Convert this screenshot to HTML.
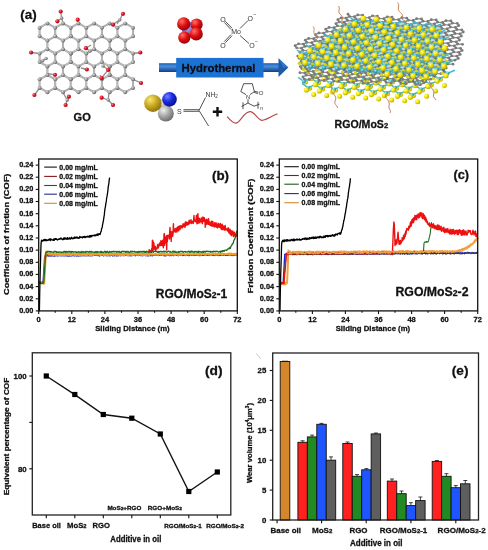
<!DOCTYPE html>
<html><head><meta charset="utf-8"><title>RGO/MoS2 figure</title>
<style>
html,body{margin:0;padding:0;background:#fff;}
body{width:488px;height:550px;overflow:hidden;}
svg{display:block;filter:blur(0.3px);}
text{font-family:'Liberation Sans',Arial,sans-serif;font-weight:bold;stroke:#111;stroke-width:0.28px;}
</style></head>
<body>
<svg width="488" height="550" viewBox="0 0 488 550">
<defs>
<radialGradient id="gC" cx="0.35" cy="0.35" r="0.7"><stop offset="0" stop-color="#d8d8d8"/><stop offset="0.6" stop-color="#8e8e8e"/><stop offset="1" stop-color="#5a5a5a"/></radialGradient>
<radialGradient id="gO" cx="0.35" cy="0.35" r="0.7"><stop offset="0" stop-color="#ff8080"/><stop offset="0.5" stop-color="#e01020"/><stop offset="1" stop-color="#a00010"/></radialGradient>
<radialGradient id="gS" cx="0.35" cy="0.35" r="0.7"><stop offset="0" stop-color="#ffff9a"/><stop offset="0.5" stop-color="#f2e200"/><stop offset="1" stop-color="#b8a800"/></radialGradient>
<radialGradient id="gMo" cx="0.35" cy="0.35" r="0.7"><stop offset="0" stop-color="#a0f0f8"/><stop offset="0.6" stop-color="#38b0c0"/><stop offset="1" stop-color="#207888"/></radialGradient>
<radialGradient id="gS2" cx="0.35" cy="0.3" r="0.75"><stop offset="0" stop-color="#f8e878"/><stop offset="0.5" stop-color="#c8a820"/><stop offset="1" stop-color="#8a7010"/></radialGradient>
<radialGradient id="gN" cx="0.35" cy="0.3" r="0.75"><stop offset="0" stop-color="#7080ff"/><stop offset="0.5" stop-color="#1828e0"/><stop offset="1" stop-color="#0a1080"/></radialGradient>
<radialGradient id="gC2" cx="0.35" cy="0.3" r="0.75"><stop offset="0" stop-color="#f0f0f0"/><stop offset="0.5" stop-color="#a8a8a8"/><stop offset="1" stop-color="#686868"/></radialGradient>
<radialGradient id="gO2" cx="0.35" cy="0.3" r="0.75"><stop offset="0" stop-color="#ff7070"/><stop offset="0.5" stop-color="#e01010"/><stop offset="1" stop-color="#900008"/></radialGradient>
<radialGradient id="gP" cx="0.4" cy="0.4" r="0.7"><stop offset="0" stop-color="#a898e8"/><stop offset="1" stop-color="#5848a0"/></radialGradient>
<linearGradient id="gShaft" x1="0" y1="0" x2="0" y2="1"><stop offset="0" stop-color="#1a5fb0"/><stop offset="0.35" stop-color="#4a90e0"/><stop offset="1" stop-color="#123f80"/></linearGradient>
</defs>
<rect width="488" height="550" fill="#fff"/>
<text x="20.3" y="18.6" font-size="12.6" text-anchor="start" fill="#111"  textLength="16.4" lengthAdjust="spacingAndGlyphs">(a)</text>
<path d="M109.6 75.0L117.4 79.3M101.9 27.7L101.9 36.3M78.5 66.4L78.5 75.0M86.3 53.5L86.3 62.1M70.7 62.1L78.5 66.4M78.5 92.2L86.3 87.9M101.9 79.3L101.9 87.9M117.4 53.5L117.4 62.1M101.9 53.5L109.7 49.2M117.4 53.5L125.2 49.2M117.4 62.1L125.2 66.4M55.2 27.7L63.0 23.4M94.1 66.4L101.9 62.1M47.4 40.6L47.4 49.2M101.9 53.5L109.6 49.2M55.2 27.7L55.2 36.3M133.0 79.3L133.0 87.9M101.9 79.3L109.6 75.0M47.4 92.2L55.2 87.9M101.9 62.1L109.7 66.4M94.1 23.4L101.9 27.7M125.2 49.2L133.0 53.5M63.0 92.2L70.7 87.9M125.2 66.4L125.2 75.0M78.5 40.6L78.5 49.2M63.0 40.6L70.7 36.3M47.4 66.4L55.2 62.1M63.0 49.2L70.7 53.5M109.7 40.6L117.4 36.3M55.2 79.3L63.0 75.0M63.0 75.0L70.8 79.3M94.1 92.2L101.9 87.9M109.6 92.2L117.4 87.9M70.7 87.9L78.5 92.2M63.0 40.6L70.8 36.3M78.5 40.6L86.3 36.3M109.7 66.4L109.7 75.0M39.6 79.3L39.6 87.9M78.5 49.2L86.3 53.5M47.4 23.4L55.2 27.7M39.6 27.7L47.4 23.4M47.4 49.2L55.2 53.5M86.3 62.1L94.1 66.4M55.2 53.5L63.0 49.2M63.0 66.4L63.0 75.0M109.7 75.0L117.4 79.3M78.5 23.4L86.3 27.7M63.0 49.2L70.8 53.5M101.9 87.9L109.6 92.2M39.6 27.7L39.6 36.3M125.2 40.6L125.2 49.2M55.2 36.3L63.0 40.6M109.7 66.4L117.4 62.1M125.2 66.4L133.0 62.1M70.7 79.3L70.7 87.9M133.0 53.5L133.0 62.1M109.6 40.6L117.4 36.3M109.7 49.2L117.4 53.5M125.2 40.6L133.0 36.3M86.3 79.3L86.3 87.9M101.9 36.3L109.6 40.6M78.5 66.4L86.3 62.1M39.6 87.9L47.4 92.2M39.6 79.3L47.4 75.0M109.7 40.6L109.7 49.2M39.6 53.5L39.6 62.1M101.9 53.5L101.9 62.1M133.0 27.7L133.0 36.3M47.4 40.6L55.2 36.3M47.4 75.0L55.2 79.3M78.5 75.0L86.3 79.3M63.0 40.6L63.0 49.2M94.1 66.4L94.1 75.0M117.4 79.3L117.4 87.9M94.1 40.6L101.9 36.3M117.4 36.3L125.2 40.6M109.6 66.4L117.4 62.1M125.2 75.0L133.0 79.3M70.8 53.5L78.5 49.2M55.2 62.1L63.0 66.4M94.1 40.6L94.1 49.2M63.0 66.4L70.7 62.1M70.7 27.7L78.5 23.4M101.9 62.1L109.6 66.4M125.2 92.2L133.0 87.9M125.2 23.4L133.0 27.7M86.3 27.7L94.1 23.4M94.1 75.0L101.9 79.3M117.4 27.7L117.4 36.3M117.4 27.7L125.2 23.4M39.6 53.5L47.4 49.2M109.6 23.4L117.4 27.7M70.7 27.7L70.7 36.3M86.3 53.5L94.1 49.2M70.8 79.3L78.5 75.0M109.6 49.2L117.4 53.5M55.2 79.3L55.2 87.9M117.4 87.9L125.2 92.2M101.9 79.3L109.7 75.0M63.0 23.4L70.7 27.7M101.9 27.7L109.6 23.4M55.2 87.9L63.0 92.2M70.7 36.3L78.5 40.6M94.1 49.2L101.9 53.5M70.7 53.5L78.5 49.2M47.4 66.4L47.4 75.0M70.7 79.3L78.5 75.0M117.4 79.3L125.2 75.0M55.2 53.5L55.2 62.1M86.3 87.9L94.1 92.2M39.6 36.3L47.4 40.6M70.8 36.3L78.5 40.6M101.9 36.3L109.7 40.6M86.3 79.3L94.1 75.0M70.7 53.5L70.7 62.1M86.3 36.3L94.1 40.6M39.6 62.1L47.4 66.4M86.3 27.7L86.3 36.3M63.0 75.0L70.7 79.3M70.8 62.1L78.5 66.4M63.0 66.4L70.8 62.1" stroke="#a4a4a4" stroke-width="2.0" fill="none" stroke-linecap="round"/>
<path d="M109.6 75.0L117.4 79.3M101.9 27.7L101.9 36.3M78.5 66.4L78.5 75.0M86.3 53.5L86.3 62.1M70.7 62.1L78.5 66.4M78.5 92.2L86.3 87.9M101.9 79.3L101.9 87.9M117.4 53.5L117.4 62.1M101.9 53.5L109.7 49.2M117.4 53.5L125.2 49.2M117.4 62.1L125.2 66.4M55.2 27.7L63.0 23.4M94.1 66.4L101.9 62.1M47.4 40.6L47.4 49.2M101.9 53.5L109.6 49.2M55.2 27.7L55.2 36.3M133.0 79.3L133.0 87.9M101.9 79.3L109.6 75.0M47.4 92.2L55.2 87.9M101.9 62.1L109.7 66.4M94.1 23.4L101.9 27.7M125.2 49.2L133.0 53.5M63.0 92.2L70.7 87.9M125.2 66.4L125.2 75.0M78.5 40.6L78.5 49.2M63.0 40.6L70.7 36.3M47.4 66.4L55.2 62.1M63.0 49.2L70.7 53.5M109.7 40.6L117.4 36.3M55.2 79.3L63.0 75.0M63.0 75.0L70.8 79.3M94.1 92.2L101.9 87.9M109.6 92.2L117.4 87.9M70.7 87.9L78.5 92.2M63.0 40.6L70.8 36.3M78.5 40.6L86.3 36.3M109.7 66.4L109.7 75.0M39.6 79.3L39.6 87.9M78.5 49.2L86.3 53.5M47.4 23.4L55.2 27.7M39.6 27.7L47.4 23.4M47.4 49.2L55.2 53.5M86.3 62.1L94.1 66.4M55.2 53.5L63.0 49.2M63.0 66.4L63.0 75.0M109.7 75.0L117.4 79.3M78.5 23.4L86.3 27.7M63.0 49.2L70.8 53.5M101.9 87.9L109.6 92.2M39.6 27.7L39.6 36.3M125.2 40.6L125.2 49.2M55.2 36.3L63.0 40.6M109.7 66.4L117.4 62.1M125.2 66.4L133.0 62.1M70.7 79.3L70.7 87.9M133.0 53.5L133.0 62.1M109.6 40.6L117.4 36.3M109.7 49.2L117.4 53.5M125.2 40.6L133.0 36.3M86.3 79.3L86.3 87.9M101.9 36.3L109.6 40.6M78.5 66.4L86.3 62.1M39.6 87.9L47.4 92.2M39.6 79.3L47.4 75.0M109.7 40.6L109.7 49.2M39.6 53.5L39.6 62.1M101.9 53.5L101.9 62.1M133.0 27.7L133.0 36.3M47.4 40.6L55.2 36.3M47.4 75.0L55.2 79.3M78.5 75.0L86.3 79.3M63.0 40.6L63.0 49.2M94.1 66.4L94.1 75.0M117.4 79.3L117.4 87.9M94.1 40.6L101.9 36.3M117.4 36.3L125.2 40.6M109.6 66.4L117.4 62.1M125.2 75.0L133.0 79.3M70.8 53.5L78.5 49.2M55.2 62.1L63.0 66.4M94.1 40.6L94.1 49.2M63.0 66.4L70.7 62.1M70.7 27.7L78.5 23.4M101.9 62.1L109.6 66.4M125.2 92.2L133.0 87.9M125.2 23.4L133.0 27.7M86.3 27.7L94.1 23.4M94.1 75.0L101.9 79.3M117.4 27.7L117.4 36.3M117.4 27.7L125.2 23.4M39.6 53.5L47.4 49.2M109.6 23.4L117.4 27.7M70.7 27.7L70.7 36.3M86.3 53.5L94.1 49.2M70.8 79.3L78.5 75.0M109.6 49.2L117.4 53.5M55.2 79.3L55.2 87.9M117.4 87.9L125.2 92.2M101.9 79.3L109.7 75.0M63.0 23.4L70.7 27.7M101.9 27.7L109.6 23.4M55.2 87.9L63.0 92.2M70.7 36.3L78.5 40.6M94.1 49.2L101.9 53.5M70.7 53.5L78.5 49.2M47.4 66.4L47.4 75.0M70.7 79.3L78.5 75.0M117.4 79.3L125.2 75.0M55.2 53.5L55.2 62.1M86.3 87.9L94.1 92.2M39.6 36.3L47.4 40.6M70.8 36.3L78.5 40.6M101.9 36.3L109.7 40.6M86.3 79.3L94.1 75.0M70.7 53.5L70.7 62.1M86.3 36.3L94.1 40.6M39.6 62.1L47.4 66.4M86.3 27.7L86.3 36.3M63.0 75.0L70.7 79.3M70.8 62.1L78.5 66.4M63.0 66.4L70.8 62.1" stroke="#c4c4c4" stroke-width="0.8" fill="none" stroke-linecap="round"/>
<path d="M61.6 18L60.7 11.5M61.6 18L57.4 21.3M61.6 18L63 23.4M77.7 19.7L78.5 23.4M119.7 19.7L123 13.8M119.7 19.7L113 24.6M119.7 19.7L117 24M85.9 48.2L90 51M85.9 48.2L91 45M31.1 52.5L39.6 53.5M42.6 60.7L39.6 62.1M42.6 60.7L46 58.5M86.9 69.5L81 68M108.2 69.8L101.6 78M108.2 69.8L103 66M101.6 78L100 75M55 74.8L47.4 73.5M140.3 52.5L133 53.5M141 83L133 79.3M34.4 95L39.6 88M67.2 100L68.9 96.7M67.2 100L65.6 105M67.2 100L63 92.5M108.2 100L101.6 97.7M108.2 100L113 105M108.2 100L109 92.5" stroke="#909090" stroke-width="1.3" fill="none"/>
<circle cx="47.4" cy="23.4" r="2.0" fill="url(#gC)"/>
<circle cx="55.2" cy="27.7" r="2.0" fill="url(#gC)"/>
<circle cx="55.2" cy="36.3" r="2.0" fill="url(#gC)"/>
<circle cx="47.4" cy="40.6" r="2.0" fill="url(#gC)"/>
<circle cx="39.6" cy="36.3" r="2.0" fill="url(#gC)"/>
<circle cx="39.6" cy="27.7" r="2.0" fill="url(#gC)"/>
<circle cx="63.0" cy="23.4" r="2.0" fill="url(#gC)"/>
<circle cx="70.7" cy="27.7" r="2.0" fill="url(#gC)"/>
<circle cx="70.7" cy="36.3" r="2.0" fill="url(#gC)"/>
<circle cx="63.0" cy="40.6" r="2.0" fill="url(#gC)"/>
<circle cx="78.5" cy="23.4" r="2.0" fill="url(#gC)"/>
<circle cx="86.3" cy="27.7" r="2.0" fill="url(#gC)"/>
<circle cx="86.3" cy="36.3" r="2.0" fill="url(#gC)"/>
<circle cx="78.5" cy="40.6" r="2.0" fill="url(#gC)"/>
<circle cx="94.1" cy="23.4" r="2.0" fill="url(#gC)"/>
<circle cx="101.9" cy="27.7" r="2.0" fill="url(#gC)"/>
<circle cx="101.9" cy="36.3" r="2.0" fill="url(#gC)"/>
<circle cx="94.1" cy="40.6" r="2.0" fill="url(#gC)"/>
<circle cx="109.6" cy="23.4" r="2.0" fill="url(#gC)"/>
<circle cx="117.4" cy="27.7" r="2.0" fill="url(#gC)"/>
<circle cx="117.4" cy="36.3" r="2.0" fill="url(#gC)"/>
<circle cx="109.6" cy="40.6" r="2.0" fill="url(#gC)"/>
<circle cx="125.2" cy="23.4" r="2.0" fill="url(#gC)"/>
<circle cx="133.0" cy="27.7" r="2.0" fill="url(#gC)"/>
<circle cx="133.0" cy="36.3" r="2.0" fill="url(#gC)"/>
<circle cx="125.2" cy="40.6" r="2.0" fill="url(#gC)"/>
<circle cx="63.0" cy="49.2" r="2.0" fill="url(#gC)"/>
<circle cx="55.2" cy="53.5" r="2.0" fill="url(#gC)"/>
<circle cx="47.4" cy="49.2" r="2.0" fill="url(#gC)"/>
<circle cx="70.8" cy="36.3" r="2.0" fill="url(#gC)"/>
<circle cx="78.5" cy="49.2" r="2.0" fill="url(#gC)"/>
<circle cx="70.8" cy="53.5" r="2.0" fill="url(#gC)"/>
<circle cx="94.1" cy="49.2" r="2.0" fill="url(#gC)"/>
<circle cx="86.3" cy="53.5" r="2.0" fill="url(#gC)"/>
<circle cx="109.7" cy="40.6" r="2.0" fill="url(#gC)"/>
<circle cx="109.7" cy="49.2" r="2.0" fill="url(#gC)"/>
<circle cx="101.9" cy="53.5" r="2.0" fill="url(#gC)"/>
<circle cx="125.2" cy="49.2" r="2.0" fill="url(#gC)"/>
<circle cx="117.4" cy="53.5" r="2.0" fill="url(#gC)"/>
<circle cx="55.2" cy="62.1" r="2.0" fill="url(#gC)"/>
<circle cx="47.4" cy="66.4" r="2.0" fill="url(#gC)"/>
<circle cx="39.6" cy="62.1" r="2.0" fill="url(#gC)"/>
<circle cx="39.6" cy="53.5" r="2.0" fill="url(#gC)"/>
<circle cx="70.7" cy="53.5" r="2.0" fill="url(#gC)"/>
<circle cx="70.7" cy="62.1" r="2.0" fill="url(#gC)"/>
<circle cx="63.0" cy="66.4" r="2.0" fill="url(#gC)"/>
<circle cx="86.3" cy="62.1" r="2.0" fill="url(#gC)"/>
<circle cx="78.5" cy="66.4" r="2.0" fill="url(#gC)"/>
<circle cx="101.9" cy="62.1" r="2.0" fill="url(#gC)"/>
<circle cx="94.1" cy="66.4" r="2.0" fill="url(#gC)"/>
<circle cx="109.6" cy="49.2" r="2.0" fill="url(#gC)"/>
<circle cx="117.4" cy="62.1" r="2.0" fill="url(#gC)"/>
<circle cx="109.6" cy="66.4" r="2.0" fill="url(#gC)"/>
<circle cx="133.0" cy="53.5" r="2.0" fill="url(#gC)"/>
<circle cx="133.0" cy="62.1" r="2.0" fill="url(#gC)"/>
<circle cx="125.2" cy="66.4" r="2.0" fill="url(#gC)"/>
<circle cx="63.0" cy="75.0" r="2.0" fill="url(#gC)"/>
<circle cx="55.2" cy="79.3" r="2.0" fill="url(#gC)"/>
<circle cx="47.4" cy="75.0" r="2.0" fill="url(#gC)"/>
<circle cx="70.8" cy="62.1" r="2.0" fill="url(#gC)"/>
<circle cx="78.5" cy="75.0" r="2.0" fill="url(#gC)"/>
<circle cx="70.8" cy="79.3" r="2.0" fill="url(#gC)"/>
<circle cx="94.1" cy="75.0" r="2.0" fill="url(#gC)"/>
<circle cx="86.3" cy="79.3" r="2.0" fill="url(#gC)"/>
<circle cx="109.7" cy="66.4" r="2.0" fill="url(#gC)"/>
<circle cx="109.7" cy="75.0" r="2.0" fill="url(#gC)"/>
<circle cx="101.9" cy="79.3" r="2.0" fill="url(#gC)"/>
<circle cx="125.2" cy="75.0" r="2.0" fill="url(#gC)"/>
<circle cx="117.4" cy="79.3" r="2.0" fill="url(#gC)"/>
<circle cx="55.2" cy="87.9" r="2.0" fill="url(#gC)"/>
<circle cx="47.4" cy="92.2" r="2.0" fill="url(#gC)"/>
<circle cx="39.6" cy="87.9" r="2.0" fill="url(#gC)"/>
<circle cx="39.6" cy="79.3" r="2.0" fill="url(#gC)"/>
<circle cx="70.7" cy="79.3" r="2.0" fill="url(#gC)"/>
<circle cx="70.7" cy="87.9" r="2.0" fill="url(#gC)"/>
<circle cx="63.0" cy="92.2" r="2.0" fill="url(#gC)"/>
<circle cx="86.3" cy="87.9" r="2.0" fill="url(#gC)"/>
<circle cx="78.5" cy="92.2" r="2.0" fill="url(#gC)"/>
<circle cx="101.9" cy="87.9" r="2.0" fill="url(#gC)"/>
<circle cx="94.1" cy="92.2" r="2.0" fill="url(#gC)"/>
<circle cx="109.6" cy="75.0" r="2.0" fill="url(#gC)"/>
<circle cx="117.4" cy="87.9" r="2.0" fill="url(#gC)"/>
<circle cx="109.6" cy="92.2" r="2.0" fill="url(#gC)"/>
<circle cx="133.0" cy="79.3" r="2.0" fill="url(#gC)"/>
<circle cx="133.0" cy="87.9" r="2.0" fill="url(#gC)"/>
<circle cx="125.2" cy="92.2" r="2.0" fill="url(#gC)"/>
<circle cx="61.6" cy="18" r="1.8" fill="url(#gC)"/>
<circle cx="119.7" cy="19.7" r="1.8" fill="url(#gC)"/>
<circle cx="42.6" cy="60.7" r="1.8" fill="url(#gC)"/>
<circle cx="67.2" cy="100" r="1.8" fill="url(#gC)"/>
<circle cx="108.2" cy="100" r="1.8" fill="url(#gC)"/>
<circle cx="46" cy="58.5" r="1.8" fill="url(#gC)"/>
<circle cx="90" cy="51" r="1.8" fill="url(#gC)"/>
<circle cx="103" cy="66" r="1.8" fill="url(#gC)"/>
<circle cx="60.7" cy="11.5" r="2.1" fill="url(#gO)"/>
<circle cx="57.4" cy="21.3" r="2.1" fill="url(#gO)"/>
<circle cx="77.7" cy="19.7" r="2.1" fill="url(#gO)"/>
<circle cx="123" cy="13.8" r="2.1" fill="url(#gO)"/>
<circle cx="113" cy="24.6" r="2.1" fill="url(#gO)"/>
<circle cx="85.9" cy="48.2" r="2.1" fill="url(#gO)"/>
<circle cx="31.1" cy="52.5" r="2.1" fill="url(#gO)"/>
<circle cx="86.9" cy="69.5" r="2.1" fill="url(#gO)"/>
<circle cx="108.2" cy="69.8" r="2.1" fill="url(#gO)"/>
<circle cx="101.6" cy="78" r="2.1" fill="url(#gO)"/>
<circle cx="55" cy="74.8" r="2.1" fill="url(#gO)"/>
<circle cx="140.3" cy="52.5" r="2.1" fill="url(#gO)"/>
<circle cx="141" cy="83" r="2.1" fill="url(#gO)"/>
<circle cx="34.4" cy="95" r="2.1" fill="url(#gO)"/>
<circle cx="68.9" cy="96.7" r="2.1" fill="url(#gO)"/>
<circle cx="65.6" cy="105" r="2.1" fill="url(#gO)"/>
<circle cx="101.6" cy="97.7" r="2.1" fill="url(#gO)"/>
<circle cx="113" cy="105" r="2.1" fill="url(#gO)"/>
<text x="73.6" y="121.4" font-size="11.0" text-anchor="start" fill="#111"  textLength="17.2" lengthAdjust="spacingAndGlyphs">GO</text>
<circle cx="189.8" cy="29.8" r="8" fill="url(#gP)"/>
<circle cx="184.3" cy="37.6" r="6.1" fill="url(#gO2)"/>
<circle cx="183.7" cy="23.9" r="6.6" fill="url(#gO2)"/>
<circle cx="196.6" cy="24.5" r="6.1" fill="url(#gO2)"/>
<circle cx="196.2" cy="33.9" r="6.6" fill="url(#gO2)"/>
<g stroke="#333" stroke-width="0.85" fill="none"><path d="M225.3 21.2L232 28.3M224.3 22.4L231 29.5"/><path d="M225.3 42.8L232 35.7M224.3 41.6L231 34.5"/><path d="M240 28.5L248 20.5M240 35.5L249 43.5"/></g>
<text x="222.9" y="21.7" font-size="7.0" text-anchor="middle" fill="#333" font-weight="normal" style="font-weight:normal;stroke:none">O</text>
<text x="222.9" y="47.7" font-size="7.0" text-anchor="middle" fill="#333" font-weight="normal" style="font-weight:normal;stroke:none">O</text>
<text x="250.3" y="21.1" font-size="7.0" text-anchor="middle" fill="#333" font-weight="normal" style="font-weight:normal;stroke:none">O</text>
<text x="252.0" y="47.7" font-size="7.0" text-anchor="middle" fill="#333" font-weight="normal" style="font-weight:normal;stroke:none">O</text>
<text x="254.6" y="16.0" font-size="5.5" text-anchor="middle" fill="#333" font-weight="normal" style="font-weight:normal;stroke:none">−</text>
<text x="256.4" y="42.6" font-size="5.5" text-anchor="middle" fill="#333" font-weight="normal" style="font-weight:normal;stroke:none">−</text>
<text x="236.0" y="34.2" font-size="7.0" text-anchor="middle" fill="#333" font-weight="normal" style="font-weight:normal;stroke:none">Mo</text>
<rect x="159" y="63.2" width="120" height="8.8" fill="url(#gShaft)"/>
<polygon points="278.5,58.2 288.3,67.6 278.5,77.0" fill="#1d5aa8"/>
<polygon points="278.5,58.2 288.3,67.6 283,67.6" fill="#2e74c8"/>
<rect x="176.2" y="57.9" width="87.3" height="19.6" fill="#1b72d2"/>
<text x="181.6" y="71.6" font-size="11.4" text-anchor="start" fill="#0a0a14"  textLength="73.8" lengthAdjust="spacingAndGlyphs">Hydrothermal</text>
<circle cx="163.5" cy="105" r="6.0" fill="url(#gC2)"/>
<circle cx="165.8" cy="113.5" r="8.0" fill="url(#gC2)"/>
<circle cx="169.5" cy="99.4" r="7.3" fill="url(#gN)"/>
<circle cx="152.9" cy="103.2" r="8.7" fill="url(#gS2)"/>
<g stroke="#333" stroke-width="0.85" fill="none"><path d="M183.5 109.7H199M183.5 111.3H199"/><path d="M199 110.5L205.5 97.5M199 110.5L208.6 126"/></g>
<text x="179.4" y="113.9" font-size="7.0" text-anchor="middle" fill="#333" font-weight="normal" style="font-weight:normal;stroke:none">S</text>
<text x="205.5" y="96.6" font-size="6.8" fill="#333" font-weight="normal" style="font-weight:normal;stroke:none">NH<tspan font-size="4.5" dy="1.5">2</tspan></text>
<path d="M217.5 107V116.4M212.8 111.7H222.2" stroke="#111" stroke-width="2.4"/>
<g stroke="#333" stroke-width="0.85" fill="none"><path d="M243.7 83.7L252.3 83.7L254.4 91.6L250 94.6M246 94.6L240.8 91.6L243.7 83.7"/><path d="M254.4 91.2L258.3 92.3M254.1 92.4L258 93.5"/><path d="M248 99.2V103M248 103L241.5 106.5M248 103L254 106.2L259.5 104.2"/><path d="M243 102.3V109.2M258 101.8V108.8"/></g>
<text x="248.0" y="99.0" font-size="5.8" text-anchor="middle" fill="#333" font-weight="normal" style="font-weight:normal;stroke:none">N</text>
<text x="261.0" y="95.3" font-size="6.0" text-anchor="middle" fill="#333" font-weight="normal" style="font-weight:normal;stroke:none">O</text>
<text x="261.6" y="109.8" font-size="5.0" text-anchor="middle" fill="#333" font-weight="normal" style="font-weight:normal;stroke:none">n</text>
<path d="M227.2 116.7C230 120 233 123.5 236 123.2C240 123 244 111.5 250.1 111.7C255 111.9 258 120.5 262 120.3C267 120 272 115.5 277.4 113.9" stroke="#b84848" stroke-width="1.2" fill="none"/>
<circle cx="305.5" cy="81.9" r="2.5" fill="url(#gS)"/>
<circle cx="309.6" cy="88.2" r="2.5" fill="url(#gS)"/>
<circle cx="313.7" cy="94.5" r="2.5" fill="url(#gS)"/>
<circle cx="314.4" cy="76.6" r="2.5" fill="url(#gS)"/>
<circle cx="318.5" cy="82.8" r="2.5" fill="url(#gS)"/>
<circle cx="322.6" cy="89.1" r="2.5" fill="url(#gS)"/>
<circle cx="326.7" cy="95.4" r="2.5" fill="url(#gS)"/>
<circle cx="327.4" cy="77.5" r="2.5" fill="url(#gS)"/>
<circle cx="331.5" cy="83.7" r="2.5" fill="url(#gS)"/>
<circle cx="335.6" cy="90.0" r="2.5" fill="url(#gS)"/>
<circle cx="339.7" cy="96.3" r="2.5" fill="url(#gS)"/>
<circle cx="340.4" cy="78.4" r="2.5" fill="url(#gS)"/>
<circle cx="344.5" cy="84.6" r="2.5" fill="url(#gS)"/>
<circle cx="348.6" cy="90.9" r="2.5" fill="url(#gS)"/>
<circle cx="352.7" cy="97.2" r="2.5" fill="url(#gS)"/>
<circle cx="353.4" cy="79.3" r="2.5" fill="url(#gS)"/>
<circle cx="357.5" cy="85.5" r="2.5" fill="url(#gS)"/>
<circle cx="361.6" cy="91.8" r="2.5" fill="url(#gS)"/>
<circle cx="365.7" cy="98.1" r="2.5" fill="url(#gS)"/>
<circle cx="366.4" cy="80.2" r="2.5" fill="url(#gS)"/>
<circle cx="370.5" cy="86.4" r="2.5" fill="url(#gS)"/>
<circle cx="374.6" cy="92.7" r="2.5" fill="url(#gS)"/>
<circle cx="378.7" cy="99.0" r="2.5" fill="url(#gS)"/>
<circle cx="379.4" cy="81.1" r="2.5" fill="url(#gS)"/>
<circle cx="383.5" cy="87.3" r="2.5" fill="url(#gS)"/>
<circle cx="387.6" cy="93.6" r="2.5" fill="url(#gS)"/>
<circle cx="391.7" cy="99.9" r="2.5" fill="url(#gS)"/>
<circle cx="392.4" cy="82.0" r="2.5" fill="url(#gS)"/>
<circle cx="396.5" cy="88.2" r="2.5" fill="url(#gS)"/>
<circle cx="400.6" cy="94.5" r="2.5" fill="url(#gS)"/>
<circle cx="404.7" cy="100.8" r="2.5" fill="url(#gS)"/>
<circle cx="405.4" cy="82.9" r="2.5" fill="url(#gS)"/>
<circle cx="409.5" cy="89.1" r="2.5" fill="url(#gS)"/>
<circle cx="413.6" cy="95.4" r="2.5" fill="url(#gS)"/>
<circle cx="417.7" cy="101.7" r="2.5" fill="url(#gS)"/>
<circle cx="418.4" cy="83.8" r="2.5" fill="url(#gS)"/>
<circle cx="422.5" cy="90.0" r="2.5" fill="url(#gS)"/>
<circle cx="426.6" cy="96.3" r="2.5" fill="url(#gS)"/>
<circle cx="431.4" cy="84.7" r="2.5" fill="url(#gS)"/>
<circle cx="435.5" cy="90.9" r="2.5" fill="url(#gS)"/>
<circle cx="440.3" cy="79.3" r="2.5" fill="url(#gS)"/>
<circle cx="444.4" cy="85.6" r="2.5" fill="url(#gS)"/>
<path d="M303.9 81.3L298.2 77.4M303.9 81.3l7.3 -3.0M303.9 81.3l-1.6 2.4M308.0 87.6L302.3 83.7M308.0 87.6l7.3 -3.0M308.0 87.6l-1.6 2.4M308.7 69.7L303.0 65.8M308.7 69.7l7.3 -3.0M308.7 69.7l-1.6 2.4M312.8 76.0L307.1 72.1M312.8 76.0l7.3 -3.0M312.8 76.0l-1.6 2.4M316.9 82.2L311.2 78.3M316.9 82.2l7.3 -3.0M316.9 82.2l-1.6 2.4M321.0 88.5L315.3 84.6M321.0 88.5l7.3 -3.0M321.0 88.5l-1.6 2.4M321.7 70.6L316.0 66.7M321.7 70.6l7.3 -3.0M321.7 70.6l-1.6 2.4M325.8 76.9L320.1 73.0M325.8 76.9l7.3 -3.0M325.8 76.9l-1.6 2.4M329.9 83.1L324.2 79.2M329.9 83.1l7.3 -3.0M329.9 83.1l-1.6 2.4M334.0 89.4L328.3 85.5M334.0 89.4l7.3 -3.0M334.0 89.4l-1.6 2.4M334.7 71.5L329.0 67.6M334.7 71.5l7.3 -3.0M334.7 71.5l-1.6 2.4M338.8 77.8L333.1 73.9M338.8 77.8l7.3 -3.0M338.8 77.8l-1.6 2.4M342.9 84.0L337.2 80.1M342.9 84.0l7.3 -3.0M342.9 84.0l-1.6 2.4M347.0 90.3L341.3 86.4M347.0 90.3l7.3 -3.0M347.0 90.3l-1.6 2.4M347.7 72.4L342.0 68.5M347.7 72.4l7.3 -3.0M347.7 72.4l-1.6 2.4M351.8 78.7L346.1 74.8M351.8 78.7l7.3 -3.0M351.8 78.7l-1.6 2.4M355.9 84.9L350.2 81.0M355.9 84.9l7.3 -3.0M355.9 84.9l-1.6 2.4M360.0 91.2L354.3 87.3M360.0 91.2l7.3 -3.0M360.0 91.2l-1.6 2.4M360.7 73.3L355.0 69.4M360.7 73.3l7.3 -3.0M360.7 73.3l-1.6 2.4M364.8 79.6L359.1 75.7M364.8 79.6l7.3 -3.0M364.8 79.6l-1.6 2.4M368.9 85.8L363.2 81.9M368.9 85.8l7.3 -3.0M368.9 85.8l-1.6 2.4M373.0 92.1L367.3 88.2M373.0 92.1l7.3 -3.0M373.0 92.1l-1.6 2.4M373.7 74.2L368.0 70.3M373.7 74.2l7.3 -3.0M373.7 74.2l-1.6 2.4M377.8 80.5L372.1 76.6M377.8 80.5l7.3 -3.0M377.8 80.5l-1.6 2.4M381.9 86.7L376.2 82.8M381.9 86.7l7.3 -3.0M381.9 86.7l-1.6 2.4M386.0 93.0L380.3 89.1M386.0 93.0l7.3 -3.0M386.0 93.0l-1.6 2.4M386.7 75.1L381.0 71.2M386.7 75.1l7.3 -3.0M386.7 75.1l-1.6 2.4M390.8 81.4L385.1 77.5M390.8 81.4l7.3 -3.0M390.8 81.4l-1.6 2.4M394.9 87.6L389.2 83.7M394.9 87.6l7.3 -3.0M394.9 87.6l-1.6 2.4M399.0 93.9L393.3 90.0M399.0 93.9l7.3 -3.0M399.0 93.9l-1.6 2.4M399.7 76.0L394.0 72.1M399.7 76.0l7.3 -3.0M399.7 76.0l-1.6 2.4M403.8 82.3L398.1 78.4M403.8 82.3l7.3 -3.0M403.8 82.3l-1.6 2.4M407.9 88.5L402.2 84.6M407.9 88.5l7.3 -3.0M407.9 88.5l-1.6 2.4M412.0 94.8L406.3 90.9M412.0 94.8l7.3 -3.0M412.0 94.8l-1.6 2.4M412.7 76.9L407.0 73.0M412.7 76.9l7.3 -3.0M412.7 76.9l-1.6 2.4M416.8 83.2L411.1 79.3M416.8 83.2l7.3 -3.0M416.8 83.2l-1.6 2.4M420.9 89.4L415.2 85.5M420.9 89.4l7.3 -3.0M420.9 89.4l-1.6 2.4M425.7 77.8L420.0 73.9M425.7 77.8l7.3 -3.0M425.7 77.8l-1.6 2.4M429.8 84.1L424.1 80.2M429.8 84.1l7.3 -3.0M429.8 84.1l-1.6 2.4M438.7 78.7L433.0 74.8M438.7 78.7l7.3 -3.0M438.7 78.7l-1.6 2.4M447.6 73.3L441.9 69.4M447.6 73.3l7.3 -3.0M447.6 73.3l-1.6 2.4" stroke="#48b8c6" stroke-width="1.5" fill="none"/>
<circle cx="303.9" cy="81.3" r="1.9" fill="url(#gMo)"/>
<circle cx="308.0" cy="87.6" r="1.9" fill="url(#gMo)"/>
<circle cx="308.7" cy="69.7" r="1.9" fill="url(#gMo)"/>
<circle cx="312.8" cy="76.0" r="1.9" fill="url(#gMo)"/>
<circle cx="316.9" cy="82.2" r="1.9" fill="url(#gMo)"/>
<circle cx="321.0" cy="88.5" r="1.9" fill="url(#gMo)"/>
<circle cx="321.7" cy="70.6" r="1.9" fill="url(#gMo)"/>
<circle cx="325.8" cy="76.9" r="1.9" fill="url(#gMo)"/>
<circle cx="329.9" cy="83.1" r="1.9" fill="url(#gMo)"/>
<circle cx="334.0" cy="89.4" r="1.9" fill="url(#gMo)"/>
<circle cx="334.7" cy="71.5" r="1.9" fill="url(#gMo)"/>
<circle cx="338.8" cy="77.8" r="1.9" fill="url(#gMo)"/>
<circle cx="342.9" cy="84.0" r="1.9" fill="url(#gMo)"/>
<circle cx="347.0" cy="90.3" r="1.9" fill="url(#gMo)"/>
<circle cx="347.7" cy="72.4" r="1.9" fill="url(#gMo)"/>
<circle cx="351.8" cy="78.7" r="1.9" fill="url(#gMo)"/>
<circle cx="355.9" cy="84.9" r="1.9" fill="url(#gMo)"/>
<circle cx="360.0" cy="91.2" r="1.9" fill="url(#gMo)"/>
<circle cx="360.7" cy="73.3" r="1.9" fill="url(#gMo)"/>
<circle cx="364.8" cy="79.6" r="1.9" fill="url(#gMo)"/>
<circle cx="368.9" cy="85.8" r="1.9" fill="url(#gMo)"/>
<circle cx="373.0" cy="92.1" r="1.9" fill="url(#gMo)"/>
<circle cx="373.7" cy="74.2" r="1.9" fill="url(#gMo)"/>
<circle cx="377.8" cy="80.5" r="1.9" fill="url(#gMo)"/>
<circle cx="381.9" cy="86.7" r="1.9" fill="url(#gMo)"/>
<circle cx="386.0" cy="93.0" r="1.9" fill="url(#gMo)"/>
<circle cx="386.7" cy="75.1" r="1.9" fill="url(#gMo)"/>
<circle cx="390.8" cy="81.4" r="1.9" fill="url(#gMo)"/>
<circle cx="394.9" cy="87.6" r="1.9" fill="url(#gMo)"/>
<circle cx="399.0" cy="93.9" r="1.9" fill="url(#gMo)"/>
<circle cx="399.7" cy="76.0" r="1.9" fill="url(#gMo)"/>
<circle cx="403.8" cy="82.3" r="1.9" fill="url(#gMo)"/>
<circle cx="407.9" cy="88.5" r="1.9" fill="url(#gMo)"/>
<circle cx="412.0" cy="94.8" r="1.9" fill="url(#gMo)"/>
<circle cx="412.7" cy="76.9" r="1.9" fill="url(#gMo)"/>
<circle cx="416.8" cy="83.2" r="1.9" fill="url(#gMo)"/>
<circle cx="420.9" cy="89.4" r="1.9" fill="url(#gMo)"/>
<circle cx="425.7" cy="77.8" r="1.9" fill="url(#gMo)"/>
<circle cx="429.8" cy="84.1" r="1.9" fill="url(#gMo)"/>
<circle cx="438.7" cy="78.7" r="1.9" fill="url(#gMo)"/>
<circle cx="447.6" cy="73.3" r="1.9" fill="url(#gMo)"/>
<circle cx="306.4" cy="90.0" r="2.6" fill="url(#gS)"/>
<circle cx="307.1" cy="72.1" r="2.6" fill="url(#gS)"/>
<circle cx="311.2" cy="78.3" r="2.6" fill="url(#gS)"/>
<circle cx="315.3" cy="84.6" r="2.6" fill="url(#gS)"/>
<circle cx="319.4" cy="90.9" r="2.6" fill="url(#gS)"/>
<circle cx="320.1" cy="73.0" r="2.6" fill="url(#gS)"/>
<circle cx="324.2" cy="79.2" r="2.6" fill="url(#gS)"/>
<circle cx="328.3" cy="85.5" r="2.6" fill="url(#gS)"/>
<circle cx="332.4" cy="91.8" r="2.6" fill="url(#gS)"/>
<circle cx="333.1" cy="73.9" r="2.6" fill="url(#gS)"/>
<circle cx="337.2" cy="80.1" r="2.6" fill="url(#gS)"/>
<circle cx="341.3" cy="86.4" r="2.6" fill="url(#gS)"/>
<circle cx="345.4" cy="92.7" r="2.6" fill="url(#gS)"/>
<circle cx="346.1" cy="74.8" r="2.6" fill="url(#gS)"/>
<circle cx="350.2" cy="81.0" r="2.6" fill="url(#gS)"/>
<circle cx="354.3" cy="87.3" r="2.6" fill="url(#gS)"/>
<circle cx="358.4" cy="93.6" r="2.6" fill="url(#gS)"/>
<circle cx="359.1" cy="75.7" r="2.6" fill="url(#gS)"/>
<circle cx="363.2" cy="81.9" r="2.6" fill="url(#gS)"/>
<circle cx="367.3" cy="88.2" r="2.6" fill="url(#gS)"/>
<circle cx="371.4" cy="94.5" r="2.6" fill="url(#gS)"/>
<circle cx="372.1" cy="76.6" r="2.6" fill="url(#gS)"/>
<circle cx="376.2" cy="82.8" r="2.6" fill="url(#gS)"/>
<circle cx="380.3" cy="89.1" r="2.6" fill="url(#gS)"/>
<circle cx="384.4" cy="95.4" r="2.6" fill="url(#gS)"/>
<circle cx="385.1" cy="77.5" r="2.6" fill="url(#gS)"/>
<circle cx="389.2" cy="83.7" r="2.6" fill="url(#gS)"/>
<circle cx="393.3" cy="90.0" r="2.6" fill="url(#gS)"/>
<circle cx="397.4" cy="96.3" r="2.6" fill="url(#gS)"/>
<circle cx="398.1" cy="78.4" r="2.6" fill="url(#gS)"/>
<circle cx="402.2" cy="84.6" r="2.6" fill="url(#gS)"/>
<circle cx="406.3" cy="90.9" r="2.6" fill="url(#gS)"/>
<circle cx="410.4" cy="97.2" r="2.6" fill="url(#gS)"/>
<circle cx="411.1" cy="79.3" r="2.6" fill="url(#gS)"/>
<circle cx="415.2" cy="85.5" r="2.6" fill="url(#gS)"/>
<circle cx="419.3" cy="91.8" r="2.6" fill="url(#gS)"/>
<circle cx="424.1" cy="80.2" r="2.6" fill="url(#gS)"/>
<circle cx="428.2" cy="86.4" r="2.6" fill="url(#gS)"/>
<circle cx="437.1" cy="81.1" r="2.6" fill="url(#gS)"/>
<circle cx="446.0" cy="75.7" r="2.6" fill="url(#gS)"/>
<path d="M295.1 45.7L296.6 47.8M295.1 45.7L298.5 43.8M296.6 47.8L295.1 45.7M296.6 47.8L301.5 48.2M297.7 56.1L299.2 58.3M297.7 56.1L301.1 54.3M298.5 43.8L295.1 45.7M298.5 43.8L303.4 44.2M299.2 58.3L297.7 56.1M299.2 58.3L304.1 58.6M299.6 52.1L301.1 54.3M299.6 52.1L303.0 50.3M299.9 72.7L304.8 73.0M300.3 66.6L301.8 68.7M300.3 66.6L303.7 64.7M301.1 54.3L297.7 56.1M301.1 54.3L299.6 52.1M301.1 54.3L306.0 54.6M301.5 48.2L296.6 47.8M301.5 48.2L303.0 50.3M301.5 48.2L304.9 46.3M301.8 68.7L300.3 66.6M301.8 68.7L306.7 69.0M302.2 62.6L303.7 64.7M302.2 62.6L305.6 60.7M302.9 77.0L304.4 79.1M302.9 77.0L306.3 75.2M303.0 50.3L299.6 52.1M303.0 50.3L301.5 48.2M303.0 50.3L307.9 50.6M303.4 44.2L298.5 43.8M303.4 44.2L304.9 46.3M303.4 44.2L306.8 42.3M303.7 64.7L300.3 66.6M303.7 64.7L302.2 62.6M303.7 64.7L308.6 65.0M304.1 58.6L299.2 58.3M304.1 58.6L305.6 60.7M304.1 58.6L307.5 56.8M304.4 79.1L302.9 77.0M304.4 79.1L309.3 79.5M304.8 73.0L299.9 72.7M304.8 73.0L306.3 75.2M304.8 73.0L308.2 71.2M304.9 46.3L301.5 48.2M304.9 46.3L303.4 44.2M304.9 46.3L309.8 46.6M305.3 40.2L306.8 42.3M305.3 40.2L308.7 38.4M305.6 60.7L302.2 62.6M305.6 60.7L304.1 58.6M305.6 60.7L310.5 61.1M306.0 54.6L301.1 54.3M306.0 54.6L307.5 56.8M306.0 54.6L309.4 52.8M306.3 75.2L302.9 77.0M306.3 75.2L304.8 73.0M306.3 75.2L311.2 75.5M306.7 69.0L301.8 68.7M306.7 69.0L308.2 71.2M306.7 69.0L310.1 67.2M306.8 42.3L303.4 44.2M306.8 42.3L305.3 40.2M306.8 42.3L311.7 42.7M307.5 56.8L304.1 58.6M307.5 56.8L306.0 54.6M307.5 56.8L312.4 57.1M307.9 50.6L303.0 50.3M307.9 50.6L309.4 52.8M307.9 50.6L311.3 48.8M308.2 71.2L304.8 73.0M308.2 71.2L306.7 69.0M308.2 71.2L313.1 71.5M308.6 65.0L303.7 64.7M308.6 65.0L310.1 67.2M308.6 65.0L312.0 63.2M308.7 38.4L305.3 40.2M308.7 38.4L313.6 38.7M309.3 79.5L304.4 79.1M309.3 79.5L312.7 77.6M309.4 52.8L306.0 54.6M309.4 52.8L307.9 50.6M309.4 52.8L314.3 53.1M309.8 46.6L304.9 46.3M309.8 46.6L311.3 48.8M309.8 46.6L313.2 44.8M310.1 67.2L306.7 69.0M310.1 67.2L308.6 65.0M310.1 67.2L315.0 67.5M310.5 61.1L305.6 60.7M310.5 61.1L312.0 63.2M310.5 61.1L313.9 59.2M311.2 75.5L306.3 75.2M311.2 75.5L312.7 77.6M311.2 75.5L314.6 73.7M311.3 48.8L307.9 50.6M311.3 48.8L309.8 46.6M311.3 48.8L316.2 49.1M311.7 42.7L306.8 42.3M311.7 42.7L313.2 44.8M311.7 42.7L315.1 40.8M312.0 63.2L308.6 65.0M312.0 63.2L310.5 61.1M312.0 63.2L316.9 63.5M312.4 57.1L307.5 56.8M312.4 57.1L313.9 59.2M312.4 57.1L315.8 55.2M312.7 77.6L309.3 79.5M312.7 77.6L311.2 75.5M312.7 77.6L317.6 78.0M313.1 71.5L308.2 71.2M313.1 71.5L314.6 73.7M313.1 71.5L316.5 69.7M313.2 44.8L309.8 46.6M313.2 44.8L311.7 42.7M313.2 44.8L318.1 45.1M313.6 38.7L308.7 38.4M313.6 38.7L315.1 40.8M313.6 38.7L317.0 36.8M313.9 59.2L310.5 61.1M313.9 59.2L312.4 57.1M313.9 59.2L318.8 59.6M314.3 53.1L309.4 52.8M314.3 53.1L315.8 55.2M314.3 53.1L317.7 51.3M314.6 73.7L311.2 75.5M314.6 73.7L313.1 71.5M314.6 73.7L319.5 74.0M315.0 67.5L310.1 67.2M315.0 67.5L316.5 69.7M315.0 67.5L318.4 65.7M315.1 40.8L311.7 42.7M315.1 40.8L313.6 38.7M315.1 40.8L320.0 41.1M315.5 34.7L317.0 36.8M315.5 34.7L318.9 32.9M315.8 55.2L312.4 57.1M315.8 55.2L314.3 53.1M315.8 55.2L320.7 55.6M316.2 49.1L311.3 48.8M316.2 49.1L317.7 51.3M316.2 49.1L319.6 47.3M316.5 69.7L313.1 71.5M316.5 69.7L315.0 67.5M316.5 69.7L321.4 70.0M316.9 63.5L312.0 63.2M316.9 63.5L318.4 65.7M316.9 63.5L320.3 61.7M317.0 36.8L313.6 38.7M317.0 36.8L315.5 34.7M317.0 36.8L321.9 37.2M317.6 78.0L312.7 77.6M317.6 78.0L319.1 80.1M317.6 78.0L321.0 76.1M317.7 51.3L314.3 53.1M317.7 51.3L316.2 49.1M317.7 51.3L322.6 51.6M318.1 45.1L313.2 44.8M318.1 45.1L319.6 47.3M318.1 45.1L321.5 43.3M318.4 65.7L315.0 67.5M318.4 65.7L316.9 63.5M318.4 65.7L323.3 66.0M318.8 59.6L313.9 59.2M318.8 59.6L320.3 61.7M318.8 59.6L322.2 57.7M318.9 32.9L315.5 34.7M318.9 32.9L323.8 33.2M319.1 80.1L317.6 78.0M319.1 80.1L324.0 80.4M319.5 74.0L314.6 73.7M319.5 74.0L321.0 76.1M319.5 74.0L322.9 72.1M319.6 47.3L316.2 49.1M319.6 47.3L318.1 45.1M319.6 47.3L324.5 47.6M320.0 41.1L315.1 40.8M320.0 41.1L321.5 43.3M320.0 41.1L323.4 39.3M320.3 61.7L316.9 63.5M320.3 61.7L318.8 59.6M320.3 61.7L325.2 62.0M320.7 55.6L315.8 55.2M320.7 55.6L322.2 57.7M320.7 55.6L324.1 53.7M321.0 76.1L317.6 78.0M321.0 76.1L319.5 74.0M321.0 76.1L325.9 76.4M321.4 70.0L316.5 69.7M321.4 70.0L322.9 72.1M321.4 70.0L324.8 68.2M321.5 43.3L318.1 45.1M321.5 43.3L320.0 41.1M321.5 43.3L326.4 43.6M321.9 37.2L317.0 36.8M321.9 37.2L323.4 39.3M321.9 37.2L325.3 35.3M322.2 57.7L318.8 59.6M322.2 57.7L320.7 55.6M322.2 57.7L327.1 58.0M322.6 51.6L317.7 51.3M322.6 51.6L324.1 53.7M322.6 51.6L326.0 49.8M322.9 72.1L319.5 74.0M322.9 72.1L321.4 70.0M322.9 72.1L327.8 72.5M323.3 66.0L318.4 65.7M323.3 66.0L324.8 68.2M323.3 66.0L326.7 64.2M323.4 39.3L320.0 41.1M323.4 39.3L321.9 37.2M323.4 39.3L328.3 39.6M323.8 33.2L318.9 32.9M323.8 33.2L325.3 35.3M323.8 33.2L327.2 31.3M324.0 80.4L319.1 80.1M324.0 80.4L327.4 78.6M324.1 53.7L320.7 55.6M324.1 53.7L322.6 51.6M324.1 53.7L329.0 54.1M324.5 47.6L319.6 47.3M324.5 47.6L326.0 49.8M324.5 47.6L327.9 45.8M324.8 68.2L321.4 70.0M324.8 68.2L323.3 66.0M324.8 68.2L329.7 68.5M325.2 62.0L320.3 61.7M325.2 62.0L326.7 64.2M325.2 62.0L328.6 60.2M325.3 35.3L321.9 37.2M325.3 35.3L323.8 33.2M325.3 35.3L330.2 35.6M325.7 29.2L327.2 31.3M325.7 29.2L329.1 27.4M325.9 76.4L321.0 76.1M325.9 76.4L327.4 78.6M325.9 76.4L329.3 74.6M326.0 49.8L322.6 51.6M326.0 49.8L324.5 47.6M326.0 49.8L330.9 50.1M326.4 43.6L321.5 43.3M326.4 43.6L327.9 45.8M326.4 43.6L329.8 41.8M326.7 64.2L323.3 66.0M326.7 64.2L325.2 62.0M326.7 64.2L331.6 64.5M327.1 58.0L322.2 57.7M327.1 58.0L328.6 60.2M327.1 58.0L330.5 56.2M327.2 31.3L323.8 33.2M327.2 31.3L325.7 29.2M327.2 31.3L332.1 31.7M327.4 78.6L324.0 80.4M327.4 78.6L325.9 76.4M327.4 78.6L332.3 78.9M327.8 72.5L322.9 72.1M327.8 72.5L329.3 74.6M327.8 72.5L331.2 70.6M327.9 45.8L324.5 47.6M327.9 45.8L326.4 43.6M327.9 45.8L332.8 46.1M328.3 39.6L323.4 39.3M328.3 39.6L329.8 41.8M328.3 39.6L331.7 37.8M328.6 60.2L325.2 62.0M328.6 60.2L327.1 58.0M328.6 60.2L333.5 60.5M329.0 54.1L324.1 53.7M329.0 54.1L330.5 56.2M329.0 54.1L332.4 52.2M329.1 27.4L325.7 29.2M329.1 27.4L334.0 27.7M329.3 74.6L325.9 76.4M329.3 74.6L327.8 72.5M329.3 74.6L334.2 74.9M329.7 68.5L324.8 68.2M329.7 68.5L331.2 70.6M329.7 68.5L333.1 66.6M329.8 41.8L326.4 43.6M329.8 41.8L328.3 39.6M329.8 41.8L334.7 42.1M330.2 35.6L325.3 35.3M330.2 35.6L331.7 37.8M330.2 35.6L333.6 33.8M330.5 56.2L327.1 58.0M330.5 56.2L329.0 54.1M330.5 56.2L335.4 56.5M330.9 50.1L326.0 49.8M330.9 50.1L332.4 52.2M330.9 50.1L334.3 48.2M331.2 70.6L327.8 72.5M331.2 70.6L329.7 68.5M331.2 70.6L336.1 71.0M331.6 64.5L326.7 64.2M331.6 64.5L333.1 66.6M331.6 64.5L335.0 62.7M331.7 37.8L328.3 39.6M331.7 37.8L330.2 35.6M331.7 37.8L336.6 38.1M332.1 31.7L327.2 31.3M332.1 31.7L333.6 33.8M332.1 31.7L335.5 29.8M332.3 78.9L327.4 78.6M332.3 78.9L333.8 81.1M332.3 78.9L335.7 77.1M332.4 52.2L329.0 54.1M332.4 52.2L330.9 50.1M332.4 52.2L337.3 52.5M332.8 46.1L327.9 45.8M332.8 46.1L334.3 48.2M332.8 46.1L336.2 44.3M333.1 66.6L329.7 68.5M333.1 66.6L331.6 64.5M333.1 66.6L338.0 67.0M333.5 60.5L328.6 60.2M333.5 60.5L335.0 62.7M333.5 60.5L336.9 58.7M333.6 33.8L330.2 35.6M333.6 33.8L332.1 31.7M333.6 33.8L338.5 34.1M333.8 81.1L332.3 78.9M333.8 81.1L338.7 81.4M334.0 27.7L329.1 27.4M334.0 27.7L335.5 29.8M334.0 27.7L337.4 25.8M334.2 74.9L329.3 74.6M334.2 74.9L335.7 77.1M334.2 74.9L337.6 73.1M334.3 48.2L330.9 50.1M334.3 48.2L332.8 46.1M334.3 48.2L339.2 48.6M334.7 42.1L329.8 41.8M334.7 42.1L336.2 44.3M334.7 42.1L338.1 40.3M335.0 62.7L331.6 64.5M335.0 62.7L333.5 60.5M335.0 62.7L339.9 63.0M335.4 56.5L330.5 56.2M335.4 56.5L336.9 58.7M335.4 56.5L338.8 54.7M335.5 29.8L332.1 31.7M335.5 29.8L334.0 27.7M335.5 29.8L340.4 30.2M335.7 77.1L332.3 78.9M335.7 77.1L334.2 74.9M335.7 77.1L340.6 77.4M335.9 23.7L337.4 25.8M335.9 23.7L339.3 21.9M336.1 71.0L331.2 70.6M336.1 71.0L337.6 73.1M336.1 71.0L339.5 69.1M336.2 44.3L332.8 46.1M336.2 44.3L334.7 42.1M336.2 44.3L341.1 44.6M336.6 38.1L331.7 37.8M336.6 38.1L338.1 40.3M336.6 38.1L340.0 36.3M336.9 58.7L333.5 60.5M336.9 58.7L335.4 56.5M336.9 58.7L341.8 59.0M337.3 52.5L332.4 52.2M337.3 52.5L338.8 54.7M337.3 52.5L340.7 50.7M337.4 25.8L334.0 27.7M337.4 25.8L335.9 23.7M337.4 25.8L342.3 26.2M337.6 73.1L334.2 74.9M337.6 73.1L336.1 71.0M337.6 73.1L342.5 73.4M337.8 19.7L339.3 21.9M337.8 19.7L341.2 17.9M338.0 67.0L333.1 66.6M338.0 67.0L339.5 69.1M338.0 67.0L341.4 65.1M338.1 40.3L334.7 42.1M338.1 40.3L336.6 38.1M338.1 40.3L343.0 40.6M338.5 34.1L333.6 33.8M338.5 34.1L340.0 36.3M338.5 34.1L341.9 32.3M338.7 81.4L333.8 81.1M338.7 81.4L342.1 79.6M338.8 54.7L335.4 56.5M338.8 54.7L337.3 52.5M338.8 54.7L343.7 55.0M339.2 48.6L334.3 48.2M339.2 48.6L340.7 50.7M339.2 48.6L342.6 46.7M339.3 21.9L335.9 23.7M339.3 21.9L337.8 19.7M339.3 21.9L344.2 22.2M339.5 69.1L336.1 71.0M339.5 69.1L338.0 67.0M339.5 69.1L344.4 69.4M339.9 63.0L335.0 62.7M339.9 63.0L341.4 65.1M339.9 63.0L343.3 61.2M340.0 36.3L336.6 38.1M340.0 36.3L338.5 34.1M340.0 36.3L344.9 36.6M340.4 30.2L335.5 29.8M340.4 30.2L341.9 32.3M340.4 30.2L343.8 28.3M340.6 77.4L335.7 77.1M340.6 77.4L342.1 79.6M340.6 77.4L344.0 75.6M340.7 50.7L337.3 52.5M340.7 50.7L339.2 48.6M340.7 50.7L345.6 51.0M341.1 44.6L336.2 44.3M341.1 44.6L342.6 46.7M341.1 44.6L344.5 42.7M341.2 17.9L337.8 19.7M341.2 17.9L346.1 18.2M341.4 65.1L338.0 67.0M341.4 65.1L339.9 63.0M341.4 65.1L346.3 65.5M341.8 59.0L336.9 58.7M341.8 59.0L343.3 61.2M341.8 59.0L345.2 57.2M341.9 32.3L338.5 34.1M341.9 32.3L340.4 30.2M341.9 32.3L346.8 32.6M342.1 79.6L338.7 81.4M342.1 79.6L340.6 77.4M342.1 79.6L347.0 79.9M342.3 26.2L337.4 25.8M342.3 26.2L343.8 28.3M342.3 26.2L345.7 24.3M342.5 73.4L337.6 73.1M342.5 73.4L344.0 75.6M342.5 73.4L345.9 71.6M342.6 46.7L339.2 48.6M342.6 46.7L341.1 44.6M342.6 46.7L347.5 47.0M343.0 40.6L338.1 40.3M343.0 40.6L344.5 42.7M343.0 40.6L346.4 38.8M343.3 61.2L339.9 63.0M343.3 61.2L341.8 59.0M343.3 61.2L348.2 61.5M343.7 55.0L338.8 54.7M343.7 55.0L345.2 57.2M343.7 55.0L347.1 53.2M343.8 28.3L340.4 30.2M343.8 28.3L342.3 26.2M343.8 28.3L348.7 28.6M344.0 75.6L340.6 77.4M344.0 75.6L342.5 73.4M344.0 75.6L348.9 75.9M344.2 22.2L339.3 21.9M344.2 22.2L345.7 24.3M344.2 22.2L347.6 20.4M344.4 69.4L339.5 69.1M344.4 69.4L345.9 71.6M344.4 69.4L347.8 67.6M344.5 42.7L341.1 44.6M344.5 42.7L343.0 40.6M344.5 42.7L349.4 43.1M344.9 36.6L340.0 36.3M344.9 36.6L346.4 38.8M344.9 36.6L348.3 34.8M345.2 57.2L341.8 59.0M345.2 57.2L343.7 55.0M345.2 57.2L350.1 57.5M345.6 51.0L340.7 50.7M345.6 51.0L347.1 53.2M345.6 51.0L349.0 49.2M345.7 24.3L342.3 26.2M345.7 24.3L344.2 22.2M345.7 24.3L350.6 24.7M345.9 71.6L342.5 73.4M345.9 71.6L344.4 69.4M345.9 71.6L350.8 71.9M346.1 18.2L341.2 17.9M346.1 18.2L347.6 20.4M346.1 18.2L349.5 16.4M346.3 65.5L341.4 65.1M346.3 65.5L347.8 67.6M346.3 65.5L349.7 63.6M346.4 38.8L343.0 40.6M346.4 38.8L344.9 36.6M346.4 38.8L351.3 39.1M346.8 32.6L341.9 32.3M346.8 32.6L348.3 34.8M346.8 32.6L350.2 30.8M347.0 79.9L342.1 79.6M347.0 79.9L348.5 82.0M347.0 79.9L350.4 78.0M347.1 53.2L343.7 55.0M347.1 53.2L345.6 51.0M347.1 53.2L352.0 53.5M347.5 47.0L342.6 46.7M347.5 47.0L349.0 49.2M347.5 47.0L350.9 45.2M347.6 20.4L344.2 22.2M347.6 20.4L346.1 18.2M347.6 20.4L352.5 20.7M347.8 67.6L344.4 69.4M347.8 67.6L346.3 65.5M347.8 67.6L352.7 67.9M348.0 14.2L349.5 16.4M348.2 61.5L343.3 61.2M348.2 61.5L349.7 63.6M348.2 61.5L351.6 59.6M348.3 34.8L344.9 36.6M348.3 34.8L346.8 32.6M348.3 34.8L353.2 35.1M348.5 82.0L347.0 79.9M348.5 82.0L353.4 82.3M348.7 28.6L343.8 28.3M348.7 28.6L350.2 30.8M348.7 28.6L352.1 26.8M348.9 75.9L344.0 75.6M348.9 75.9L350.4 78.0M348.9 75.9L352.3 74.1M349.0 49.2L345.6 51.0M349.0 49.2L347.5 47.0M349.0 49.2L353.9 49.5M349.4 43.1L344.5 42.7M349.4 43.1L350.9 45.2M349.4 43.1L352.8 41.2M349.5 16.4L346.1 18.2M349.5 16.4L348.0 14.2M349.5 16.4L354.4 16.7M349.7 63.6L346.3 65.5M349.7 63.6L348.2 61.5M349.7 63.6L354.6 63.9M350.1 57.5L345.2 57.2M350.1 57.5L351.6 59.6M350.1 57.5L353.5 55.7M350.2 30.8L346.8 32.6M350.2 30.8L348.7 28.6M350.2 30.8L355.1 31.1M350.4 78.0L347.0 79.9M350.4 78.0L348.9 75.9M350.4 78.0L355.3 78.4M350.6 24.7L345.7 24.3M350.6 24.7L352.1 26.8M350.6 24.7L354.0 22.8M350.8 71.9L345.9 71.6M350.8 71.9L352.3 74.1M350.8 71.9L354.2 70.1M350.9 45.2L347.5 47.0M350.9 45.2L349.4 43.1M350.9 45.2L355.8 45.5M351.3 39.1L346.4 38.8M351.3 39.1L352.8 41.2M351.3 39.1L354.7 37.2M351.6 59.6L348.2 61.5M351.6 59.6L350.1 57.5M351.6 59.6L356.5 60.0M352.0 53.5L347.1 53.2M352.0 53.5L353.5 55.7M352.0 53.5L355.4 51.7M352.1 26.8L348.7 28.6M352.1 26.8L350.6 24.7M352.1 26.8L357.0 27.1M352.3 74.1L348.9 75.9M352.3 74.1L350.8 71.9M352.3 74.1L357.2 74.4M352.5 20.7L347.6 20.4M352.5 20.7L354.0 22.8M352.5 20.7L355.9 18.8M352.7 67.9L347.8 67.6M352.7 67.9L354.2 70.1M352.7 67.9L356.1 66.1M352.8 41.2L349.4 43.1M352.8 41.2L351.3 39.1M352.8 41.2L357.7 41.6M353.2 35.1L348.3 34.8M353.2 35.1L354.7 37.2M353.2 35.1L356.6 33.3M353.4 82.3L348.5 82.0M353.4 82.3L356.8 80.5M353.5 55.7L350.1 57.5M353.5 55.7L352.0 53.5M353.5 55.7L358.4 56.0M353.9 49.5L349.0 49.2M353.9 49.5L355.4 51.7M353.9 49.5L357.3 47.7M354.0 22.8L350.6 24.7M354.0 22.8L352.5 20.7M354.0 22.8L358.9 23.1M354.2 70.1L350.8 71.9M354.2 70.1L352.7 67.9M354.2 70.1L359.1 70.4M354.4 16.7L349.5 16.4M354.4 16.7L355.9 18.8M354.4 16.7L357.8 14.9M354.6 63.9L349.7 63.6M354.6 63.9L356.1 66.1M354.6 63.9L358.0 62.1M354.7 37.2L351.3 39.1M354.7 37.2L353.2 35.1M354.7 37.2L359.6 37.6M355.1 31.1L350.2 30.8M355.1 31.1L356.6 33.3M355.1 31.1L358.5 29.3M355.3 78.4L350.4 78.0M355.3 78.4L356.8 80.5M355.3 78.4L358.7 76.5M355.4 51.7L352.0 53.5M355.4 51.7L353.9 49.5M355.4 51.7L360.3 52.0M355.8 45.5L350.9 45.2M355.8 45.5L357.3 47.7M355.8 45.5L359.2 43.7M355.9 18.8L352.5 20.7M355.9 18.8L354.4 16.7M355.9 18.8L360.8 19.2M356.1 66.1L352.7 67.9M356.1 66.1L354.6 63.9M356.1 66.1L361.0 66.4M356.5 60.0L351.6 59.6M356.5 60.0L358.0 62.1M356.5 60.0L359.9 58.1M356.6 33.3L353.2 35.1M356.6 33.3L355.1 31.1M356.6 33.3L361.5 33.6M356.8 80.5L353.4 82.3M356.8 80.5L355.3 78.4M356.8 80.5L361.7 80.8M357.0 27.1L352.1 26.8M357.0 27.1L358.5 29.3M357.0 27.1L360.4 25.3M357.2 74.4L352.3 74.1M357.2 74.4L358.7 76.5M357.2 74.4L360.6 72.6M357.3 47.7L353.9 49.5M357.3 47.7L355.8 45.5M357.3 47.7L362.2 48.0M357.7 41.6L352.8 41.2M357.7 41.6L359.2 43.7M357.7 41.6L361.1 39.7M357.8 14.9L354.4 16.7M357.8 14.9L362.7 15.2M358.0 62.1L354.6 63.9M358.0 62.1L356.5 60.0M358.0 62.1L362.9 62.4M358.4 56.0L353.5 55.7M358.4 56.0L359.9 58.1M358.4 56.0L361.8 54.1M358.5 29.3L355.1 31.1M358.5 29.3L357.0 27.1M358.5 29.3L363.4 29.6M358.7 76.5L355.3 78.4M358.7 76.5L357.2 74.4M358.7 76.5L363.6 76.9M358.9 23.1L354.0 22.8M358.9 23.1L360.4 25.3M358.9 23.1L362.3 21.3M359.1 70.4L354.2 70.1M359.1 70.4L360.6 72.6M359.1 70.4L362.5 68.6M359.2 43.7L355.8 45.5M359.2 43.7L357.7 41.6M359.2 43.7L364.1 44.0M359.6 37.6L354.7 37.2M359.6 37.6L361.1 39.7M359.6 37.6L363.0 35.7M359.9 58.1L356.5 60.0M359.9 58.1L358.4 56.0M359.9 58.1L364.8 58.4M360.3 52.0L355.4 51.7M360.3 52.0L361.8 54.1M360.3 52.0L363.7 50.2M360.4 25.3L357.0 27.1M360.4 25.3L358.9 23.1M360.4 25.3L365.3 25.6M360.6 72.6L357.2 74.4M360.6 72.6L359.1 70.4M360.6 72.6L365.5 72.9M360.8 19.2L355.9 18.8M360.8 19.2L362.3 21.3M360.8 19.2L364.2 17.3M361.0 66.4L356.1 66.1M361.0 66.4L362.5 68.6M361.0 66.4L364.4 64.6M361.1 39.7L357.7 41.6M361.1 39.7L359.6 37.6M361.1 39.7L366.0 40.0M361.5 33.6L356.6 33.3M361.5 33.6L363.0 35.7M361.5 33.6L364.9 31.8M361.7 80.8L356.8 80.5M361.7 80.8L363.2 83.0M361.7 80.8L365.1 79.0M361.8 54.1L358.4 56.0M361.8 54.1L360.3 52.0M361.8 54.1L366.7 54.5M362.2 48.0L357.3 47.7M362.2 48.0L363.7 50.2M362.2 48.0L365.6 46.2M362.3 21.3L358.9 23.1M362.3 21.3L360.8 19.2M362.3 21.3L367.2 21.6M362.5 68.6L359.1 70.4M362.5 68.6L361.0 66.4M362.5 68.6L367.4 68.9M362.7 15.2L357.8 14.9M362.7 15.2L364.2 17.3M362.9 62.4L358.0 62.1M362.9 62.4L364.4 64.6M362.9 62.4L366.3 60.6M363.0 35.7L359.6 37.6M363.0 35.7L361.5 33.6M363.0 35.7L367.9 36.1M363.2 83.0L361.7 80.8M363.2 83.0L368.1 83.3M363.4 29.6L358.5 29.3M363.4 29.6L364.9 31.8M363.4 29.6L366.8 27.8M363.6 76.9L358.7 76.5M363.6 76.9L365.1 79.0M363.6 76.9L367.0 75.0M363.7 50.2L360.3 52.0M363.7 50.2L362.2 48.0M363.7 50.2L368.6 50.5M364.1 44.0L359.2 43.7M364.1 44.0L365.6 46.2M364.1 44.0L367.5 42.2M364.2 17.3L360.8 19.2M364.2 17.3L362.7 15.2M364.2 17.3L369.1 17.7M364.4 64.6L361.0 66.4M364.4 64.6L362.9 62.4M364.4 64.6L369.3 64.9M364.8 58.4L359.9 58.1M364.8 58.4L366.3 60.6M364.8 58.4L368.2 56.6M364.9 31.8L361.5 33.6M364.9 31.8L363.4 29.6M364.9 31.8L369.8 32.1M365.1 79.0L361.7 80.8M365.1 79.0L363.6 76.9M365.1 79.0L370.0 79.3M365.3 25.6L360.4 25.3M365.3 25.6L366.8 27.8M365.3 25.6L368.7 23.8M365.5 72.9L360.6 72.6M365.5 72.9L367.0 75.0M365.5 72.9L368.9 71.0M365.6 46.2L362.2 48.0M365.6 46.2L364.1 44.0M365.6 46.2L370.5 46.5M366.0 40.0L361.1 39.7M366.0 40.0L367.5 42.2M366.0 40.0L369.4 38.2M366.3 60.6L362.9 62.4M366.3 60.6L364.8 58.4M366.3 60.6L371.2 60.9M366.7 54.5L361.8 54.1M366.7 54.5L368.2 56.6M366.7 54.5L370.1 52.6M366.8 27.8L363.4 29.6M366.8 27.8L365.3 25.6M366.8 27.8L371.7 28.1M367.0 75.0L363.6 76.9M367.0 75.0L365.5 72.9M367.0 75.0L371.9 75.3M367.2 21.6L362.3 21.3M367.2 21.6L368.7 23.8M367.2 21.6L370.6 19.8M367.4 68.9L362.5 68.6M367.4 68.9L368.9 71.0M367.4 68.9L370.8 67.1M367.5 42.2L364.1 44.0M367.5 42.2L366.0 40.0M367.5 42.2L372.4 42.5M367.9 36.1L363.0 35.7M367.9 36.1L369.4 38.2M367.9 36.1L371.3 34.2M368.1 83.3L363.2 83.0M368.1 83.3L371.5 81.5M368.2 56.6L364.8 58.4M368.2 56.6L366.7 54.5M368.2 56.6L373.1 56.9M368.6 50.5L363.7 50.2M368.6 50.5L370.1 52.6M368.6 50.5L372.0 48.6M368.7 23.8L365.3 25.6M368.7 23.8L367.2 21.6M368.7 23.8L373.6 24.1M368.9 71.0L365.5 72.9M368.9 71.0L367.4 68.9M368.9 71.0L373.8 71.4M369.1 17.7L364.2 17.3M369.1 17.7L370.6 19.8M369.1 17.7L372.5 15.8M369.3 64.9L364.4 64.6M369.3 64.9L370.8 67.1M369.3 64.9L372.7 63.1M369.4 38.2L366.0 40.0M369.4 38.2L367.9 36.1M369.4 38.2L374.3 38.5M369.8 32.1L364.9 31.8M369.8 32.1L371.3 34.2M369.8 32.1L373.2 30.2M370.0 79.3L365.1 79.0M370.0 79.3L371.5 81.5M370.0 79.3L373.4 77.5M370.1 52.6L366.7 54.5M370.1 52.6L368.6 50.5M370.1 52.6L375.0 53.0M370.5 46.5L365.6 46.2M370.5 46.5L372.0 48.6M370.5 46.5L373.9 44.7M370.6 19.8L367.2 21.6M370.6 19.8L369.1 17.7M370.6 19.8L375.5 20.1M370.8 67.1L367.4 68.9M370.8 67.1L369.3 64.9M370.8 67.1L375.7 67.4M371.2 60.9L366.3 60.6M371.2 60.9L372.7 63.1M371.2 60.9L374.6 59.1M371.3 34.2L367.9 36.1M371.3 34.2L369.8 32.1M371.3 34.2L376.2 34.5M371.5 81.5L368.1 83.3M371.5 81.5L370.0 79.3M371.5 81.5L376.4 81.8M371.7 28.1L366.8 27.8M371.7 28.1L373.2 30.2M371.7 28.1L375.1 26.3M371.9 75.3L367.0 75.0M371.9 75.3L373.4 77.5M371.9 75.3L375.3 73.5M372.0 48.6L368.6 50.5M372.0 48.6L370.5 46.5M372.0 48.6L376.9 49.0M372.4 42.5L367.5 42.2M372.4 42.5L373.9 44.7M372.4 42.5L375.8 40.7M372.5 15.8L369.1 17.7M372.5 15.8L377.4 16.1M372.7 63.1L369.3 64.9M372.7 63.1L371.2 60.9M372.7 63.1L377.6 63.4M373.1 56.9L368.2 56.6M373.1 56.9L374.6 59.1M373.1 56.9L376.5 55.1M373.2 30.2L369.8 32.1M373.2 30.2L371.7 28.1M373.2 30.2L378.1 30.6M373.4 77.5L370.0 79.3M373.4 77.5L371.9 75.3M373.4 77.5L378.3 77.8M373.6 24.1L368.7 23.8M373.6 24.1L375.1 26.3M373.6 24.1L377.0 22.3M373.8 71.4L368.9 71.0M373.8 71.4L375.3 73.5M373.8 71.4L377.2 69.5M373.9 44.7L370.5 46.5M373.9 44.7L372.4 42.5M373.9 44.7L378.8 45.0M374.3 38.5L369.4 38.2M374.3 38.5L375.8 40.7M374.3 38.5L377.7 36.7M374.6 59.1L371.2 60.9M374.6 59.1L373.1 56.9M374.6 59.1L379.5 59.4M375.0 53.0L370.1 52.6M375.0 53.0L376.5 55.1M375.0 53.0L378.4 51.1M375.1 26.3L371.7 28.1M375.1 26.3L373.6 24.1M375.1 26.3L380.0 26.6M375.3 73.5L371.9 75.3M375.3 73.5L373.8 71.4M375.3 73.5L380.2 73.8M375.5 20.1L370.6 19.8M375.5 20.1L377.0 22.3M375.5 20.1L378.9 18.3M375.7 67.4L370.8 67.1M375.7 67.4L377.2 69.5M375.7 67.4L379.1 65.5M375.8 40.7L372.4 42.5M375.8 40.7L374.3 38.5M375.8 40.7L380.7 41.0M376.2 34.5L371.3 34.2M376.2 34.5L377.7 36.7M376.2 34.5L379.6 32.7M376.4 81.8L371.5 81.5M376.4 81.8L379.8 80.0M376.5 55.1L373.1 56.9M376.5 55.1L375.0 53.0M376.5 55.1L381.4 55.4M376.9 49.0L372.0 48.6M376.9 49.0L378.4 51.1M376.9 49.0L380.3 47.1M377.0 22.3L373.6 24.1M377.0 22.3L375.5 20.1M377.0 22.3L381.9 22.6M377.2 69.5L373.8 71.4M377.2 69.5L375.7 67.4M377.2 69.5L382.1 69.8M377.4 16.1L372.5 15.8M377.4 16.1L378.9 18.3M377.6 63.4L372.7 63.1M377.6 63.4L379.1 65.5M377.6 63.4L381.0 61.6M377.7 36.7L374.3 38.5M377.7 36.7L376.2 34.5M377.7 36.7L382.6 37.0M378.1 30.6L373.2 30.2M378.1 30.6L379.6 32.7M378.1 30.6L381.5 28.7M378.3 77.8L373.4 77.5M378.3 77.8L379.8 80.0M378.3 77.8L381.7 76.0M378.4 51.1L375.0 53.0M378.4 51.1L376.9 49.0M378.4 51.1L383.3 51.4M378.8 45.0L373.9 44.7M378.8 45.0L380.3 47.1M378.8 45.0L382.2 43.2M378.9 18.3L375.5 20.1M378.9 18.3L377.4 16.1M378.9 18.3L383.8 18.6M379.1 65.5L375.7 67.4M379.1 65.5L377.6 63.4M379.1 65.5L384.0 65.9M379.5 59.4L374.6 59.1M379.5 59.4L381.0 61.6M379.5 59.4L382.9 57.6M379.6 32.7L376.2 34.5M379.6 32.7L378.1 30.6M379.6 32.7L384.5 33.0M379.8 80.0L376.4 81.8M379.8 80.0L378.3 77.8M379.8 80.0L384.7 80.3M380.0 26.6L375.1 26.3M380.0 26.6L381.5 28.7M380.0 26.6L383.4 24.7M380.2 73.8L375.3 73.5M380.2 73.8L381.7 76.0M380.2 73.8L383.6 72.0M380.3 47.1L376.9 49.0M380.3 47.1L378.8 45.0M380.3 47.1L385.2 47.5M380.7 41.0L375.8 40.7M380.7 41.0L382.2 43.2M380.7 41.0L384.1 39.2M381.0 61.6L377.6 63.4M381.0 61.6L379.5 59.4M381.0 61.6L385.9 61.9M381.4 55.4L376.5 55.1M381.4 55.4L382.9 57.6M381.4 55.4L384.8 53.6M381.5 28.7L378.1 30.6M381.5 28.7L380.0 26.6M381.5 28.7L386.4 29.0M381.7 76.0L378.3 77.8M381.7 76.0L380.2 73.8M381.7 76.0L386.6 76.3M381.9 22.6L377.0 22.3M381.9 22.6L383.4 24.7M381.9 22.6L385.3 20.8M382.1 69.8L377.2 69.5M382.1 69.8L383.6 72.0M382.1 69.8L385.5 68.0M382.2 43.2L378.8 45.0M382.2 43.2L380.7 41.0M382.2 43.2L387.1 43.5M382.6 37.0L377.7 36.7M382.6 37.0L384.1 39.2M382.6 37.0L386.0 35.2M382.9 57.6L379.5 59.4M382.9 57.6L381.4 55.4M382.9 57.6L387.8 57.9M383.3 51.4L378.4 51.1M383.3 51.4L384.8 53.6M383.3 51.4L386.7 49.6M383.4 24.7L380.0 26.6M383.4 24.7L381.9 22.6M383.4 24.7L388.3 25.1M383.6 72.0L380.2 73.8M383.6 72.0L382.1 69.8M383.6 72.0L388.5 72.3M383.8 18.6L378.9 18.3M383.8 18.6L385.3 20.8M383.8 18.6L387.2 16.8M384.0 65.9L379.1 65.5M384.0 65.9L385.5 68.0M384.0 65.9L387.4 64.0M384.1 39.2L380.7 41.0M384.1 39.2L382.6 37.0M384.1 39.2L389.0 39.5M384.5 33.0L379.6 32.7M384.5 33.0L386.0 35.2M384.5 33.0L387.9 31.2M384.7 80.3L379.8 80.0M384.7 80.3L386.2 82.4M384.7 80.3L388.1 78.5M384.8 53.6L381.4 55.4M384.8 53.6L383.3 51.4M384.8 53.6L389.7 53.9M385.2 47.5L380.3 47.1M385.2 47.5L386.7 49.6M385.2 47.5L388.6 45.6M385.3 20.8L381.9 22.6M385.3 20.8L383.8 18.6M385.3 20.8L390.2 21.1M385.5 68.0L382.1 69.8M385.5 68.0L384.0 65.9M385.5 68.0L390.4 68.3M385.9 61.9L381.0 61.6M385.9 61.9L387.4 64.0M385.9 61.9L389.3 60.0M386.0 35.2L382.6 37.0M386.0 35.2L384.5 33.0M386.0 35.2L390.9 35.5M386.2 82.4L384.7 80.3M386.2 82.4L391.1 82.8M386.4 29.0L381.5 28.7M386.4 29.0L387.9 31.2M386.4 29.0L389.8 27.2M386.6 76.3L381.7 76.0M386.6 76.3L388.1 78.5M386.6 76.3L390.0 74.5M386.7 49.6L383.3 51.4M386.7 49.6L385.2 47.5M386.7 49.6L391.6 49.9M387.1 43.5L382.2 43.2M387.1 43.5L388.6 45.6M387.1 43.5L390.5 41.6M387.2 16.8L383.8 18.6M387.2 16.8L392.1 17.1M387.4 64.0L384.0 65.9M387.4 64.0L385.9 61.9M387.4 64.0L392.3 64.4M387.8 57.9L382.9 57.6M387.8 57.9L389.3 60.0M387.8 57.9L391.2 56.1M387.9 31.2L384.5 33.0M387.9 31.2L386.4 29.0M387.9 31.2L392.8 31.5M388.1 78.5L384.7 80.3M388.1 78.5L386.6 76.3M388.1 78.5L393.0 78.8M388.3 25.1L383.4 24.7M388.3 25.1L389.8 27.2M388.3 25.1L391.7 23.2M388.5 72.3L383.6 72.0M388.5 72.3L390.0 74.5M388.5 72.3L391.9 70.5M388.6 45.6L385.2 47.5M388.6 45.6L387.1 43.5M388.6 45.6L393.5 45.9M389.0 39.5L384.1 39.2M389.0 39.5L390.5 41.6M389.0 39.5L392.4 37.7M389.3 60.0L385.9 61.9M389.3 60.0L387.8 57.9M389.3 60.0L394.2 60.4M389.7 53.9L384.8 53.6M389.7 53.9L391.2 56.1M389.7 53.9L393.1 52.1M389.8 27.2L386.4 29.0M389.8 27.2L388.3 25.1M389.8 27.2L394.7 27.5M390.0 74.5L386.6 76.3M390.0 74.5L388.5 72.3M390.0 74.5L394.9 74.8M390.2 21.1L385.3 20.8M390.2 21.1L391.7 23.2M390.2 21.1L393.6 19.3M390.4 68.3L385.5 68.0M390.4 68.3L391.9 70.5M390.4 68.3L393.8 66.5M390.5 41.6L387.1 43.5M390.5 41.6L389.0 39.5M390.5 41.6L395.4 42.0M390.9 35.5L386.0 35.2M390.9 35.5L392.4 37.7M390.9 35.5L394.3 33.7M391.1 82.8L386.2 82.4M391.1 82.8L394.5 80.9M391.2 56.1L387.8 57.9M391.2 56.1L389.7 53.9M391.2 56.1L396.1 56.4M391.6 49.9L386.7 49.6M391.6 49.9L393.1 52.1M391.6 49.9L395.0 48.1M391.7 23.2L388.3 25.1M391.7 23.2L390.2 21.1M391.7 23.2L396.6 23.6M391.9 70.5L388.5 72.3M391.9 70.5L390.4 68.3M391.9 70.5L396.8 70.8M392.1 17.1L387.2 16.8M392.1 17.1L393.6 19.3M392.3 64.4L387.4 64.0M392.3 64.4L393.8 66.5M392.3 64.4L395.7 62.5M392.4 37.7L389.0 39.5M392.4 37.7L390.9 35.5M392.4 37.7L397.3 38.0M392.8 31.5L387.9 31.2M392.8 31.5L394.3 33.7M392.8 31.5L396.2 29.7M393.0 78.8L388.1 78.5M393.0 78.8L394.5 80.9M393.0 78.8L396.4 76.9M393.1 52.1L389.7 53.9M393.1 52.1L391.6 49.9M393.1 52.1L398.0 52.4M393.5 45.9L388.6 45.6M393.5 45.9L395.0 48.1M393.5 45.9L396.9 44.1M393.6 19.3L390.2 21.1M393.6 19.3L392.1 17.1M393.6 19.3L398.5 19.6M393.8 66.5L390.4 68.3M393.8 66.5L392.3 64.4M393.8 66.5L398.7 66.8M394.2 60.4L389.3 60.0M394.2 60.4L395.7 62.5M394.2 60.4L397.6 58.5M394.3 33.7L390.9 35.5M394.3 33.7L392.8 31.5M394.3 33.7L399.2 34.0M394.5 80.9L391.1 82.8M394.5 80.9L393.0 78.8M394.5 80.9L399.4 81.2M394.7 27.5L389.8 27.2M394.7 27.5L396.2 29.7M394.7 27.5L398.1 25.7M394.9 74.8L390.0 74.5M394.9 74.8L396.4 76.9M394.9 74.8L398.3 73.0M395.0 48.1L391.6 49.9M395.0 48.1L393.5 45.9M395.0 48.1L399.9 48.4M395.4 42.0L390.5 41.6M395.4 42.0L396.9 44.1M395.4 42.0L398.8 40.1M395.7 62.5L392.3 64.4M395.7 62.5L394.2 60.4M395.7 62.5L400.6 62.8M396.1 56.4L391.2 56.1M396.1 56.4L397.6 58.5M396.1 56.4L399.5 54.6M396.2 29.7L392.8 31.5M396.2 29.7L394.7 27.5M396.2 29.7L401.1 30.0M396.4 76.9L393.0 78.8M396.4 76.9L394.9 74.8M396.4 76.9L401.3 77.3M396.6 23.6L391.7 23.2M396.6 23.6L398.1 25.7M396.6 23.6L400.0 21.7M396.8 70.8L391.9 70.5M396.8 70.8L398.3 73.0M396.8 70.8L400.2 69.0M396.9 44.1L393.5 45.9M396.9 44.1L395.4 42.0M396.9 44.1L401.8 44.4M397.3 38.0L392.4 37.7M397.3 38.0L398.8 40.1M397.3 38.0L400.7 36.1M397.6 58.5L394.2 60.4M397.6 58.5L396.1 56.4M397.6 58.5L402.5 58.9M398.0 52.4L393.1 52.1M398.0 52.4L399.5 54.6M398.0 52.4L401.4 50.6M398.1 25.7L394.7 27.5M398.1 25.7L396.6 23.6M398.1 25.7L403.0 26.0M398.3 73.0L394.9 74.8M398.3 73.0L396.8 70.8M398.3 73.0L403.2 73.3M398.5 19.6L393.6 19.3M398.5 19.6L400.0 21.7M398.5 19.6L401.9 17.7M398.7 66.8L393.8 66.5M398.7 66.8L400.2 69.0M398.7 66.8L402.1 65.0M398.8 40.1L395.4 42.0M398.8 40.1L397.3 38.0M398.8 40.1L403.7 40.4M399.2 34.0L394.3 33.7M399.2 34.0L400.7 36.1M399.2 34.0L402.6 32.2M399.4 81.2L394.5 80.9M399.4 81.2L400.9 83.4M399.4 81.2L402.8 79.4M399.5 54.6L396.1 56.4M399.5 54.6L398.0 52.4M399.5 54.6L404.4 54.9M399.9 48.4L395.0 48.1M399.9 48.4L401.4 50.6M399.9 48.4L403.3 46.6M400.0 21.7L396.6 23.6M400.0 21.7L398.5 19.6M400.0 21.7L404.9 22.0M400.2 69.0L396.8 70.8M400.2 69.0L398.7 66.8M400.2 69.0L405.1 69.3M400.6 62.8L395.7 62.5M400.6 62.8L402.1 65.0M400.6 62.8L404.0 61.0M400.7 36.1L397.3 38.0M400.7 36.1L399.2 34.0M400.7 36.1L405.6 36.5M400.9 83.4L399.4 81.2M400.9 83.4L405.8 83.7M401.1 30.0L396.2 29.7M401.1 30.0L402.6 32.2M401.1 30.0L404.5 28.2M401.3 77.3L396.4 76.9M401.3 77.3L402.8 79.4M401.3 77.3L404.7 75.4M401.4 50.6L398.0 52.4M401.4 50.6L399.9 48.4M401.4 50.6L406.3 50.9M401.8 44.4L396.9 44.1M401.8 44.4L403.3 46.6M401.8 44.4L405.2 42.6M401.9 17.7L398.5 19.6M401.9 17.7L406.8 18.1M402.1 65.0L398.7 66.8M402.1 65.0L400.6 62.8M402.1 65.0L407.0 65.3M402.5 58.9L397.6 58.5M402.5 58.9L404.0 61.0M402.5 58.9L405.9 57.0M402.6 32.2L399.2 34.0M402.6 32.2L401.1 30.0M402.6 32.2L407.5 32.5M402.8 79.4L399.4 81.2M402.8 79.4L401.3 77.3M402.8 79.4L407.7 79.7M403.0 26.0L398.1 25.7M403.0 26.0L404.5 28.2M403.0 26.0L406.4 24.2M403.2 73.3L398.3 73.0M403.2 73.3L404.7 75.4M403.2 73.3L406.6 71.4M403.3 46.6L399.9 48.4M403.3 46.6L401.8 44.4M403.3 46.6L408.2 46.9M403.7 40.4L398.8 40.1M403.7 40.4L405.2 42.6M403.7 40.4L407.1 38.6M404.0 61.0L400.6 62.8M404.0 61.0L402.5 58.9M404.0 61.0L408.9 61.3M404.4 54.9L399.5 54.6M404.4 54.9L405.9 57.0M404.4 54.9L407.8 53.0M404.5 28.2L401.1 30.0M404.5 28.2L403.0 26.0M404.5 28.2L409.4 28.5M404.7 75.4L401.3 77.3M404.7 75.4L403.2 73.3M404.7 75.4L409.6 75.8M404.9 22.0L400.0 21.7M404.9 22.0L406.4 24.2M404.9 22.0L408.3 20.2M405.1 69.3L400.2 69.0M405.1 69.3L406.6 71.4M405.1 69.3L408.5 67.5M405.2 42.6L401.8 44.4M405.2 42.6L403.7 40.4M405.2 42.6L410.1 42.9M405.6 36.5L400.7 36.1M405.6 36.5L407.1 38.6M405.6 36.5L409.0 34.6M405.8 83.7L400.9 83.4M405.8 83.7L409.2 81.9M405.9 57.0L402.5 58.9M405.9 57.0L404.4 54.9M405.9 57.0L410.8 57.3M406.3 50.9L401.4 50.6M406.3 50.9L407.8 53.0M406.3 50.9L409.7 49.1M406.4 24.2L403.0 26.0M406.4 24.2L404.9 22.0M406.4 24.2L411.3 24.5M406.6 71.4L403.2 73.3M406.6 71.4L405.1 69.3M406.6 71.4L411.5 71.8M406.8 18.1L401.9 17.7M406.8 18.1L408.3 20.2M407.0 65.3L402.1 65.0M407.0 65.3L408.5 67.5M407.0 65.3L410.4 63.5M407.1 38.6L403.7 40.4M407.1 38.6L405.6 36.5M407.1 38.6L412.0 38.9M407.5 32.5L402.6 32.2M407.5 32.5L409.0 34.6M407.5 32.5L410.9 30.6M407.7 79.7L402.8 79.4M407.7 79.7L409.2 81.9M407.7 79.7L411.1 77.9M407.8 53.0L404.4 54.9M407.8 53.0L406.3 50.9M407.8 53.0L412.7 53.4M408.2 46.9L403.3 46.6M408.2 46.9L409.7 49.1M408.2 46.9L411.6 45.1M408.3 20.2L404.9 22.0M408.3 20.2L406.8 18.1M408.3 20.2L413.2 20.5M408.5 67.5L405.1 69.3M408.5 67.5L407.0 65.3M408.5 67.5L413.4 67.8M408.9 61.3L404.0 61.0M408.9 61.3L410.4 63.5M408.9 61.3L412.3 59.5M409.0 34.6L405.6 36.5M409.0 34.6L407.5 32.5M409.0 34.6L413.9 35.0M409.2 81.9L405.8 83.7M409.2 81.9L407.7 79.7M409.2 81.9L414.1 82.2M409.4 28.5L404.5 28.2M409.4 28.5L410.9 30.6M409.4 28.5L412.8 26.7M409.6 75.8L404.7 75.4M409.6 75.8L411.1 77.9M409.6 75.8L413.0 73.9M409.7 49.1L406.3 50.9M409.7 49.1L408.2 46.9M409.7 49.1L414.6 49.4M410.1 42.9L405.2 42.6M410.1 42.9L411.6 45.1M410.1 42.9L413.5 41.1M410.4 63.5L407.0 65.3M410.4 63.5L408.9 61.3M410.4 63.5L415.3 63.8M410.8 57.3L405.9 57.0M410.8 57.3L412.3 59.5M410.8 57.3L414.2 55.5M410.9 30.6L407.5 32.5M410.9 30.6L409.4 28.5M410.9 30.6L415.8 31.0M411.1 77.9L407.7 79.7M411.1 77.9L409.6 75.8M411.1 77.9L416.0 78.2M411.3 24.5L406.4 24.2M411.3 24.5L412.8 26.7M411.3 24.5L414.7 22.7M411.5 71.8L406.6 71.4M411.5 71.8L413.0 73.9M411.5 71.8L414.9 69.9M411.6 45.1L408.2 46.9M411.6 45.1L410.1 42.9M411.6 45.1L416.5 45.4M412.0 38.9L407.1 38.6M412.0 38.9L413.5 41.1M412.0 38.9L415.4 37.1M412.3 59.5L408.9 61.3M412.3 59.5L410.8 57.3M412.3 59.5L417.2 59.8M412.7 53.4L407.8 53.0M412.7 53.4L414.2 55.5M412.7 53.4L416.1 51.5M412.8 26.7L409.4 28.5M412.8 26.7L411.3 24.5M412.8 26.7L417.7 27.0M413.0 73.9L409.6 75.8M413.0 73.9L411.5 71.8M413.0 73.9L417.9 74.2M413.2 20.5L408.3 20.2M413.2 20.5L414.7 22.7M413.2 20.5L416.6 18.7M413.4 67.8L408.5 67.5M413.4 67.8L414.9 69.9M413.4 67.8L416.8 66.0M413.5 41.1L410.1 42.9M413.5 41.1L412.0 38.9M413.5 41.1L418.4 41.4M413.9 35.0L409.0 34.6M413.9 35.0L415.4 37.1M413.9 35.0L417.3 33.1M414.1 82.2L409.2 81.9M414.1 82.2L415.6 84.4M414.1 82.2L417.5 80.4M414.2 55.5L410.8 57.3M414.2 55.5L412.7 53.4M414.2 55.5L419.1 55.8M414.6 49.4L409.7 49.1M414.6 49.4L416.1 51.5M414.6 49.4L418.0 47.5M414.7 22.7L411.3 24.5M414.7 22.7L413.2 20.5M414.7 22.7L419.6 23.0M414.9 69.9L411.5 71.8M414.9 69.9L413.4 67.8M414.9 69.9L419.8 70.3M415.3 63.8L410.4 63.5M415.3 63.8L416.8 66.0M415.3 63.8L418.7 62.0M415.4 37.1L412.0 38.9M415.4 37.1L413.9 35.0M415.4 37.1L420.3 37.4M415.6 84.4L414.1 82.2M415.6 84.4L420.5 84.7M415.8 31.0L410.9 30.6M415.8 31.0L417.3 33.1M415.8 31.0L419.2 29.1M416.0 78.2L411.1 77.9M416.0 78.2L417.5 80.4M416.0 78.2L419.4 76.4M416.1 51.5L412.7 53.4M416.1 51.5L414.6 49.4M416.1 51.5L421.0 51.8M416.5 45.4L411.6 45.1M416.5 45.4L418.0 47.5M416.5 45.4L419.9 43.6M416.6 18.7L413.2 20.5M416.6 18.7L421.5 19.0M416.8 66.0L413.4 67.8M416.8 66.0L415.3 63.8M416.8 66.0L421.7 66.3M417.2 59.8L412.3 59.5M417.2 59.8L418.7 62.0M417.2 59.8L420.6 58.0M417.3 33.1L413.9 35.0M417.3 33.1L415.8 31.0M417.3 33.1L422.2 33.4M417.5 80.4L414.1 82.2M417.5 80.4L416.0 78.2M417.5 80.4L422.4 80.7M417.7 27.0L412.8 26.7M417.7 27.0L419.2 29.1M417.7 27.0L421.1 25.2M417.9 74.2L413.0 73.9M417.9 74.2L419.4 76.4M417.9 74.2L421.3 72.4M418.0 47.5L414.6 49.4M418.0 47.5L416.5 45.4M418.0 47.5L422.9 47.9M418.4 41.4L413.5 41.1M418.4 41.4L419.9 43.6M418.4 41.4L421.8 39.6M418.7 62.0L415.3 63.8M418.7 62.0L417.2 59.8M418.7 62.0L423.6 62.3M419.1 55.8L414.2 55.5M419.1 55.8L420.6 58.0M419.1 55.8L422.5 54.0M419.2 29.1L415.8 31.0M419.2 29.1L417.7 27.0M419.2 29.1L424.1 29.5M419.4 76.4L416.0 78.2M419.4 76.4L417.9 74.2M419.4 76.4L424.3 76.7M419.6 23.0L414.7 22.7M419.6 23.0L421.1 25.2M419.6 23.0L423.0 21.2M419.8 70.3L414.9 69.9M419.8 70.3L421.3 72.4M419.8 70.3L423.2 68.4M419.9 43.6L416.5 45.4M419.9 43.6L418.4 41.4M419.9 43.6L424.8 43.9M420.3 37.4L415.4 37.1M420.3 37.4L421.8 39.6M420.3 37.4L423.7 35.6M420.5 84.7L415.6 84.4M420.5 84.7L423.9 82.8M420.6 58.0L417.2 59.8M420.6 58.0L419.1 55.8M420.6 58.0L425.5 58.3M421.0 51.8L416.1 51.5M421.0 51.8L422.5 54.0M421.0 51.8L424.4 50.0M421.1 25.2L417.7 27.0M421.1 25.2L419.6 23.0M421.1 25.2L426.0 25.5M421.3 72.4L417.9 74.2M421.3 72.4L419.8 70.3M421.3 72.4L426.2 72.7M421.5 19.0L416.6 18.7M421.5 19.0L423.0 21.2M421.7 66.3L416.8 66.0M421.7 66.3L423.2 68.4M421.7 66.3L425.1 64.4M421.8 39.6L418.4 41.4M421.8 39.6L420.3 37.4M421.8 39.6L426.7 39.9M422.2 33.4L417.3 33.1M422.2 33.4L423.7 35.6M422.2 33.4L425.6 31.6M422.4 80.7L417.5 80.4M422.4 80.7L423.9 82.8M422.4 80.7L425.8 78.9M422.5 54.0L419.1 55.8M422.5 54.0L421.0 51.8M422.5 54.0L427.4 54.3M422.9 47.9L418.0 47.5M422.9 47.9L424.4 50.0M422.9 47.9L426.3 46.0M423.0 21.2L419.6 23.0M423.0 21.2L421.5 19.0M423.0 21.2L427.9 21.5M423.2 68.4L419.8 70.3M423.2 68.4L421.7 66.3M423.2 68.4L428.1 68.7M423.6 62.3L418.7 62.0M423.6 62.3L425.1 64.4M423.6 62.3L427.0 60.5M423.7 35.6L420.3 37.4M423.7 35.6L422.2 33.4M423.7 35.6L428.6 35.9M423.9 82.8L420.5 84.7M423.9 82.8L422.4 80.7M424.1 29.5L419.2 29.1M424.1 29.5L425.6 31.6M424.1 29.5L427.5 27.6M424.3 76.7L419.4 76.4M424.3 76.7L425.8 78.9M424.3 76.7L427.7 74.9M424.4 50.0L421.0 51.8M424.4 50.0L422.9 47.9M424.4 50.0L429.3 50.3M424.8 43.9L419.9 43.6M424.8 43.9L426.3 46.0M424.8 43.9L428.2 42.0M425.1 64.4L421.7 66.3M425.1 64.4L423.6 62.3M425.1 64.4L430.0 64.8M425.5 58.3L420.6 58.0M425.5 58.3L427.0 60.5M425.5 58.3L428.9 56.5M425.6 31.6L422.2 33.4M425.6 31.6L424.1 29.5M425.6 31.6L430.5 31.9M425.8 78.9L422.4 80.7M425.8 78.9L424.3 76.7M425.8 78.9L430.7 79.2M426.0 25.5L421.1 25.2M426.0 25.5L427.5 27.6M426.0 25.5L429.4 23.6M426.2 72.7L421.3 72.4M426.2 72.7L427.7 74.9M426.2 72.7L429.6 70.9M426.3 46.0L422.9 47.9M426.3 46.0L424.8 43.9M426.3 46.0L431.2 46.4M426.7 39.9L421.8 39.6M426.7 39.9L428.2 42.0M426.7 39.9L430.1 38.1M427.0 60.5L423.6 62.3M427.0 60.5L425.5 58.3M427.0 60.5L431.9 60.8M427.4 54.3L422.5 54.0M427.4 54.3L428.9 56.5M427.4 54.3L430.8 52.5M427.5 27.6L424.1 29.5M427.5 27.6L426.0 25.5M427.5 27.6L432.4 27.9M427.7 74.9L424.3 76.7M427.7 74.9L426.2 72.7M427.7 74.9L432.6 75.2M427.9 21.5L423.0 21.2M427.9 21.5L429.4 23.6M427.9 21.5L431.3 19.7M428.1 68.7L423.2 68.4M428.1 68.7L429.6 70.9M428.1 68.7L431.5 66.9M428.2 42.0L424.8 43.9M428.2 42.0L426.7 39.9M428.2 42.0L433.1 42.4M428.6 35.9L423.7 35.6M428.6 35.9L430.1 38.1M428.6 35.9L432.0 34.1M428.9 56.5L425.5 58.3M428.9 56.5L427.4 54.3M428.9 56.5L433.8 56.8M429.3 50.3L424.4 50.0M429.3 50.3L430.8 52.5M429.3 50.3L432.7 48.5M429.4 23.6L426.0 25.5M429.4 23.6L427.9 21.5M429.4 23.6L434.3 24.0M429.6 70.9L426.2 72.7M429.6 70.9L428.1 68.7M429.6 70.9L434.5 71.2M430.0 64.8L425.1 64.4M430.0 64.8L431.5 66.9M430.0 64.8L433.4 62.9M430.1 38.1L426.7 39.9M430.1 38.1L428.6 35.9M430.1 38.1L435.0 38.4M430.5 31.9L425.6 31.6M430.5 31.9L432.0 34.1M430.5 31.9L433.9 30.1M430.7 79.2L425.8 78.9M430.7 79.2L434.1 77.4M430.8 52.5L427.4 54.3M430.8 52.5L429.3 50.3M430.8 52.5L435.7 52.8M431.2 46.4L426.3 46.0M431.2 46.4L432.7 48.5M431.2 46.4L434.6 44.5M431.3 19.7L427.9 21.5M431.3 19.7L436.2 20.0M431.5 66.9L428.1 68.7M431.5 66.9L430.0 64.8M431.5 66.9L436.4 67.2M431.9 60.8L427.0 60.5M431.9 60.8L433.4 62.9M431.9 60.8L435.3 58.9M432.0 34.1L428.6 35.9M432.0 34.1L430.5 31.9M432.0 34.1L436.9 34.4M432.4 27.9L427.5 27.6M432.4 27.9L433.9 30.1M432.4 27.9L435.8 26.1M432.6 75.2L427.7 74.9M432.6 75.2L434.1 77.4M432.6 75.2L436.0 73.4M432.7 48.5L429.3 50.3M432.7 48.5L431.2 46.4M432.7 48.5L437.6 48.8M433.1 42.4L428.2 42.0M433.1 42.4L434.6 44.5M433.1 42.4L436.5 40.5M433.4 62.9L430.0 64.8M433.4 62.9L431.9 60.8M433.4 62.9L438.3 63.2M433.8 56.8L428.9 56.5M433.8 56.8L435.3 58.9M433.8 56.8L437.2 55.0M433.9 30.1L430.5 31.9M433.9 30.1L432.4 27.9M433.9 30.1L438.8 30.4M434.1 77.4L430.7 79.2M434.1 77.4L432.6 75.2M434.3 24.0L429.4 23.6M434.3 24.0L435.8 26.1M434.3 24.0L437.7 22.1M434.5 71.2L429.6 70.9M434.5 71.2L436.0 73.4M434.5 71.2L437.9 69.4M434.6 44.5L431.2 46.4M434.6 44.5L433.1 42.4M434.6 44.5L439.5 44.8M435.0 38.4L430.1 38.1M435.0 38.4L436.5 40.5M435.0 38.4L438.4 36.6M435.3 58.9L431.9 60.8M435.3 58.9L433.8 56.8M435.3 58.9L440.2 59.3M435.7 52.8L430.8 52.5M435.7 52.8L437.2 55.0M435.7 52.8L439.1 51.0M435.8 26.1L432.4 27.9M435.8 26.1L434.3 24.0M435.8 26.1L440.7 26.4M436.0 73.4L432.6 75.2M436.0 73.4L434.5 71.2M436.0 73.4L440.9 73.7M436.2 20.0L431.3 19.7M436.2 20.0L437.7 22.1M436.4 67.2L431.5 66.9M436.4 67.2L437.9 69.4M436.4 67.2L439.8 65.4M436.5 40.5L433.1 42.4M436.5 40.5L435.0 38.4M436.5 40.5L441.4 40.9M436.9 34.4L432.0 34.1M436.9 34.4L438.4 36.6M436.9 34.4L440.3 32.6M437.2 55.0L433.8 56.8M437.2 55.0L435.7 52.8M437.2 55.0L442.1 55.3M437.6 48.8L432.7 48.5M437.6 48.8L439.1 51.0M437.6 48.8L441.0 47.0M437.7 22.1L434.3 24.0M437.7 22.1L436.2 20.0M437.7 22.1L442.6 22.5M437.9 69.4L434.5 71.2M437.9 69.4L436.4 67.2M437.9 69.4L442.8 69.7M438.3 63.2L433.4 62.9M438.3 63.2L439.8 65.4M438.3 63.2L441.7 61.4M438.4 36.6L435.0 38.4M438.4 36.6L436.9 34.4M438.4 36.6L443.3 36.9M438.8 30.4L433.9 30.1M438.8 30.4L440.3 32.6M438.8 30.4L442.2 28.6M439.1 51.0L435.7 52.8M439.1 51.0L437.6 48.8M439.1 51.0L444.0 51.3M439.5 44.8L434.6 44.5M439.5 44.8L441.0 47.0M439.5 44.8L442.9 43.0M439.8 65.4L436.4 67.2M439.8 65.4L438.3 63.2M439.8 65.4L444.7 65.7M440.2 59.3L435.3 58.9M440.2 59.3L441.7 61.4M440.2 59.3L443.6 57.4M440.3 32.6L436.9 34.4M440.3 32.6L438.8 30.4M440.3 32.6L445.2 32.9M440.7 26.4L435.8 26.1M440.7 26.4L442.2 28.6M440.7 26.4L444.1 24.6M440.9 73.7L436.0 73.4M440.9 73.7L444.3 71.9M441.0 47.0L437.6 48.8M441.0 47.0L439.5 44.8M441.0 47.0L445.9 47.3M441.4 40.9L436.5 40.5M441.4 40.9L442.9 43.0M441.4 40.9L444.8 39.0M441.7 61.4L438.3 63.2M441.7 61.4L440.2 59.3M441.7 61.4L446.6 61.7M442.1 55.3L437.2 55.0M442.1 55.3L443.6 57.4M442.1 55.3L445.5 53.4M442.2 28.6L438.8 30.4M442.2 28.6L440.7 26.4M442.2 28.6L447.1 28.9M442.6 22.5L437.7 22.1M442.6 22.5L444.1 24.6M442.6 22.5L446.0 20.6M442.8 69.7L437.9 69.4M442.8 69.7L444.3 71.9M442.8 69.7L446.2 67.9M442.9 43.0L439.5 44.8M442.9 43.0L441.4 40.9M442.9 43.0L447.8 43.3M443.3 36.9L438.4 36.6M443.3 36.9L444.8 39.0M443.3 36.9L446.7 35.0M443.6 57.4L440.2 59.3M443.6 57.4L442.1 55.3M443.6 57.4L448.5 57.8M444.0 51.3L439.1 51.0M444.0 51.3L445.5 53.4M444.0 51.3L447.4 49.5M444.1 24.6L440.7 26.4M444.1 24.6L442.6 22.5M444.1 24.6L449.0 24.9M444.3 71.9L440.9 73.7M444.3 71.9L442.8 69.7M444.7 65.7L439.8 65.4M444.7 65.7L446.2 67.9M444.7 65.7L448.1 63.9M444.8 39.0L441.4 40.9M444.8 39.0L443.3 36.9M444.8 39.0L449.7 39.3M445.2 32.9L440.3 32.6M445.2 32.9L446.7 35.0M445.2 32.9L448.6 31.1M445.5 53.4L442.1 55.3M445.5 53.4L444.0 51.3M445.5 53.4L450.4 53.8M445.9 47.3L441.0 47.0M445.9 47.3L447.4 49.5M445.9 47.3L449.3 45.5M446.0 20.6L442.6 22.5M446.0 20.6L450.9 20.9M446.2 67.9L442.8 69.7M446.2 67.9L444.7 65.7M446.6 61.7L441.7 61.4M446.6 61.7L448.1 63.9M446.6 61.7L450.0 59.9M446.7 35.0L443.3 36.9M446.7 35.0L445.2 32.9M446.7 35.0L451.6 35.4M447.1 28.9L442.2 28.6M447.1 28.9L448.6 31.1M447.1 28.9L450.5 27.1M447.4 49.5L444.0 51.3M447.4 49.5L445.9 47.3M447.4 49.5L452.3 49.8M447.8 43.3L442.9 43.0M447.8 43.3L449.3 45.5M447.8 43.3L451.2 41.5M448.1 63.9L444.7 65.7M448.1 63.9L446.6 61.7M448.1 63.9L453.0 64.2M448.5 57.8L443.6 57.4M448.5 57.8L450.0 59.9M448.5 57.8L451.9 55.9M448.6 31.1L445.2 32.9M448.6 31.1L447.1 28.9M448.6 31.1L453.5 31.4M449.0 24.9L444.1 24.6M449.0 24.9L450.5 27.1M449.0 24.9L452.4 23.1M449.3 45.5L445.9 47.3M449.3 45.5L447.8 43.3M449.3 45.5L454.2 45.8M449.7 39.3L444.8 39.0M449.7 39.3L451.2 41.5M449.7 39.3L453.1 37.5M450.0 59.9L446.6 61.7M450.0 59.9L448.5 57.8M450.0 59.9L454.9 60.2M450.4 53.8L445.5 53.4M450.4 53.8L451.9 55.9M450.4 53.8L453.8 51.9M450.5 27.1L447.1 28.9M450.5 27.1L449.0 24.9M450.5 27.1L455.4 27.4M450.9 20.9L446.0 20.6M450.9 20.9L452.4 23.1M451.2 41.5L447.8 43.3M451.2 41.5L449.7 39.3M451.2 41.5L456.1 41.8M451.6 35.4L446.7 35.0M451.6 35.4L453.1 37.5M451.6 35.4L455.0 33.5M451.9 55.9L448.5 57.8M451.9 55.9L450.4 53.8M451.9 55.9L456.8 56.2M452.3 49.8L447.4 49.5M452.3 49.8L453.8 51.9M452.3 49.8L455.7 48.0M452.4 23.1L449.0 24.9M452.4 23.1L450.9 20.9M452.4 23.1L457.3 23.4M453.0 64.2L448.1 63.9M453.1 37.5L449.7 39.3M453.1 37.5L451.6 35.4M453.1 37.5L458.0 37.8M453.5 31.4L448.6 31.1M453.5 31.4L455.0 33.5M453.5 31.4L456.9 29.5M453.8 51.9L450.4 53.8M453.8 51.9L452.3 49.8M453.8 51.9L458.7 52.3M454.2 45.8L449.3 45.5M454.2 45.8L455.7 48.0M454.2 45.8L457.6 44.0M454.9 60.2L450.0 59.9M454.9 60.2L458.3 58.4M455.0 33.5L451.6 35.4M455.0 33.5L453.5 31.4M455.0 33.5L459.9 33.8M455.4 27.4L450.5 27.1M455.4 27.4L456.9 29.5M455.4 27.4L458.8 25.6M455.7 48.0L452.3 49.8M455.7 48.0L454.2 45.8M455.7 48.0L460.6 48.3M456.1 41.8L451.2 41.5M456.1 41.8L457.6 44.0M456.1 41.8L459.5 40.0M456.8 56.2L451.9 55.9M456.8 56.2L458.3 58.4M456.8 56.2L460.2 54.4M456.9 29.5L453.5 31.4M456.9 29.5L455.4 27.4M456.9 29.5L461.8 29.9M457.3 23.4L452.4 23.1M457.3 23.4L458.8 25.6M457.6 44.0L454.2 45.8M457.6 44.0L456.1 41.8M457.6 44.0L462.5 44.3M458.0 37.8L453.1 37.5M458.0 37.8L459.5 40.0M458.0 37.8L461.4 36.0M458.3 58.4L454.9 60.2M458.3 58.4L456.8 56.2M458.7 52.3L453.8 51.9M458.7 52.3L460.2 54.4M458.7 52.3L462.1 50.4M458.8 25.6L455.4 27.4M458.8 25.6L457.3 23.4M459.5 40.0L456.1 41.8M459.5 40.0L458.0 37.8M459.9 33.8L455.0 33.5M459.9 33.8L461.4 36.0M459.9 33.8L463.3 32.0M460.2 54.4L456.8 56.2M460.2 54.4L458.7 52.3M460.6 48.3L455.7 48.0M460.6 48.3L462.1 50.4M461.4 36.0L458.0 37.8M461.4 36.0L459.9 33.8M461.8 29.9L456.9 29.5M461.8 29.9L463.3 32.0M462.1 50.4L458.7 52.3M462.1 50.4L460.6 48.3M462.5 44.3L457.6 44.0M463.3 32.0L459.9 33.8M463.3 32.0L461.8 29.9" stroke="#8e8e8e" stroke-width="1.35" fill="none"/>
<circle cx="295.1" cy="45.7" r="1.4" fill="#7a7a7a"/>
<circle cx="296.6" cy="47.8" r="1.4" fill="#7a7a7a"/>
<circle cx="297.7" cy="56.1" r="1.4" fill="#7a7a7a"/>
<circle cx="298.5" cy="43.8" r="1.4" fill="#7a7a7a"/>
<circle cx="299.2" cy="58.3" r="1.4" fill="#7a7a7a"/>
<circle cx="299.6" cy="52.1" r="1.4" fill="#7a7a7a"/>
<circle cx="299.9" cy="72.7" r="1.4" fill="#7a7a7a"/>
<circle cx="300.3" cy="66.6" r="1.4" fill="#7a7a7a"/>
<circle cx="301.1" cy="54.3" r="1.4" fill="#7a7a7a"/>
<circle cx="301.5" cy="48.2" r="1.4" fill="#7a7a7a"/>
<circle cx="301.8" cy="68.7" r="1.4" fill="#7a7a7a"/>
<circle cx="302.2" cy="62.6" r="1.4" fill="#7a7a7a"/>
<circle cx="302.9" cy="77.0" r="1.4" fill="#7a7a7a"/>
<circle cx="303.0" cy="50.3" r="1.4" fill="#7a7a7a"/>
<circle cx="303.4" cy="44.2" r="1.4" fill="#7a7a7a"/>
<circle cx="303.7" cy="64.7" r="1.4" fill="#7a7a7a"/>
<circle cx="304.1" cy="58.6" r="1.4" fill="#7a7a7a"/>
<circle cx="304.4" cy="79.1" r="1.4" fill="#7a7a7a"/>
<circle cx="304.8" cy="73.0" r="1.4" fill="#7a7a7a"/>
<circle cx="304.9" cy="46.3" r="1.4" fill="#7a7a7a"/>
<circle cx="305.3" cy="40.2" r="1.4" fill="#7a7a7a"/>
<circle cx="305.6" cy="60.7" r="1.4" fill="#7a7a7a"/>
<circle cx="306.0" cy="54.6" r="1.4" fill="#7a7a7a"/>
<circle cx="306.3" cy="75.2" r="1.4" fill="#7a7a7a"/>
<circle cx="306.7" cy="69.0" r="1.4" fill="#7a7a7a"/>
<circle cx="306.8" cy="42.3" r="1.4" fill="#7a7a7a"/>
<circle cx="307.5" cy="56.8" r="1.4" fill="#7a7a7a"/>
<circle cx="307.9" cy="50.6" r="1.4" fill="#7a7a7a"/>
<circle cx="308.2" cy="71.2" r="1.4" fill="#7a7a7a"/>
<circle cx="308.6" cy="65.0" r="1.4" fill="#7a7a7a"/>
<circle cx="308.7" cy="38.4" r="1.4" fill="#7a7a7a"/>
<circle cx="309.3" cy="79.5" r="1.4" fill="#7a7a7a"/>
<circle cx="309.4" cy="52.8" r="1.4" fill="#7a7a7a"/>
<circle cx="309.8" cy="46.6" r="1.4" fill="#7a7a7a"/>
<circle cx="310.1" cy="67.2" r="1.4" fill="#7a7a7a"/>
<circle cx="310.5" cy="61.1" r="1.4" fill="#7a7a7a"/>
<circle cx="311.2" cy="75.5" r="1.4" fill="#7a7a7a"/>
<circle cx="311.3" cy="48.8" r="1.4" fill="#7a7a7a"/>
<circle cx="311.7" cy="42.7" r="1.4" fill="#7a7a7a"/>
<circle cx="312.0" cy="63.2" r="1.4" fill="#7a7a7a"/>
<circle cx="312.4" cy="57.1" r="1.4" fill="#7a7a7a"/>
<circle cx="312.7" cy="77.6" r="1.4" fill="#7a7a7a"/>
<circle cx="313.1" cy="71.5" r="1.4" fill="#7a7a7a"/>
<circle cx="313.2" cy="44.8" r="1.4" fill="#7a7a7a"/>
<circle cx="313.6" cy="38.7" r="1.4" fill="#7a7a7a"/>
<circle cx="313.9" cy="59.2" r="1.4" fill="#7a7a7a"/>
<circle cx="314.3" cy="53.1" r="1.4" fill="#7a7a7a"/>
<circle cx="314.6" cy="73.7" r="1.4" fill="#7a7a7a"/>
<circle cx="315.0" cy="67.5" r="1.4" fill="#7a7a7a"/>
<circle cx="315.1" cy="40.8" r="1.4" fill="#7a7a7a"/>
<circle cx="315.5" cy="34.7" r="1.4" fill="#7a7a7a"/>
<circle cx="315.8" cy="55.2" r="1.4" fill="#7a7a7a"/>
<circle cx="316.2" cy="49.1" r="1.4" fill="#7a7a7a"/>
<circle cx="316.5" cy="69.7" r="1.4" fill="#7a7a7a"/>
<circle cx="316.9" cy="63.5" r="1.4" fill="#7a7a7a"/>
<circle cx="317.0" cy="36.8" r="1.4" fill="#7a7a7a"/>
<circle cx="317.6" cy="78.0" r="1.4" fill="#7a7a7a"/>
<circle cx="317.7" cy="51.3" r="1.4" fill="#7a7a7a"/>
<circle cx="318.1" cy="45.1" r="1.4" fill="#7a7a7a"/>
<circle cx="318.4" cy="65.7" r="1.4" fill="#7a7a7a"/>
<circle cx="318.8" cy="59.6" r="1.4" fill="#7a7a7a"/>
<circle cx="318.9" cy="32.9" r="1.4" fill="#7a7a7a"/>
<circle cx="319.1" cy="80.1" r="1.4" fill="#7a7a7a"/>
<circle cx="319.5" cy="74.0" r="1.4" fill="#7a7a7a"/>
<circle cx="319.6" cy="47.3" r="1.4" fill="#7a7a7a"/>
<circle cx="320.0" cy="41.1" r="1.4" fill="#7a7a7a"/>
<circle cx="320.3" cy="61.7" r="1.4" fill="#7a7a7a"/>
<circle cx="320.7" cy="55.6" r="1.4" fill="#7a7a7a"/>
<circle cx="321.0" cy="76.1" r="1.4" fill="#7a7a7a"/>
<circle cx="321.4" cy="70.0" r="1.4" fill="#7a7a7a"/>
<circle cx="321.5" cy="43.3" r="1.4" fill="#7a7a7a"/>
<circle cx="321.9" cy="37.2" r="1.4" fill="#7a7a7a"/>
<circle cx="322.2" cy="57.7" r="1.4" fill="#7a7a7a"/>
<circle cx="322.6" cy="51.6" r="1.4" fill="#7a7a7a"/>
<circle cx="322.9" cy="72.1" r="1.4" fill="#7a7a7a"/>
<circle cx="323.3" cy="66.0" r="1.4" fill="#7a7a7a"/>
<circle cx="323.4" cy="39.3" r="1.4" fill="#7a7a7a"/>
<circle cx="323.8" cy="33.2" r="1.4" fill="#7a7a7a"/>
<circle cx="324.0" cy="80.4" r="1.4" fill="#7a7a7a"/>
<circle cx="324.1" cy="53.7" r="1.4" fill="#7a7a7a"/>
<circle cx="324.5" cy="47.6" r="1.4" fill="#7a7a7a"/>
<circle cx="324.8" cy="68.2" r="1.4" fill="#7a7a7a"/>
<circle cx="325.2" cy="62.0" r="1.4" fill="#7a7a7a"/>
<circle cx="325.3" cy="35.3" r="1.4" fill="#7a7a7a"/>
<circle cx="325.7" cy="29.2" r="1.4" fill="#7a7a7a"/>
<circle cx="325.9" cy="76.4" r="1.4" fill="#7a7a7a"/>
<circle cx="326.0" cy="49.8" r="1.4" fill="#7a7a7a"/>
<circle cx="326.4" cy="43.6" r="1.4" fill="#7a7a7a"/>
<circle cx="326.7" cy="64.2" r="1.4" fill="#7a7a7a"/>
<circle cx="327.1" cy="58.0" r="1.4" fill="#7a7a7a"/>
<circle cx="327.2" cy="31.3" r="1.4" fill="#7a7a7a"/>
<circle cx="327.4" cy="78.6" r="1.4" fill="#7a7a7a"/>
<circle cx="327.8" cy="72.5" r="1.4" fill="#7a7a7a"/>
<circle cx="327.9" cy="45.8" r="1.4" fill="#7a7a7a"/>
<circle cx="328.3" cy="39.6" r="1.4" fill="#7a7a7a"/>
<circle cx="328.6" cy="60.2" r="1.4" fill="#7a7a7a"/>
<circle cx="329.0" cy="54.1" r="1.4" fill="#7a7a7a"/>
<circle cx="329.1" cy="27.4" r="1.4" fill="#7a7a7a"/>
<circle cx="329.3" cy="74.6" r="1.4" fill="#7a7a7a"/>
<circle cx="329.7" cy="68.5" r="1.4" fill="#7a7a7a"/>
<circle cx="329.8" cy="41.8" r="1.4" fill="#7a7a7a"/>
<circle cx="330.2" cy="35.6" r="1.4" fill="#7a7a7a"/>
<circle cx="330.5" cy="56.2" r="1.4" fill="#7a7a7a"/>
<circle cx="330.9" cy="50.1" r="1.4" fill="#7a7a7a"/>
<circle cx="331.2" cy="70.6" r="1.4" fill="#7a7a7a"/>
<circle cx="331.6" cy="64.5" r="1.4" fill="#7a7a7a"/>
<circle cx="331.7" cy="37.8" r="1.4" fill="#7a7a7a"/>
<circle cx="332.1" cy="31.7" r="1.4" fill="#7a7a7a"/>
<circle cx="332.3" cy="78.9" r="1.4" fill="#7a7a7a"/>
<circle cx="332.4" cy="52.2" r="1.4" fill="#7a7a7a"/>
<circle cx="332.8" cy="46.1" r="1.4" fill="#7a7a7a"/>
<circle cx="333.1" cy="66.6" r="1.4" fill="#7a7a7a"/>
<circle cx="333.5" cy="60.5" r="1.4" fill="#7a7a7a"/>
<circle cx="333.6" cy="33.8" r="1.4" fill="#7a7a7a"/>
<circle cx="333.8" cy="81.1" r="1.4" fill="#7a7a7a"/>
<circle cx="334.0" cy="27.7" r="1.4" fill="#7a7a7a"/>
<circle cx="334.2" cy="74.9" r="1.4" fill="#7a7a7a"/>
<circle cx="334.3" cy="48.2" r="1.4" fill="#7a7a7a"/>
<circle cx="334.7" cy="42.1" r="1.4" fill="#7a7a7a"/>
<circle cx="335.0" cy="62.7" r="1.4" fill="#7a7a7a"/>
<circle cx="335.4" cy="56.5" r="1.4" fill="#7a7a7a"/>
<circle cx="335.5" cy="29.8" r="1.4" fill="#7a7a7a"/>
<circle cx="335.7" cy="77.1" r="1.4" fill="#7a7a7a"/>
<circle cx="335.9" cy="23.7" r="1.4" fill="#7a7a7a"/>
<circle cx="336.1" cy="71.0" r="1.4" fill="#7a7a7a"/>
<circle cx="336.2" cy="44.3" r="1.4" fill="#7a7a7a"/>
<circle cx="336.6" cy="38.1" r="1.4" fill="#7a7a7a"/>
<circle cx="336.9" cy="58.7" r="1.4" fill="#7a7a7a"/>
<circle cx="337.3" cy="52.5" r="1.4" fill="#7a7a7a"/>
<circle cx="337.4" cy="25.8" r="1.4" fill="#7a7a7a"/>
<circle cx="337.6" cy="73.1" r="1.4" fill="#7a7a7a"/>
<circle cx="337.8" cy="19.7" r="1.4" fill="#7a7a7a"/>
<circle cx="338.0" cy="67.0" r="1.4" fill="#7a7a7a"/>
<circle cx="338.1" cy="40.3" r="1.4" fill="#7a7a7a"/>
<circle cx="338.5" cy="34.1" r="1.4" fill="#7a7a7a"/>
<circle cx="338.7" cy="81.4" r="1.4" fill="#7a7a7a"/>
<circle cx="338.8" cy="54.7" r="1.4" fill="#7a7a7a"/>
<circle cx="339.2" cy="48.6" r="1.4" fill="#7a7a7a"/>
<circle cx="339.3" cy="21.9" r="1.4" fill="#7a7a7a"/>
<circle cx="339.5" cy="69.1" r="1.4" fill="#7a7a7a"/>
<circle cx="339.9" cy="63.0" r="1.4" fill="#7a7a7a"/>
<circle cx="340.0" cy="36.3" r="1.4" fill="#7a7a7a"/>
<circle cx="340.4" cy="30.2" r="1.4" fill="#7a7a7a"/>
<circle cx="340.6" cy="77.4" r="1.4" fill="#7a7a7a"/>
<circle cx="340.7" cy="50.7" r="1.4" fill="#7a7a7a"/>
<circle cx="341.1" cy="44.6" r="1.4" fill="#7a7a7a"/>
<circle cx="341.2" cy="17.9" r="1.4" fill="#7a7a7a"/>
<circle cx="341.4" cy="65.1" r="1.4" fill="#7a7a7a"/>
<circle cx="341.8" cy="59.0" r="1.4" fill="#7a7a7a"/>
<circle cx="341.9" cy="32.3" r="1.4" fill="#7a7a7a"/>
<circle cx="342.1" cy="79.6" r="1.4" fill="#7a7a7a"/>
<circle cx="342.3" cy="26.2" r="1.4" fill="#7a7a7a"/>
<circle cx="342.5" cy="73.4" r="1.4" fill="#7a7a7a"/>
<circle cx="342.6" cy="46.7" r="1.4" fill="#7a7a7a"/>
<circle cx="343.0" cy="40.6" r="1.4" fill="#7a7a7a"/>
<circle cx="343.3" cy="61.2" r="1.4" fill="#7a7a7a"/>
<circle cx="343.7" cy="55.0" r="1.4" fill="#7a7a7a"/>
<circle cx="343.8" cy="28.3" r="1.4" fill="#7a7a7a"/>
<circle cx="344.0" cy="75.6" r="1.4" fill="#7a7a7a"/>
<circle cx="344.2" cy="22.2" r="1.4" fill="#7a7a7a"/>
<circle cx="344.4" cy="69.4" r="1.4" fill="#7a7a7a"/>
<circle cx="344.5" cy="42.7" r="1.4" fill="#7a7a7a"/>
<circle cx="344.9" cy="36.6" r="1.4" fill="#7a7a7a"/>
<circle cx="345.2" cy="57.2" r="1.4" fill="#7a7a7a"/>
<circle cx="345.6" cy="51.0" r="1.4" fill="#7a7a7a"/>
<circle cx="345.7" cy="24.3" r="1.4" fill="#7a7a7a"/>
<circle cx="345.9" cy="71.6" r="1.4" fill="#7a7a7a"/>
<circle cx="346.1" cy="18.2" r="1.4" fill="#7a7a7a"/>
<circle cx="346.3" cy="65.5" r="1.4" fill="#7a7a7a"/>
<circle cx="346.4" cy="38.8" r="1.4" fill="#7a7a7a"/>
<circle cx="346.8" cy="32.6" r="1.4" fill="#7a7a7a"/>
<circle cx="347.0" cy="79.9" r="1.4" fill="#7a7a7a"/>
<circle cx="347.1" cy="53.2" r="1.4" fill="#7a7a7a"/>
<circle cx="347.5" cy="47.0" r="1.4" fill="#7a7a7a"/>
<circle cx="347.6" cy="20.4" r="1.4" fill="#7a7a7a"/>
<circle cx="347.8" cy="67.6" r="1.4" fill="#7a7a7a"/>
<circle cx="348.0" cy="14.2" r="1.4" fill="#7a7a7a"/>
<circle cx="348.2" cy="61.5" r="1.4" fill="#7a7a7a"/>
<circle cx="348.3" cy="34.8" r="1.4" fill="#7a7a7a"/>
<circle cx="348.5" cy="82.0" r="1.4" fill="#7a7a7a"/>
<circle cx="348.7" cy="28.6" r="1.4" fill="#7a7a7a"/>
<circle cx="348.9" cy="75.9" r="1.4" fill="#7a7a7a"/>
<circle cx="349.0" cy="49.2" r="1.4" fill="#7a7a7a"/>
<circle cx="349.4" cy="43.1" r="1.4" fill="#7a7a7a"/>
<circle cx="349.5" cy="16.4" r="1.4" fill="#7a7a7a"/>
<circle cx="349.7" cy="63.6" r="1.4" fill="#7a7a7a"/>
<circle cx="350.1" cy="57.5" r="1.4" fill="#7a7a7a"/>
<circle cx="350.2" cy="30.8" r="1.4" fill="#7a7a7a"/>
<circle cx="350.4" cy="78.0" r="1.4" fill="#7a7a7a"/>
<circle cx="350.6" cy="24.7" r="1.4" fill="#7a7a7a"/>
<circle cx="350.8" cy="71.9" r="1.4" fill="#7a7a7a"/>
<circle cx="350.9" cy="45.2" r="1.4" fill="#7a7a7a"/>
<circle cx="351.3" cy="39.1" r="1.4" fill="#7a7a7a"/>
<circle cx="351.6" cy="59.6" r="1.4" fill="#7a7a7a"/>
<circle cx="352.0" cy="53.5" r="1.4" fill="#7a7a7a"/>
<circle cx="352.1" cy="26.8" r="1.4" fill="#7a7a7a"/>
<circle cx="352.3" cy="74.1" r="1.4" fill="#7a7a7a"/>
<circle cx="352.5" cy="20.7" r="1.4" fill="#7a7a7a"/>
<circle cx="352.7" cy="67.9" r="1.4" fill="#7a7a7a"/>
<circle cx="352.8" cy="41.2" r="1.4" fill="#7a7a7a"/>
<circle cx="353.2" cy="35.1" r="1.4" fill="#7a7a7a"/>
<circle cx="353.4" cy="82.3" r="1.4" fill="#7a7a7a"/>
<circle cx="353.5" cy="55.7" r="1.4" fill="#7a7a7a"/>
<circle cx="353.9" cy="49.5" r="1.4" fill="#7a7a7a"/>
<circle cx="354.0" cy="22.8" r="1.4" fill="#7a7a7a"/>
<circle cx="354.2" cy="70.1" r="1.4" fill="#7a7a7a"/>
<circle cx="354.4" cy="16.7" r="1.4" fill="#7a7a7a"/>
<circle cx="354.6" cy="63.9" r="1.4" fill="#7a7a7a"/>
<circle cx="354.7" cy="37.2" r="1.4" fill="#7a7a7a"/>
<circle cx="355.1" cy="31.1" r="1.4" fill="#7a7a7a"/>
<circle cx="355.3" cy="78.4" r="1.4" fill="#7a7a7a"/>
<circle cx="355.4" cy="51.7" r="1.4" fill="#7a7a7a"/>
<circle cx="355.8" cy="45.5" r="1.4" fill="#7a7a7a"/>
<circle cx="355.9" cy="18.8" r="1.4" fill="#7a7a7a"/>
<circle cx="356.1" cy="66.1" r="1.4" fill="#7a7a7a"/>
<circle cx="356.5" cy="60.0" r="1.4" fill="#7a7a7a"/>
<circle cx="356.6" cy="33.3" r="1.4" fill="#7a7a7a"/>
<circle cx="356.8" cy="80.5" r="1.4" fill="#7a7a7a"/>
<circle cx="357.0" cy="27.1" r="1.4" fill="#7a7a7a"/>
<circle cx="357.2" cy="74.4" r="1.4" fill="#7a7a7a"/>
<circle cx="357.3" cy="47.7" r="1.4" fill="#7a7a7a"/>
<circle cx="357.7" cy="41.6" r="1.4" fill="#7a7a7a"/>
<circle cx="357.8" cy="14.9" r="1.4" fill="#7a7a7a"/>
<circle cx="358.0" cy="62.1" r="1.4" fill="#7a7a7a"/>
<circle cx="358.4" cy="56.0" r="1.4" fill="#7a7a7a"/>
<circle cx="358.5" cy="29.3" r="1.4" fill="#7a7a7a"/>
<circle cx="358.7" cy="76.5" r="1.4" fill="#7a7a7a"/>
<circle cx="358.9" cy="23.1" r="1.4" fill="#7a7a7a"/>
<circle cx="359.1" cy="70.4" r="1.4" fill="#7a7a7a"/>
<circle cx="359.2" cy="43.7" r="1.4" fill="#7a7a7a"/>
<circle cx="359.6" cy="37.6" r="1.4" fill="#7a7a7a"/>
<circle cx="359.9" cy="58.1" r="1.4" fill="#7a7a7a"/>
<circle cx="360.3" cy="52.0" r="1.4" fill="#7a7a7a"/>
<circle cx="360.4" cy="25.3" r="1.4" fill="#7a7a7a"/>
<circle cx="360.6" cy="72.6" r="1.4" fill="#7a7a7a"/>
<circle cx="360.8" cy="19.2" r="1.4" fill="#7a7a7a"/>
<circle cx="361.0" cy="66.4" r="1.4" fill="#7a7a7a"/>
<circle cx="361.1" cy="39.7" r="1.4" fill="#7a7a7a"/>
<circle cx="361.5" cy="33.6" r="1.4" fill="#7a7a7a"/>
<circle cx="361.7" cy="80.8" r="1.4" fill="#7a7a7a"/>
<circle cx="361.8" cy="54.1" r="1.4" fill="#7a7a7a"/>
<circle cx="362.2" cy="48.0" r="1.4" fill="#7a7a7a"/>
<circle cx="362.3" cy="21.3" r="1.4" fill="#7a7a7a"/>
<circle cx="362.5" cy="68.6" r="1.4" fill="#7a7a7a"/>
<circle cx="362.7" cy="15.2" r="1.4" fill="#7a7a7a"/>
<circle cx="362.9" cy="62.4" r="1.4" fill="#7a7a7a"/>
<circle cx="363.0" cy="35.7" r="1.4" fill="#7a7a7a"/>
<circle cx="363.2" cy="83.0" r="1.4" fill="#7a7a7a"/>
<circle cx="363.4" cy="29.6" r="1.4" fill="#7a7a7a"/>
<circle cx="363.6" cy="76.9" r="1.4" fill="#7a7a7a"/>
<circle cx="363.7" cy="50.2" r="1.4" fill="#7a7a7a"/>
<circle cx="364.1" cy="44.0" r="1.4" fill="#7a7a7a"/>
<circle cx="364.2" cy="17.3" r="1.4" fill="#7a7a7a"/>
<circle cx="364.4" cy="64.6" r="1.4" fill="#7a7a7a"/>
<circle cx="364.8" cy="58.4" r="1.4" fill="#7a7a7a"/>
<circle cx="364.9" cy="31.8" r="1.4" fill="#7a7a7a"/>
<circle cx="365.1" cy="79.0" r="1.4" fill="#7a7a7a"/>
<circle cx="365.3" cy="25.6" r="1.4" fill="#7a7a7a"/>
<circle cx="365.5" cy="72.9" r="1.4" fill="#7a7a7a"/>
<circle cx="365.6" cy="46.2" r="1.4" fill="#7a7a7a"/>
<circle cx="366.0" cy="40.0" r="1.4" fill="#7a7a7a"/>
<circle cx="366.3" cy="60.6" r="1.4" fill="#7a7a7a"/>
<circle cx="366.7" cy="54.5" r="1.4" fill="#7a7a7a"/>
<circle cx="366.8" cy="27.8" r="1.4" fill="#7a7a7a"/>
<circle cx="367.0" cy="75.0" r="1.4" fill="#7a7a7a"/>
<circle cx="367.2" cy="21.6" r="1.4" fill="#7a7a7a"/>
<circle cx="367.4" cy="68.9" r="1.4" fill="#7a7a7a"/>
<circle cx="367.5" cy="42.2" r="1.4" fill="#7a7a7a"/>
<circle cx="367.9" cy="36.1" r="1.4" fill="#7a7a7a"/>
<circle cx="368.1" cy="83.3" r="1.4" fill="#7a7a7a"/>
<circle cx="368.2" cy="56.6" r="1.4" fill="#7a7a7a"/>
<circle cx="368.6" cy="50.5" r="1.4" fill="#7a7a7a"/>
<circle cx="368.7" cy="23.8" r="1.4" fill="#7a7a7a"/>
<circle cx="368.9" cy="71.0" r="1.4" fill="#7a7a7a"/>
<circle cx="369.1" cy="17.7" r="1.4" fill="#7a7a7a"/>
<circle cx="369.3" cy="64.9" r="1.4" fill="#7a7a7a"/>
<circle cx="369.4" cy="38.2" r="1.4" fill="#7a7a7a"/>
<circle cx="369.8" cy="32.1" r="1.4" fill="#7a7a7a"/>
<circle cx="370.0" cy="79.3" r="1.4" fill="#7a7a7a"/>
<circle cx="370.1" cy="52.6" r="1.4" fill="#7a7a7a"/>
<circle cx="370.5" cy="46.5" r="1.4" fill="#7a7a7a"/>
<circle cx="370.6" cy="19.8" r="1.4" fill="#7a7a7a"/>
<circle cx="370.8" cy="67.1" r="1.4" fill="#7a7a7a"/>
<circle cx="371.2" cy="60.9" r="1.4" fill="#7a7a7a"/>
<circle cx="371.3" cy="34.2" r="1.4" fill="#7a7a7a"/>
<circle cx="371.5" cy="81.5" r="1.4" fill="#7a7a7a"/>
<circle cx="371.7" cy="28.1" r="1.4" fill="#7a7a7a"/>
<circle cx="371.9" cy="75.3" r="1.4" fill="#7a7a7a"/>
<circle cx="372.0" cy="48.6" r="1.4" fill="#7a7a7a"/>
<circle cx="372.4" cy="42.5" r="1.4" fill="#7a7a7a"/>
<circle cx="372.5" cy="15.8" r="1.4" fill="#7a7a7a"/>
<circle cx="372.7" cy="63.1" r="1.4" fill="#7a7a7a"/>
<circle cx="373.1" cy="56.9" r="1.4" fill="#7a7a7a"/>
<circle cx="373.2" cy="30.2" r="1.4" fill="#7a7a7a"/>
<circle cx="373.4" cy="77.5" r="1.4" fill="#7a7a7a"/>
<circle cx="373.6" cy="24.1" r="1.4" fill="#7a7a7a"/>
<circle cx="373.8" cy="71.4" r="1.4" fill="#7a7a7a"/>
<circle cx="373.9" cy="44.7" r="1.4" fill="#7a7a7a"/>
<circle cx="374.3" cy="38.5" r="1.4" fill="#7a7a7a"/>
<circle cx="374.6" cy="59.1" r="1.4" fill="#7a7a7a"/>
<circle cx="375.0" cy="53.0" r="1.4" fill="#7a7a7a"/>
<circle cx="375.1" cy="26.3" r="1.4" fill="#7a7a7a"/>
<circle cx="375.3" cy="73.5" r="1.4" fill="#7a7a7a"/>
<circle cx="375.5" cy="20.1" r="1.4" fill="#7a7a7a"/>
<circle cx="375.7" cy="67.4" r="1.4" fill="#7a7a7a"/>
<circle cx="375.8" cy="40.7" r="1.4" fill="#7a7a7a"/>
<circle cx="376.2" cy="34.5" r="1.4" fill="#7a7a7a"/>
<circle cx="376.4" cy="81.8" r="1.4" fill="#7a7a7a"/>
<circle cx="376.5" cy="55.1" r="1.4" fill="#7a7a7a"/>
<circle cx="376.9" cy="49.0" r="1.4" fill="#7a7a7a"/>
<circle cx="377.0" cy="22.3" r="1.4" fill="#7a7a7a"/>
<circle cx="377.2" cy="69.5" r="1.4" fill="#7a7a7a"/>
<circle cx="377.4" cy="16.1" r="1.4" fill="#7a7a7a"/>
<circle cx="377.6" cy="63.4" r="1.4" fill="#7a7a7a"/>
<circle cx="377.7" cy="36.7" r="1.4" fill="#7a7a7a"/>
<circle cx="378.1" cy="30.6" r="1.4" fill="#7a7a7a"/>
<circle cx="378.3" cy="77.8" r="1.4" fill="#7a7a7a"/>
<circle cx="378.4" cy="51.1" r="1.4" fill="#7a7a7a"/>
<circle cx="378.8" cy="45.0" r="1.4" fill="#7a7a7a"/>
<circle cx="378.9" cy="18.3" r="1.4" fill="#7a7a7a"/>
<circle cx="379.1" cy="65.5" r="1.4" fill="#7a7a7a"/>
<circle cx="379.5" cy="59.4" r="1.4" fill="#7a7a7a"/>
<circle cx="379.6" cy="32.7" r="1.4" fill="#7a7a7a"/>
<circle cx="379.8" cy="80.0" r="1.4" fill="#7a7a7a"/>
<circle cx="380.0" cy="26.6" r="1.4" fill="#7a7a7a"/>
<circle cx="380.2" cy="73.8" r="1.4" fill="#7a7a7a"/>
<circle cx="380.3" cy="47.1" r="1.4" fill="#7a7a7a"/>
<circle cx="380.7" cy="41.0" r="1.4" fill="#7a7a7a"/>
<circle cx="381.0" cy="61.6" r="1.4" fill="#7a7a7a"/>
<circle cx="381.4" cy="55.4" r="1.4" fill="#7a7a7a"/>
<circle cx="381.5" cy="28.7" r="1.4" fill="#7a7a7a"/>
<circle cx="381.7" cy="76.0" r="1.4" fill="#7a7a7a"/>
<circle cx="381.9" cy="22.6" r="1.4" fill="#7a7a7a"/>
<circle cx="382.1" cy="69.8" r="1.4" fill="#7a7a7a"/>
<circle cx="382.2" cy="43.2" r="1.4" fill="#7a7a7a"/>
<circle cx="382.6" cy="37.0" r="1.4" fill="#7a7a7a"/>
<circle cx="382.9" cy="57.6" r="1.4" fill="#7a7a7a"/>
<circle cx="383.3" cy="51.4" r="1.4" fill="#7a7a7a"/>
<circle cx="383.4" cy="24.7" r="1.4" fill="#7a7a7a"/>
<circle cx="383.6" cy="72.0" r="1.4" fill="#7a7a7a"/>
<circle cx="383.8" cy="18.6" r="1.4" fill="#7a7a7a"/>
<circle cx="384.0" cy="65.9" r="1.4" fill="#7a7a7a"/>
<circle cx="384.1" cy="39.2" r="1.4" fill="#7a7a7a"/>
<circle cx="384.5" cy="33.0" r="1.4" fill="#7a7a7a"/>
<circle cx="384.7" cy="80.3" r="1.4" fill="#7a7a7a"/>
<circle cx="384.8" cy="53.6" r="1.4" fill="#7a7a7a"/>
<circle cx="385.2" cy="47.5" r="1.4" fill="#7a7a7a"/>
<circle cx="385.3" cy="20.8" r="1.4" fill="#7a7a7a"/>
<circle cx="385.5" cy="68.0" r="1.4" fill="#7a7a7a"/>
<circle cx="385.9" cy="61.9" r="1.4" fill="#7a7a7a"/>
<circle cx="386.0" cy="35.2" r="1.4" fill="#7a7a7a"/>
<circle cx="386.2" cy="82.4" r="1.4" fill="#7a7a7a"/>
<circle cx="386.4" cy="29.0" r="1.4" fill="#7a7a7a"/>
<circle cx="386.6" cy="76.3" r="1.4" fill="#7a7a7a"/>
<circle cx="386.7" cy="49.6" r="1.4" fill="#7a7a7a"/>
<circle cx="387.1" cy="43.5" r="1.4" fill="#7a7a7a"/>
<circle cx="387.2" cy="16.8" r="1.4" fill="#7a7a7a"/>
<circle cx="387.4" cy="64.0" r="1.4" fill="#7a7a7a"/>
<circle cx="387.8" cy="57.9" r="1.4" fill="#7a7a7a"/>
<circle cx="387.9" cy="31.2" r="1.4" fill="#7a7a7a"/>
<circle cx="388.1" cy="78.5" r="1.4" fill="#7a7a7a"/>
<circle cx="388.3" cy="25.1" r="1.4" fill="#7a7a7a"/>
<circle cx="388.5" cy="72.3" r="1.4" fill="#7a7a7a"/>
<circle cx="388.6" cy="45.6" r="1.4" fill="#7a7a7a"/>
<circle cx="389.0" cy="39.5" r="1.4" fill="#7a7a7a"/>
<circle cx="389.3" cy="60.0" r="1.4" fill="#7a7a7a"/>
<circle cx="389.7" cy="53.9" r="1.4" fill="#7a7a7a"/>
<circle cx="389.8" cy="27.2" r="1.4" fill="#7a7a7a"/>
<circle cx="390.0" cy="74.5" r="1.4" fill="#7a7a7a"/>
<circle cx="390.2" cy="21.1" r="1.4" fill="#7a7a7a"/>
<circle cx="390.4" cy="68.3" r="1.4" fill="#7a7a7a"/>
<circle cx="390.5" cy="41.6" r="1.4" fill="#7a7a7a"/>
<circle cx="390.9" cy="35.5" r="1.4" fill="#7a7a7a"/>
<circle cx="391.1" cy="82.8" r="1.4" fill="#7a7a7a"/>
<circle cx="391.2" cy="56.1" r="1.4" fill="#7a7a7a"/>
<circle cx="391.6" cy="49.9" r="1.4" fill="#7a7a7a"/>
<circle cx="391.7" cy="23.2" r="1.4" fill="#7a7a7a"/>
<circle cx="391.9" cy="70.5" r="1.4" fill="#7a7a7a"/>
<circle cx="392.1" cy="17.1" r="1.4" fill="#7a7a7a"/>
<circle cx="392.3" cy="64.4" r="1.4" fill="#7a7a7a"/>
<circle cx="392.4" cy="37.7" r="1.4" fill="#7a7a7a"/>
<circle cx="392.8" cy="31.5" r="1.4" fill="#7a7a7a"/>
<circle cx="393.0" cy="78.8" r="1.4" fill="#7a7a7a"/>
<circle cx="393.1" cy="52.1" r="1.4" fill="#7a7a7a"/>
<circle cx="393.5" cy="45.9" r="1.4" fill="#7a7a7a"/>
<circle cx="393.6" cy="19.3" r="1.4" fill="#7a7a7a"/>
<circle cx="393.8" cy="66.5" r="1.4" fill="#7a7a7a"/>
<circle cx="394.2" cy="60.4" r="1.4" fill="#7a7a7a"/>
<circle cx="394.3" cy="33.7" r="1.4" fill="#7a7a7a"/>
<circle cx="394.5" cy="80.9" r="1.4" fill="#7a7a7a"/>
<circle cx="394.7" cy="27.5" r="1.4" fill="#7a7a7a"/>
<circle cx="394.9" cy="74.8" r="1.4" fill="#7a7a7a"/>
<circle cx="395.0" cy="48.1" r="1.4" fill="#7a7a7a"/>
<circle cx="395.4" cy="42.0" r="1.4" fill="#7a7a7a"/>
<circle cx="395.7" cy="62.5" r="1.4" fill="#7a7a7a"/>
<circle cx="396.1" cy="56.4" r="1.4" fill="#7a7a7a"/>
<circle cx="396.2" cy="29.7" r="1.4" fill="#7a7a7a"/>
<circle cx="396.4" cy="76.9" r="1.4" fill="#7a7a7a"/>
<circle cx="396.6" cy="23.6" r="1.4" fill="#7a7a7a"/>
<circle cx="396.8" cy="70.8" r="1.4" fill="#7a7a7a"/>
<circle cx="396.9" cy="44.1" r="1.4" fill="#7a7a7a"/>
<circle cx="397.3" cy="38.0" r="1.4" fill="#7a7a7a"/>
<circle cx="397.6" cy="58.5" r="1.4" fill="#7a7a7a"/>
<circle cx="398.0" cy="52.4" r="1.4" fill="#7a7a7a"/>
<circle cx="398.1" cy="25.7" r="1.4" fill="#7a7a7a"/>
<circle cx="398.3" cy="73.0" r="1.4" fill="#7a7a7a"/>
<circle cx="398.5" cy="19.6" r="1.4" fill="#7a7a7a"/>
<circle cx="398.7" cy="66.8" r="1.4" fill="#7a7a7a"/>
<circle cx="398.8" cy="40.1" r="1.4" fill="#7a7a7a"/>
<circle cx="399.2" cy="34.0" r="1.4" fill="#7a7a7a"/>
<circle cx="399.4" cy="81.2" r="1.4" fill="#7a7a7a"/>
<circle cx="399.5" cy="54.6" r="1.4" fill="#7a7a7a"/>
<circle cx="399.9" cy="48.4" r="1.4" fill="#7a7a7a"/>
<circle cx="400.0" cy="21.7" r="1.4" fill="#7a7a7a"/>
<circle cx="400.2" cy="69.0" r="1.4" fill="#7a7a7a"/>
<circle cx="400.6" cy="62.8" r="1.4" fill="#7a7a7a"/>
<circle cx="400.7" cy="36.1" r="1.4" fill="#7a7a7a"/>
<circle cx="400.9" cy="83.4" r="1.4" fill="#7a7a7a"/>
<circle cx="401.1" cy="30.0" r="1.4" fill="#7a7a7a"/>
<circle cx="401.3" cy="77.3" r="1.4" fill="#7a7a7a"/>
<circle cx="401.4" cy="50.6" r="1.4" fill="#7a7a7a"/>
<circle cx="401.8" cy="44.4" r="1.4" fill="#7a7a7a"/>
<circle cx="401.9" cy="17.7" r="1.4" fill="#7a7a7a"/>
<circle cx="402.1" cy="65.0" r="1.4" fill="#7a7a7a"/>
<circle cx="402.5" cy="58.9" r="1.4" fill="#7a7a7a"/>
<circle cx="402.6" cy="32.2" r="1.4" fill="#7a7a7a"/>
<circle cx="402.8" cy="79.4" r="1.4" fill="#7a7a7a"/>
<circle cx="403.0" cy="26.0" r="1.4" fill="#7a7a7a"/>
<circle cx="403.2" cy="73.3" r="1.4" fill="#7a7a7a"/>
<circle cx="403.3" cy="46.6" r="1.4" fill="#7a7a7a"/>
<circle cx="403.7" cy="40.4" r="1.4" fill="#7a7a7a"/>
<circle cx="404.0" cy="61.0" r="1.4" fill="#7a7a7a"/>
<circle cx="404.4" cy="54.9" r="1.4" fill="#7a7a7a"/>
<circle cx="404.5" cy="28.2" r="1.4" fill="#7a7a7a"/>
<circle cx="404.7" cy="75.4" r="1.4" fill="#7a7a7a"/>
<circle cx="404.9" cy="22.0" r="1.4" fill="#7a7a7a"/>
<circle cx="405.1" cy="69.3" r="1.4" fill="#7a7a7a"/>
<circle cx="405.2" cy="42.6" r="1.4" fill="#7a7a7a"/>
<circle cx="405.6" cy="36.5" r="1.4" fill="#7a7a7a"/>
<circle cx="405.8" cy="83.7" r="1.4" fill="#7a7a7a"/>
<circle cx="405.9" cy="57.0" r="1.4" fill="#7a7a7a"/>
<circle cx="406.3" cy="50.9" r="1.4" fill="#7a7a7a"/>
<circle cx="406.4" cy="24.2" r="1.4" fill="#7a7a7a"/>
<circle cx="406.6" cy="71.4" r="1.4" fill="#7a7a7a"/>
<circle cx="406.8" cy="18.1" r="1.4" fill="#7a7a7a"/>
<circle cx="407.0" cy="65.3" r="1.4" fill="#7a7a7a"/>
<circle cx="407.1" cy="38.6" r="1.4" fill="#7a7a7a"/>
<circle cx="407.5" cy="32.5" r="1.4" fill="#7a7a7a"/>
<circle cx="407.7" cy="79.7" r="1.4" fill="#7a7a7a"/>
<circle cx="407.8" cy="53.0" r="1.4" fill="#7a7a7a"/>
<circle cx="408.2" cy="46.9" r="1.4" fill="#7a7a7a"/>
<circle cx="408.3" cy="20.2" r="1.4" fill="#7a7a7a"/>
<circle cx="408.5" cy="67.5" r="1.4" fill="#7a7a7a"/>
<circle cx="408.9" cy="61.3" r="1.4" fill="#7a7a7a"/>
<circle cx="409.0" cy="34.6" r="1.4" fill="#7a7a7a"/>
<circle cx="409.2" cy="81.9" r="1.4" fill="#7a7a7a"/>
<circle cx="409.4" cy="28.5" r="1.4" fill="#7a7a7a"/>
<circle cx="409.6" cy="75.8" r="1.4" fill="#7a7a7a"/>
<circle cx="409.7" cy="49.1" r="1.4" fill="#7a7a7a"/>
<circle cx="410.1" cy="42.9" r="1.4" fill="#7a7a7a"/>
<circle cx="410.4" cy="63.5" r="1.4" fill="#7a7a7a"/>
<circle cx="410.8" cy="57.3" r="1.4" fill="#7a7a7a"/>
<circle cx="410.9" cy="30.6" r="1.4" fill="#7a7a7a"/>
<circle cx="411.1" cy="77.9" r="1.4" fill="#7a7a7a"/>
<circle cx="411.3" cy="24.5" r="1.4" fill="#7a7a7a"/>
<circle cx="411.5" cy="71.8" r="1.4" fill="#7a7a7a"/>
<circle cx="411.6" cy="45.1" r="1.4" fill="#7a7a7a"/>
<circle cx="412.0" cy="38.9" r="1.4" fill="#7a7a7a"/>
<circle cx="412.3" cy="59.5" r="1.4" fill="#7a7a7a"/>
<circle cx="412.7" cy="53.4" r="1.4" fill="#7a7a7a"/>
<circle cx="412.8" cy="26.7" r="1.4" fill="#7a7a7a"/>
<circle cx="413.0" cy="73.9" r="1.4" fill="#7a7a7a"/>
<circle cx="413.2" cy="20.5" r="1.4" fill="#7a7a7a"/>
<circle cx="413.4" cy="67.8" r="1.4" fill="#7a7a7a"/>
<circle cx="413.5" cy="41.1" r="1.4" fill="#7a7a7a"/>
<circle cx="413.9" cy="35.0" r="1.4" fill="#7a7a7a"/>
<circle cx="414.1" cy="82.2" r="1.4" fill="#7a7a7a"/>
<circle cx="414.2" cy="55.5" r="1.4" fill="#7a7a7a"/>
<circle cx="414.6" cy="49.4" r="1.4" fill="#7a7a7a"/>
<circle cx="414.7" cy="22.7" r="1.4" fill="#7a7a7a"/>
<circle cx="414.9" cy="69.9" r="1.4" fill="#7a7a7a"/>
<circle cx="415.3" cy="63.8" r="1.4" fill="#7a7a7a"/>
<circle cx="415.4" cy="37.1" r="1.4" fill="#7a7a7a"/>
<circle cx="415.6" cy="84.4" r="1.4" fill="#7a7a7a"/>
<circle cx="415.8" cy="31.0" r="1.4" fill="#7a7a7a"/>
<circle cx="416.0" cy="78.2" r="1.4" fill="#7a7a7a"/>
<circle cx="416.1" cy="51.5" r="1.4" fill="#7a7a7a"/>
<circle cx="416.5" cy="45.4" r="1.4" fill="#7a7a7a"/>
<circle cx="416.6" cy="18.7" r="1.4" fill="#7a7a7a"/>
<circle cx="416.8" cy="66.0" r="1.4" fill="#7a7a7a"/>
<circle cx="417.2" cy="59.8" r="1.4" fill="#7a7a7a"/>
<circle cx="417.3" cy="33.1" r="1.4" fill="#7a7a7a"/>
<circle cx="417.5" cy="80.4" r="1.4" fill="#7a7a7a"/>
<circle cx="417.7" cy="27.0" r="1.4" fill="#7a7a7a"/>
<circle cx="417.9" cy="74.2" r="1.4" fill="#7a7a7a"/>
<circle cx="418.0" cy="47.5" r="1.4" fill="#7a7a7a"/>
<circle cx="418.4" cy="41.4" r="1.4" fill="#7a7a7a"/>
<circle cx="418.7" cy="62.0" r="1.4" fill="#7a7a7a"/>
<circle cx="419.1" cy="55.8" r="1.4" fill="#7a7a7a"/>
<circle cx="419.2" cy="29.1" r="1.4" fill="#7a7a7a"/>
<circle cx="419.4" cy="76.4" r="1.4" fill="#7a7a7a"/>
<circle cx="419.6" cy="23.0" r="1.4" fill="#7a7a7a"/>
<circle cx="419.8" cy="70.3" r="1.4" fill="#7a7a7a"/>
<circle cx="419.9" cy="43.6" r="1.4" fill="#7a7a7a"/>
<circle cx="420.3" cy="37.4" r="1.4" fill="#7a7a7a"/>
<circle cx="420.5" cy="84.7" r="1.4" fill="#7a7a7a"/>
<circle cx="420.6" cy="58.0" r="1.4" fill="#7a7a7a"/>
<circle cx="421.0" cy="51.8" r="1.4" fill="#7a7a7a"/>
<circle cx="421.1" cy="25.2" r="1.4" fill="#7a7a7a"/>
<circle cx="421.3" cy="72.4" r="1.4" fill="#7a7a7a"/>
<circle cx="421.5" cy="19.0" r="1.4" fill="#7a7a7a"/>
<circle cx="421.7" cy="66.3" r="1.4" fill="#7a7a7a"/>
<circle cx="421.8" cy="39.6" r="1.4" fill="#7a7a7a"/>
<circle cx="422.2" cy="33.4" r="1.4" fill="#7a7a7a"/>
<circle cx="422.4" cy="80.7" r="1.4" fill="#7a7a7a"/>
<circle cx="422.5" cy="54.0" r="1.4" fill="#7a7a7a"/>
<circle cx="422.9" cy="47.9" r="1.4" fill="#7a7a7a"/>
<circle cx="423.0" cy="21.2" r="1.4" fill="#7a7a7a"/>
<circle cx="423.2" cy="68.4" r="1.4" fill="#7a7a7a"/>
<circle cx="423.6" cy="62.3" r="1.4" fill="#7a7a7a"/>
<circle cx="423.7" cy="35.6" r="1.4" fill="#7a7a7a"/>
<circle cx="423.9" cy="82.8" r="1.4" fill="#7a7a7a"/>
<circle cx="424.1" cy="29.5" r="1.4" fill="#7a7a7a"/>
<circle cx="424.3" cy="76.7" r="1.4" fill="#7a7a7a"/>
<circle cx="424.4" cy="50.0" r="1.4" fill="#7a7a7a"/>
<circle cx="424.8" cy="43.9" r="1.4" fill="#7a7a7a"/>
<circle cx="425.1" cy="64.4" r="1.4" fill="#7a7a7a"/>
<circle cx="425.5" cy="58.3" r="1.4" fill="#7a7a7a"/>
<circle cx="425.6" cy="31.6" r="1.4" fill="#7a7a7a"/>
<circle cx="425.8" cy="78.9" r="1.4" fill="#7a7a7a"/>
<circle cx="426.0" cy="25.5" r="1.4" fill="#7a7a7a"/>
<circle cx="426.2" cy="72.7" r="1.4" fill="#7a7a7a"/>
<circle cx="426.3" cy="46.0" r="1.4" fill="#7a7a7a"/>
<circle cx="426.7" cy="39.9" r="1.4" fill="#7a7a7a"/>
<circle cx="427.0" cy="60.5" r="1.4" fill="#7a7a7a"/>
<circle cx="427.4" cy="54.3" r="1.4" fill="#7a7a7a"/>
<circle cx="427.5" cy="27.6" r="1.4" fill="#7a7a7a"/>
<circle cx="427.7" cy="74.9" r="1.4" fill="#7a7a7a"/>
<circle cx="427.9" cy="21.5" r="1.4" fill="#7a7a7a"/>
<circle cx="428.1" cy="68.7" r="1.4" fill="#7a7a7a"/>
<circle cx="428.2" cy="42.0" r="1.4" fill="#7a7a7a"/>
<circle cx="428.6" cy="35.9" r="1.4" fill="#7a7a7a"/>
<circle cx="428.9" cy="56.5" r="1.4" fill="#7a7a7a"/>
<circle cx="429.3" cy="50.3" r="1.4" fill="#7a7a7a"/>
<circle cx="429.4" cy="23.6" r="1.4" fill="#7a7a7a"/>
<circle cx="429.6" cy="70.9" r="1.4" fill="#7a7a7a"/>
<circle cx="430.0" cy="64.8" r="1.4" fill="#7a7a7a"/>
<circle cx="430.1" cy="38.1" r="1.4" fill="#7a7a7a"/>
<circle cx="430.5" cy="31.9" r="1.4" fill="#7a7a7a"/>
<circle cx="430.7" cy="79.2" r="1.4" fill="#7a7a7a"/>
<circle cx="430.8" cy="52.5" r="1.4" fill="#7a7a7a"/>
<circle cx="431.2" cy="46.4" r="1.4" fill="#7a7a7a"/>
<circle cx="431.3" cy="19.7" r="1.4" fill="#7a7a7a"/>
<circle cx="431.5" cy="66.9" r="1.4" fill="#7a7a7a"/>
<circle cx="431.9" cy="60.8" r="1.4" fill="#7a7a7a"/>
<circle cx="432.0" cy="34.1" r="1.4" fill="#7a7a7a"/>
<circle cx="432.4" cy="27.9" r="1.4" fill="#7a7a7a"/>
<circle cx="432.6" cy="75.2" r="1.4" fill="#7a7a7a"/>
<circle cx="432.7" cy="48.5" r="1.4" fill="#7a7a7a"/>
<circle cx="433.1" cy="42.4" r="1.4" fill="#7a7a7a"/>
<circle cx="433.4" cy="62.9" r="1.4" fill="#7a7a7a"/>
<circle cx="433.8" cy="56.8" r="1.4" fill="#7a7a7a"/>
<circle cx="433.9" cy="30.1" r="1.4" fill="#7a7a7a"/>
<circle cx="434.1" cy="77.4" r="1.4" fill="#7a7a7a"/>
<circle cx="434.3" cy="24.0" r="1.4" fill="#7a7a7a"/>
<circle cx="434.5" cy="71.2" r="1.4" fill="#7a7a7a"/>
<circle cx="434.6" cy="44.5" r="1.4" fill="#7a7a7a"/>
<circle cx="435.0" cy="38.4" r="1.4" fill="#7a7a7a"/>
<circle cx="435.3" cy="58.9" r="1.4" fill="#7a7a7a"/>
<circle cx="435.7" cy="52.8" r="1.4" fill="#7a7a7a"/>
<circle cx="435.8" cy="26.1" r="1.4" fill="#7a7a7a"/>
<circle cx="436.0" cy="73.4" r="1.4" fill="#7a7a7a"/>
<circle cx="436.2" cy="20.0" r="1.4" fill="#7a7a7a"/>
<circle cx="436.4" cy="67.2" r="1.4" fill="#7a7a7a"/>
<circle cx="436.5" cy="40.5" r="1.4" fill="#7a7a7a"/>
<circle cx="436.9" cy="34.4" r="1.4" fill="#7a7a7a"/>
<circle cx="437.2" cy="55.0" r="1.4" fill="#7a7a7a"/>
<circle cx="437.6" cy="48.8" r="1.4" fill="#7a7a7a"/>
<circle cx="437.7" cy="22.1" r="1.4" fill="#7a7a7a"/>
<circle cx="437.9" cy="69.4" r="1.4" fill="#7a7a7a"/>
<circle cx="438.3" cy="63.2" r="1.4" fill="#7a7a7a"/>
<circle cx="438.4" cy="36.6" r="1.4" fill="#7a7a7a"/>
<circle cx="438.8" cy="30.4" r="1.4" fill="#7a7a7a"/>
<circle cx="439.1" cy="51.0" r="1.4" fill="#7a7a7a"/>
<circle cx="439.5" cy="44.8" r="1.4" fill="#7a7a7a"/>
<circle cx="439.8" cy="65.4" r="1.4" fill="#7a7a7a"/>
<circle cx="440.2" cy="59.3" r="1.4" fill="#7a7a7a"/>
<circle cx="440.3" cy="32.6" r="1.4" fill="#7a7a7a"/>
<circle cx="440.7" cy="26.4" r="1.4" fill="#7a7a7a"/>
<circle cx="440.9" cy="73.7" r="1.4" fill="#7a7a7a"/>
<circle cx="441.0" cy="47.0" r="1.4" fill="#7a7a7a"/>
<circle cx="441.4" cy="40.9" r="1.4" fill="#7a7a7a"/>
<circle cx="441.7" cy="61.4" r="1.4" fill="#7a7a7a"/>
<circle cx="442.1" cy="55.3" r="1.4" fill="#7a7a7a"/>
<circle cx="442.2" cy="28.6" r="1.4" fill="#7a7a7a"/>
<circle cx="442.6" cy="22.5" r="1.4" fill="#7a7a7a"/>
<circle cx="442.8" cy="69.7" r="1.4" fill="#7a7a7a"/>
<circle cx="442.9" cy="43.0" r="1.4" fill="#7a7a7a"/>
<circle cx="443.3" cy="36.9" r="1.4" fill="#7a7a7a"/>
<circle cx="443.6" cy="57.4" r="1.4" fill="#7a7a7a"/>
<circle cx="444.0" cy="51.3" r="1.4" fill="#7a7a7a"/>
<circle cx="444.1" cy="24.6" r="1.4" fill="#7a7a7a"/>
<circle cx="444.3" cy="71.9" r="1.4" fill="#7a7a7a"/>
<circle cx="444.7" cy="65.7" r="1.4" fill="#7a7a7a"/>
<circle cx="444.8" cy="39.0" r="1.4" fill="#7a7a7a"/>
<circle cx="445.2" cy="32.9" r="1.4" fill="#7a7a7a"/>
<circle cx="445.5" cy="53.4" r="1.4" fill="#7a7a7a"/>
<circle cx="445.9" cy="47.3" r="1.4" fill="#7a7a7a"/>
<circle cx="446.0" cy="20.6" r="1.4" fill="#7a7a7a"/>
<circle cx="446.2" cy="67.9" r="1.4" fill="#7a7a7a"/>
<circle cx="446.6" cy="61.7" r="1.4" fill="#7a7a7a"/>
<circle cx="446.7" cy="35.0" r="1.4" fill="#7a7a7a"/>
<circle cx="447.1" cy="28.9" r="1.4" fill="#7a7a7a"/>
<circle cx="447.4" cy="49.5" r="1.4" fill="#7a7a7a"/>
<circle cx="447.8" cy="43.3" r="1.4" fill="#7a7a7a"/>
<circle cx="448.1" cy="63.9" r="1.4" fill="#7a7a7a"/>
<circle cx="448.5" cy="57.8" r="1.4" fill="#7a7a7a"/>
<circle cx="448.6" cy="31.1" r="1.4" fill="#7a7a7a"/>
<circle cx="449.0" cy="24.9" r="1.4" fill="#7a7a7a"/>
<circle cx="449.3" cy="45.5" r="1.4" fill="#7a7a7a"/>
<circle cx="449.7" cy="39.3" r="1.4" fill="#7a7a7a"/>
<circle cx="450.0" cy="59.9" r="1.4" fill="#7a7a7a"/>
<circle cx="450.4" cy="53.8" r="1.4" fill="#7a7a7a"/>
<circle cx="450.5" cy="27.1" r="1.4" fill="#7a7a7a"/>
<circle cx="450.9" cy="20.9" r="1.4" fill="#7a7a7a"/>
<circle cx="451.2" cy="41.5" r="1.4" fill="#7a7a7a"/>
<circle cx="451.6" cy="35.4" r="1.4" fill="#7a7a7a"/>
<circle cx="451.9" cy="55.9" r="1.4" fill="#7a7a7a"/>
<circle cx="452.3" cy="49.8" r="1.4" fill="#7a7a7a"/>
<circle cx="452.4" cy="23.1" r="1.4" fill="#7a7a7a"/>
<circle cx="453.0" cy="64.2" r="1.4" fill="#7a7a7a"/>
<circle cx="453.1" cy="37.5" r="1.4" fill="#7a7a7a"/>
<circle cx="453.5" cy="31.4" r="1.4" fill="#7a7a7a"/>
<circle cx="453.8" cy="51.9" r="1.4" fill="#7a7a7a"/>
<circle cx="454.2" cy="45.8" r="1.4" fill="#7a7a7a"/>
<circle cx="454.9" cy="60.2" r="1.4" fill="#7a7a7a"/>
<circle cx="455.0" cy="33.5" r="1.4" fill="#7a7a7a"/>
<circle cx="455.4" cy="27.4" r="1.4" fill="#7a7a7a"/>
<circle cx="455.7" cy="48.0" r="1.4" fill="#7a7a7a"/>
<circle cx="456.1" cy="41.8" r="1.4" fill="#7a7a7a"/>
<circle cx="456.8" cy="56.2" r="1.4" fill="#7a7a7a"/>
<circle cx="456.9" cy="29.5" r="1.4" fill="#7a7a7a"/>
<circle cx="457.3" cy="23.4" r="1.4" fill="#7a7a7a"/>
<circle cx="457.6" cy="44.0" r="1.4" fill="#7a7a7a"/>
<circle cx="458.0" cy="37.8" r="1.4" fill="#7a7a7a"/>
<circle cx="458.3" cy="58.4" r="1.4" fill="#7a7a7a"/>
<circle cx="458.7" cy="52.3" r="1.4" fill="#7a7a7a"/>
<circle cx="458.8" cy="25.6" r="1.4" fill="#7a7a7a"/>
<circle cx="459.5" cy="40.0" r="1.4" fill="#7a7a7a"/>
<circle cx="459.9" cy="33.8" r="1.4" fill="#7a7a7a"/>
<circle cx="460.2" cy="54.4" r="1.4" fill="#7a7a7a"/>
<circle cx="460.6" cy="48.3" r="1.4" fill="#7a7a7a"/>
<circle cx="461.4" cy="36.0" r="1.4" fill="#7a7a7a"/>
<circle cx="461.8" cy="29.9" r="1.4" fill="#7a7a7a"/>
<circle cx="462.1" cy="50.4" r="1.4" fill="#7a7a7a"/>
<circle cx="462.5" cy="44.3" r="1.4" fill="#7a7a7a"/>
<circle cx="463.3" cy="32.0" r="1.4" fill="#7a7a7a"/>
<polygon points="354,20 440,28 446,66 428,76 350,69 302,65 301,57" fill="#5aa8b2" opacity="0.45" stroke="#5aa8b2" stroke-width="3" stroke-linejoin="round"/>
<path d="M302.5 57.8l-2.5 4.5M306.6 64.1l-2.5 4.5M311.4 52.4l-2.5 4.5M315.5 58.7l-2.5 4.5M319.6 65.0l-2.5 4.5M320.3 47.0l-2.5 4.5M324.4 53.3l-2.5 4.5M328.5 59.6l-2.5 4.5M332.6 65.9l-2.5 4.5M329.2 41.6l-2.5 4.5M333.3 47.9l-2.5 4.5M337.4 54.2l-2.5 4.5M341.5 60.5l-2.5 4.5M345.6 66.8l-2.5 4.5M338.1 36.3l-2.5 4.5M342.2 42.5l-2.5 4.5M346.3 48.8l-2.5 4.5M350.4 55.1l-2.5 4.5M354.5 61.4l-2.5 4.5M358.6 67.7l-2.5 4.5M347.0 30.9l-2.5 4.5M351.1 37.2l-2.5 4.5M355.2 43.4l-2.5 4.5M359.3 49.7l-2.5 4.5M363.4 56.0l-2.5 4.5M367.5 62.3l-2.5 4.5M371.6 68.6l-2.5 4.5M355.9 25.5l-2.5 4.5M360.0 31.8l-2.5 4.5M364.1 38.1l-2.5 4.5M368.2 44.3l-2.5 4.5M372.3 50.6l-2.5 4.5M376.4 56.9l-2.5 4.5M380.5 63.2l-2.5 4.5M384.6 69.5l-2.5 4.5M388.7 75.7l-2.5 4.5M364.8 20.1l-2.5 4.5M368.9 26.4l-2.5 4.5M373.0 32.7l-2.5 4.5M377.1 39.0l-2.5 4.5M381.2 45.2l-2.5 4.5M385.3 51.5l-2.5 4.5M389.4 57.8l-2.5 4.5M393.5 64.1l-2.5 4.5M397.6 70.4l-2.5 4.5M401.7 76.6l-2.5 4.5M377.8 21.0l-2.5 4.5M381.9 27.3l-2.5 4.5M386.0 33.6l-2.5 4.5M390.1 39.9l-2.5 4.5M394.2 46.1l-2.5 4.5M398.3 52.4l-2.5 4.5M402.4 58.7l-2.5 4.5M406.5 65.0l-2.5 4.5M410.6 71.3l-2.5 4.5M414.7 77.5l-2.5 4.5M390.8 21.9l-2.5 4.5M394.9 28.2l-2.5 4.5M399.0 34.5l-2.5 4.5M403.1 40.8l-2.5 4.5M407.2 47.0l-2.5 4.5M411.3 53.3l-2.5 4.5M415.4 59.6l-2.5 4.5M419.5 65.9l-2.5 4.5M423.6 72.2l-2.5 4.5M427.7 78.4l-2.5 4.5M407.9 29.1l-2.5 4.5M412.0 35.4l-2.5 4.5M416.1 41.7l-2.5 4.5M420.2 47.9l-2.5 4.5M424.3 54.2l-2.5 4.5M428.4 60.5l-2.5 4.5M432.5 66.8l-2.5 4.5M436.6 73.1l-2.5 4.5M420.9 30.0l-2.5 4.5M425.0 36.3l-2.5 4.5M429.1 42.6l-2.5 4.5M433.2 48.8l-2.5 4.5M437.3 55.1l-2.5 4.5M441.4 61.4l-2.5 4.5M445.5 67.7l-2.5 4.5M433.9 30.9l-2.5 4.5M438.0 37.2l-2.5 4.5M442.1 43.5l-2.5 4.5M446.2 49.7l-2.5 4.5" stroke="#2a7488" stroke-width="1.5" fill="none" opacity="0.75"/>
<circle cx="299.4" cy="63.2" r="1.7" fill="#d8d020"/>
<circle cx="303.5" cy="69.4" r="1.7" fill="#d8d020"/>
<circle cx="308.3" cy="57.8" r="1.7" fill="#d8d020"/>
<circle cx="312.4" cy="64.1" r="1.7" fill="#d8d020"/>
<circle cx="316.5" cy="70.3" r="1.7" fill="#d8d020"/>
<circle cx="317.2" cy="52.4" r="1.7" fill="#d8d020"/>
<circle cx="321.3" cy="58.7" r="1.7" fill="#d8d020"/>
<circle cx="325.4" cy="65.0" r="1.7" fill="#d8d020"/>
<circle cx="329.5" cy="71.2" r="1.7" fill="#d8d020"/>
<circle cx="326.1" cy="47.0" r="1.7" fill="#d8d020"/>
<circle cx="330.2" cy="53.3" r="1.7" fill="#d8d020"/>
<circle cx="334.3" cy="59.6" r="1.7" fill="#d8d020"/>
<circle cx="338.4" cy="65.9" r="1.7" fill="#d8d020"/>
<circle cx="342.5" cy="72.1" r="1.7" fill="#d8d020"/>
<circle cx="330.9" cy="35.4" r="1.7" fill="#d8d020"/>
<circle cx="335.0" cy="41.6" r="1.7" fill="#d8d020"/>
<circle cx="339.1" cy="47.9" r="1.7" fill="#d8d020"/>
<circle cx="343.2" cy="54.2" r="1.7" fill="#d8d020"/>
<circle cx="347.3" cy="60.5" r="1.7" fill="#d8d020"/>
<circle cx="351.4" cy="66.8" r="1.7" fill="#d8d020"/>
<circle cx="355.5" cy="73.0" r="1.7" fill="#d8d020"/>
<circle cx="339.8" cy="30.0" r="1.7" fill="#d8d020"/>
<circle cx="343.9" cy="36.3" r="1.7" fill="#d8d020"/>
<circle cx="348.0" cy="42.5" r="1.7" fill="#d8d020"/>
<circle cx="352.1" cy="48.8" r="1.7" fill="#d8d020"/>
<circle cx="356.2" cy="55.1" r="1.7" fill="#d8d020"/>
<circle cx="360.3" cy="61.4" r="1.7" fill="#d8d020"/>
<circle cx="364.4" cy="67.7" r="1.7" fill="#d8d020"/>
<circle cx="368.5" cy="73.9" r="1.7" fill="#d8d020"/>
<circle cx="348.7" cy="24.6" r="1.7" fill="#d8d020"/>
<circle cx="352.8" cy="30.9" r="1.7" fill="#d8d020"/>
<circle cx="356.9" cy="37.2" r="1.7" fill="#d8d020"/>
<circle cx="361.0" cy="43.4" r="1.7" fill="#d8d020"/>
<circle cx="365.1" cy="49.7" r="1.7" fill="#d8d020"/>
<circle cx="369.2" cy="56.0" r="1.7" fill="#d8d020"/>
<circle cx="373.3" cy="62.3" r="1.7" fill="#d8d020"/>
<circle cx="377.4" cy="68.6" r="1.7" fill="#d8d020"/>
<circle cx="381.5" cy="74.8" r="1.7" fill="#d8d020"/>
<circle cx="361.7" cy="25.5" r="1.7" fill="#d8d020"/>
<circle cx="365.8" cy="31.8" r="1.7" fill="#d8d020"/>
<circle cx="369.9" cy="38.1" r="1.7" fill="#d8d020"/>
<circle cx="374.0" cy="44.3" r="1.7" fill="#d8d020"/>
<circle cx="378.1" cy="50.6" r="1.7" fill="#d8d020"/>
<circle cx="382.2" cy="56.9" r="1.7" fill="#d8d020"/>
<circle cx="386.3" cy="63.2" r="1.7" fill="#d8d020"/>
<circle cx="390.4" cy="69.5" r="1.7" fill="#d8d020"/>
<circle cx="394.5" cy="75.7" r="1.7" fill="#d8d020"/>
<circle cx="374.7" cy="26.4" r="1.7" fill="#d8d020"/>
<circle cx="378.8" cy="32.7" r="1.7" fill="#d8d020"/>
<circle cx="382.9" cy="39.0" r="1.7" fill="#d8d020"/>
<circle cx="387.0" cy="45.2" r="1.7" fill="#d8d020"/>
<circle cx="391.1" cy="51.5" r="1.7" fill="#d8d020"/>
<circle cx="395.2" cy="57.8" r="1.7" fill="#d8d020"/>
<circle cx="399.3" cy="64.1" r="1.7" fill="#d8d020"/>
<circle cx="403.4" cy="70.4" r="1.7" fill="#d8d020"/>
<circle cx="407.5" cy="76.6" r="1.7" fill="#d8d020"/>
<circle cx="387.7" cy="27.3" r="1.7" fill="#d8d020"/>
<circle cx="391.8" cy="33.6" r="1.7" fill="#d8d020"/>
<circle cx="395.9" cy="39.9" r="1.7" fill="#d8d020"/>
<circle cx="400.0" cy="46.1" r="1.7" fill="#d8d020"/>
<circle cx="404.1" cy="52.4" r="1.7" fill="#d8d020"/>
<circle cx="408.2" cy="58.7" r="1.7" fill="#d8d020"/>
<circle cx="412.3" cy="65.0" r="1.7" fill="#d8d020"/>
<circle cx="416.4" cy="71.3" r="1.7" fill="#d8d020"/>
<circle cx="420.5" cy="77.5" r="1.7" fill="#d8d020"/>
<circle cx="400.7" cy="28.2" r="1.7" fill="#d8d020"/>
<circle cx="404.8" cy="34.5" r="1.7" fill="#d8d020"/>
<circle cx="408.9" cy="40.8" r="1.7" fill="#d8d020"/>
<circle cx="413.0" cy="47.0" r="1.7" fill="#d8d020"/>
<circle cx="417.1" cy="53.3" r="1.7" fill="#d8d020"/>
<circle cx="421.2" cy="59.6" r="1.7" fill="#d8d020"/>
<circle cx="425.3" cy="65.9" r="1.7" fill="#d8d020"/>
<circle cx="429.4" cy="72.2" r="1.7" fill="#d8d020"/>
<circle cx="433.5" cy="78.4" r="1.7" fill="#d8d020"/>
<circle cx="413.7" cy="29.1" r="1.7" fill="#d8d020"/>
<circle cx="417.8" cy="35.4" r="1.7" fill="#d8d020"/>
<circle cx="421.9" cy="41.7" r="1.7" fill="#d8d020"/>
<circle cx="426.0" cy="47.9" r="1.7" fill="#d8d020"/>
<circle cx="430.1" cy="54.2" r="1.7" fill="#d8d020"/>
<circle cx="434.2" cy="60.5" r="1.7" fill="#d8d020"/>
<circle cx="438.3" cy="66.8" r="1.7" fill="#d8d020"/>
<circle cx="442.4" cy="73.1" r="1.7" fill="#d8d020"/>
<circle cx="426.7" cy="30.0" r="1.7" fill="#d8d020"/>
<circle cx="430.8" cy="36.3" r="1.7" fill="#d8d020"/>
<circle cx="434.9" cy="42.6" r="1.7" fill="#d8d020"/>
<circle cx="439.0" cy="48.8" r="1.7" fill="#d8d020"/>
<circle cx="443.1" cy="55.1" r="1.7" fill="#d8d020"/>
<circle cx="447.2" cy="61.4" r="1.7" fill="#d8d020"/>
<circle cx="439.7" cy="30.9" r="1.7" fill="#d8d020"/>
<path d="M302.6 53.9L296.9 50.0M302.6 53.9l7.3 -3.0M302.6 53.9l-1.6 2.4M306.7 60.2L301.0 56.3M306.7 60.2l7.3 -3.0M306.7 60.2l-1.6 2.4M310.8 66.5L305.1 62.6M310.8 66.5l7.3 -3.0M310.8 66.5l-1.6 2.4M311.5 48.5L305.8 44.6M311.5 48.5l7.3 -3.0M311.5 48.5l-1.6 2.4M315.6 54.8L309.9 50.9M315.6 54.8l7.3 -3.0M315.6 54.8l-1.6 2.4M319.7 61.1L314.0 57.2M319.7 61.1l7.3 -3.0M319.7 61.1l-1.6 2.4M323.8 67.4L318.1 63.5M323.8 67.4l7.3 -3.0M323.8 67.4l-1.6 2.4M320.4 43.1L314.7 39.2M320.4 43.1l7.3 -3.0M320.4 43.1l-1.6 2.4M324.5 49.4L318.8 45.5M324.5 49.4l7.3 -3.0M324.5 49.4l-1.6 2.4M328.6 55.7L322.9 51.8M328.6 55.7l7.3 -3.0M328.6 55.7l-1.6 2.4M332.7 62.0L327.0 58.1M332.7 62.0l7.3 -3.0M332.7 62.0l-1.6 2.4M336.8 68.3L331.1 64.4M336.8 68.3l7.3 -3.0M336.8 68.3l-1.6 2.4M329.3 37.8L323.6 33.9M329.3 37.8l7.3 -3.0M329.3 37.8l-1.6 2.4M333.4 44.0L327.7 40.1M333.4 44.0l7.3 -3.0M333.4 44.0l-1.6 2.4M337.5 50.3L331.8 46.4M337.5 50.3l7.3 -3.0M337.5 50.3l-1.6 2.4M341.6 56.6L335.9 52.7M341.6 56.6l7.3 -3.0M341.6 56.6l-1.6 2.4M345.7 62.9L340.0 59.0M345.7 62.9l7.3 -3.0M345.7 62.9l-1.6 2.4M349.8 69.2L344.1 65.3M349.8 69.2l7.3 -3.0M349.8 69.2l-1.6 2.4M338.2 32.4L332.5 28.5M338.2 32.4l7.3 -3.0M338.2 32.4l-1.6 2.4M342.3 38.7L336.6 34.8M342.3 38.7l7.3 -3.0M342.3 38.7l-1.6 2.4M346.4 44.9L340.7 41.0M346.4 44.9l7.3 -3.0M346.4 44.9l-1.6 2.4M350.5 51.2L344.8 47.3M350.5 51.2l7.3 -3.0M350.5 51.2l-1.6 2.4M354.6 57.5L348.9 53.6M354.6 57.5l7.3 -3.0M354.6 57.5l-1.6 2.4M358.7 63.8L353.0 59.9M358.7 63.8l7.3 -3.0M358.7 63.8l-1.6 2.4M362.8 70.1L357.1 66.2M362.8 70.1l7.3 -3.0M362.8 70.1l-1.6 2.4M347.1 27.0L341.4 23.1M347.1 27.0l7.3 -3.0M347.1 27.0l-1.6 2.4M351.2 33.3L345.5 29.4M351.2 33.3l7.3 -3.0M351.2 33.3l-1.6 2.4M355.3 39.6L349.6 35.7M355.3 39.6l7.3 -3.0M355.3 39.6l-1.6 2.4M359.4 45.8L353.7 41.9M359.4 45.8l7.3 -3.0M359.4 45.8l-1.6 2.4M363.5 52.1L357.8 48.2M363.5 52.1l7.3 -3.0M363.5 52.1l-1.6 2.4M367.6 58.4L361.9 54.5M367.6 58.4l7.3 -3.0M367.6 58.4l-1.6 2.4M371.7 64.7L366.0 60.8M371.7 64.7l7.3 -3.0M371.7 64.7l-1.6 2.4M375.8 71.0L370.1 67.1M375.8 71.0l7.3 -3.0M375.8 71.0l-1.6 2.4M356.0 21.6L350.3 17.7M356.0 21.6l7.3 -3.0M356.0 21.6l-1.6 2.4M360.1 27.9L354.4 24.0M360.1 27.9l7.3 -3.0M360.1 27.9l-1.6 2.4M364.2 34.2L358.5 30.3M364.2 34.2l7.3 -3.0M364.2 34.2l-1.6 2.4M368.3 40.5L362.6 36.6M368.3 40.5l7.3 -3.0M368.3 40.5l-1.6 2.4M372.4 46.7L366.7 42.8M372.4 46.7l7.3 -3.0M372.4 46.7l-1.6 2.4M376.5 53.0L370.8 49.1M376.5 53.0l7.3 -3.0M376.5 53.0l-1.6 2.4M380.6 59.3L374.9 55.4M380.6 59.3l7.3 -3.0M380.6 59.3l-1.6 2.4M384.7 65.6L379.0 61.7M384.7 65.6l7.3 -3.0M384.7 65.6l-1.6 2.4M388.8 71.9L383.1 68.0M388.8 71.9l7.3 -3.0M388.8 71.9l-1.6 2.4M369.0 22.5L363.3 18.6M369.0 22.5l7.3 -3.0M369.0 22.5l-1.6 2.4M373.1 28.8L367.4 24.9M373.1 28.8l7.3 -3.0M373.1 28.8l-1.6 2.4M377.2 35.1L371.5 31.2M377.2 35.1l7.3 -3.0M377.2 35.1l-1.6 2.4M381.3 41.4L375.6 37.5M381.3 41.4l7.3 -3.0M381.3 41.4l-1.6 2.4M385.4 47.6L379.7 43.7M385.4 47.6l7.3 -3.0M385.4 47.6l-1.6 2.4M389.5 53.9L383.8 50.0M389.5 53.9l7.3 -3.0M389.5 53.9l-1.6 2.4M393.6 60.2L387.9 56.3M393.6 60.2l7.3 -3.0M393.6 60.2l-1.6 2.4M397.7 66.5L392.0 62.6M397.7 66.5l7.3 -3.0M397.7 66.5l-1.6 2.4M401.8 72.8L396.1 68.9M401.8 72.8l7.3 -3.0M401.8 72.8l-1.6 2.4M382.0 23.4L376.3 19.5M382.0 23.4l7.3 -3.0M382.0 23.4l-1.6 2.4M386.1 29.7L380.4 25.8M386.1 29.7l7.3 -3.0M386.1 29.7l-1.6 2.4M390.2 36.0L384.5 32.1M390.2 36.0l7.3 -3.0M390.2 36.0l-1.6 2.4M394.3 42.3L388.6 38.4M394.3 42.3l7.3 -3.0M394.3 42.3l-1.6 2.4M398.4 48.5L392.7 44.6M398.4 48.5l7.3 -3.0M398.4 48.5l-1.6 2.4M402.5 54.8L396.8 50.9M402.5 54.8l7.3 -3.0M402.5 54.8l-1.6 2.4M406.6 61.1L400.9 57.2M406.6 61.1l7.3 -3.0M406.6 61.1l-1.6 2.4M410.7 67.4L405.0 63.5M410.7 67.4l7.3 -3.0M410.7 67.4l-1.6 2.4M414.8 73.7L409.1 69.8M414.8 73.7l7.3 -3.0M414.8 73.7l-1.6 2.4M395.0 24.3L389.3 20.4M395.0 24.3l7.3 -3.0M395.0 24.3l-1.6 2.4M399.1 30.6L393.4 26.7M399.1 30.6l7.3 -3.0M399.1 30.6l-1.6 2.4M403.2 36.9L397.5 33.0M403.2 36.9l7.3 -3.0M403.2 36.9l-1.6 2.4M407.3 43.2L401.6 39.3M407.3 43.2l7.3 -3.0M407.3 43.2l-1.6 2.4M411.4 49.4L405.7 45.5M411.4 49.4l7.3 -3.0M411.4 49.4l-1.6 2.4M415.5 55.7L409.8 51.8M415.5 55.7l7.3 -3.0M415.5 55.7l-1.6 2.4M419.6 62.0L413.9 58.1M419.6 62.0l7.3 -3.0M419.6 62.0l-1.6 2.4M423.7 68.3L418.0 64.4M423.7 68.3l7.3 -3.0M423.7 68.3l-1.6 2.4M427.8 74.6L422.1 70.7M427.8 74.6l7.3 -3.0M427.8 74.6l-1.6 2.4M408.0 25.2L402.3 21.3M408.0 25.2l7.3 -3.0M408.0 25.2l-1.6 2.4M412.1 31.5L406.4 27.6M412.1 31.5l7.3 -3.0M412.1 31.5l-1.6 2.4M416.2 37.8L410.5 33.9M416.2 37.8l7.3 -3.0M416.2 37.8l-1.6 2.4M420.3 44.1L414.6 40.2M420.3 44.1l7.3 -3.0M420.3 44.1l-1.6 2.4M424.4 50.3L418.7 46.4M424.4 50.3l7.3 -3.0M424.4 50.3l-1.6 2.4M428.5 56.6L422.8 52.7M428.5 56.6l7.3 -3.0M428.5 56.6l-1.6 2.4M432.6 62.9L426.9 59.0M432.6 62.9l7.3 -3.0M432.6 62.9l-1.6 2.4M436.7 69.2L431.0 65.3M436.7 69.2l7.3 -3.0M436.7 69.2l-1.6 2.4M421.0 26.1L415.3 22.2M421.0 26.1l7.3 -3.0M421.0 26.1l-1.6 2.4M425.1 32.4L419.4 28.5M425.1 32.4l7.3 -3.0M425.1 32.4l-1.6 2.4M429.2 38.7L423.5 34.8M429.2 38.7l7.3 -3.0M429.2 38.7l-1.6 2.4M433.3 45.0L427.6 41.1M433.3 45.0l7.3 -3.0M433.3 45.0l-1.6 2.4M437.4 51.2L431.7 47.3M437.4 51.2l7.3 -3.0M437.4 51.2l-1.6 2.4M441.5 57.5L435.8 53.6M441.5 57.5l7.3 -3.0M441.5 57.5l-1.6 2.4M445.6 63.8L439.9 59.9M445.6 63.8l7.3 -3.0M445.6 63.8l-1.6 2.4M434.0 27.0L428.3 23.1M434.0 27.0l7.3 -3.0M434.0 27.0l-1.6 2.4M438.1 33.3L432.4 29.4M438.1 33.3l7.3 -3.0M438.1 33.3l-1.6 2.4M442.2 39.6L436.5 35.7M442.2 39.6l7.3 -3.0M442.2 39.6l-1.6 2.4" stroke="#48b8c6" stroke-width="1.5" fill="none"/>
<circle cx="302.6" cy="53.9" r="1.9" fill="url(#gMo)"/>
<circle cx="306.7" cy="60.2" r="1.9" fill="url(#gMo)"/>
<circle cx="310.8" cy="66.5" r="1.9" fill="url(#gMo)"/>
<circle cx="311.5" cy="48.5" r="1.9" fill="url(#gMo)"/>
<circle cx="315.6" cy="54.8" r="1.9" fill="url(#gMo)"/>
<circle cx="319.7" cy="61.1" r="1.9" fill="url(#gMo)"/>
<circle cx="323.8" cy="67.4" r="1.9" fill="url(#gMo)"/>
<circle cx="320.4" cy="43.1" r="1.9" fill="url(#gMo)"/>
<circle cx="324.5" cy="49.4" r="1.9" fill="url(#gMo)"/>
<circle cx="328.6" cy="55.7" r="1.9" fill="url(#gMo)"/>
<circle cx="332.7" cy="62.0" r="1.9" fill="url(#gMo)"/>
<circle cx="336.8" cy="68.3" r="1.9" fill="url(#gMo)"/>
<circle cx="329.3" cy="37.8" r="1.9" fill="url(#gMo)"/>
<circle cx="333.4" cy="44.0" r="1.9" fill="url(#gMo)"/>
<circle cx="337.5" cy="50.3" r="1.9" fill="url(#gMo)"/>
<circle cx="341.6" cy="56.6" r="1.9" fill="url(#gMo)"/>
<circle cx="345.7" cy="62.9" r="1.9" fill="url(#gMo)"/>
<circle cx="349.8" cy="69.2" r="1.9" fill="url(#gMo)"/>
<circle cx="338.2" cy="32.4" r="1.9" fill="url(#gMo)"/>
<circle cx="342.3" cy="38.7" r="1.9" fill="url(#gMo)"/>
<circle cx="346.4" cy="44.9" r="1.9" fill="url(#gMo)"/>
<circle cx="350.5" cy="51.2" r="1.9" fill="url(#gMo)"/>
<circle cx="354.6" cy="57.5" r="1.9" fill="url(#gMo)"/>
<circle cx="358.7" cy="63.8" r="1.9" fill="url(#gMo)"/>
<circle cx="362.8" cy="70.1" r="1.9" fill="url(#gMo)"/>
<circle cx="347.1" cy="27.0" r="1.9" fill="url(#gMo)"/>
<circle cx="351.2" cy="33.3" r="1.9" fill="url(#gMo)"/>
<circle cx="355.3" cy="39.6" r="1.9" fill="url(#gMo)"/>
<circle cx="359.4" cy="45.8" r="1.9" fill="url(#gMo)"/>
<circle cx="363.5" cy="52.1" r="1.9" fill="url(#gMo)"/>
<circle cx="367.6" cy="58.4" r="1.9" fill="url(#gMo)"/>
<circle cx="371.7" cy="64.7" r="1.9" fill="url(#gMo)"/>
<circle cx="375.8" cy="71.0" r="1.9" fill="url(#gMo)"/>
<circle cx="356.0" cy="21.6" r="1.9" fill="url(#gMo)"/>
<circle cx="360.1" cy="27.9" r="1.9" fill="url(#gMo)"/>
<circle cx="364.2" cy="34.2" r="1.9" fill="url(#gMo)"/>
<circle cx="368.3" cy="40.5" r="1.9" fill="url(#gMo)"/>
<circle cx="372.4" cy="46.7" r="1.9" fill="url(#gMo)"/>
<circle cx="376.5" cy="53.0" r="1.9" fill="url(#gMo)"/>
<circle cx="380.6" cy="59.3" r="1.9" fill="url(#gMo)"/>
<circle cx="384.7" cy="65.6" r="1.9" fill="url(#gMo)"/>
<circle cx="388.8" cy="71.9" r="1.9" fill="url(#gMo)"/>
<circle cx="369.0" cy="22.5" r="1.9" fill="url(#gMo)"/>
<circle cx="373.1" cy="28.8" r="1.9" fill="url(#gMo)"/>
<circle cx="377.2" cy="35.1" r="1.9" fill="url(#gMo)"/>
<circle cx="381.3" cy="41.4" r="1.9" fill="url(#gMo)"/>
<circle cx="385.4" cy="47.6" r="1.9" fill="url(#gMo)"/>
<circle cx="389.5" cy="53.9" r="1.9" fill="url(#gMo)"/>
<circle cx="393.6" cy="60.2" r="1.9" fill="url(#gMo)"/>
<circle cx="397.7" cy="66.5" r="1.9" fill="url(#gMo)"/>
<circle cx="401.8" cy="72.8" r="1.9" fill="url(#gMo)"/>
<circle cx="382.0" cy="23.4" r="1.9" fill="url(#gMo)"/>
<circle cx="386.1" cy="29.7" r="1.9" fill="url(#gMo)"/>
<circle cx="390.2" cy="36.0" r="1.9" fill="url(#gMo)"/>
<circle cx="394.3" cy="42.3" r="1.9" fill="url(#gMo)"/>
<circle cx="398.4" cy="48.5" r="1.9" fill="url(#gMo)"/>
<circle cx="402.5" cy="54.8" r="1.9" fill="url(#gMo)"/>
<circle cx="406.6" cy="61.1" r="1.9" fill="url(#gMo)"/>
<circle cx="410.7" cy="67.4" r="1.9" fill="url(#gMo)"/>
<circle cx="414.8" cy="73.7" r="1.9" fill="url(#gMo)"/>
<circle cx="395.0" cy="24.3" r="1.9" fill="url(#gMo)"/>
<circle cx="399.1" cy="30.6" r="1.9" fill="url(#gMo)"/>
<circle cx="403.2" cy="36.9" r="1.9" fill="url(#gMo)"/>
<circle cx="407.3" cy="43.2" r="1.9" fill="url(#gMo)"/>
<circle cx="411.4" cy="49.4" r="1.9" fill="url(#gMo)"/>
<circle cx="415.5" cy="55.7" r="1.9" fill="url(#gMo)"/>
<circle cx="419.6" cy="62.0" r="1.9" fill="url(#gMo)"/>
<circle cx="423.7" cy="68.3" r="1.9" fill="url(#gMo)"/>
<circle cx="427.8" cy="74.6" r="1.9" fill="url(#gMo)"/>
<circle cx="408.0" cy="25.2" r="1.9" fill="url(#gMo)"/>
<circle cx="412.1" cy="31.5" r="1.9" fill="url(#gMo)"/>
<circle cx="416.2" cy="37.8" r="1.9" fill="url(#gMo)"/>
<circle cx="420.3" cy="44.1" r="1.9" fill="url(#gMo)"/>
<circle cx="424.4" cy="50.3" r="1.9" fill="url(#gMo)"/>
<circle cx="428.5" cy="56.6" r="1.9" fill="url(#gMo)"/>
<circle cx="432.6" cy="62.9" r="1.9" fill="url(#gMo)"/>
<circle cx="436.7" cy="69.2" r="1.9" fill="url(#gMo)"/>
<circle cx="421.0" cy="26.1" r="1.9" fill="url(#gMo)"/>
<circle cx="425.1" cy="32.4" r="1.9" fill="url(#gMo)"/>
<circle cx="429.2" cy="38.7" r="1.9" fill="url(#gMo)"/>
<circle cx="433.3" cy="45.0" r="1.9" fill="url(#gMo)"/>
<circle cx="437.4" cy="51.2" r="1.9" fill="url(#gMo)"/>
<circle cx="441.5" cy="57.5" r="1.9" fill="url(#gMo)"/>
<circle cx="445.6" cy="63.8" r="1.9" fill="url(#gMo)"/>
<circle cx="434.0" cy="27.0" r="1.9" fill="url(#gMo)"/>
<circle cx="438.1" cy="33.3" r="1.9" fill="url(#gMo)"/>
<circle cx="442.2" cy="39.6" r="1.9" fill="url(#gMo)"/>
<circle cx="301.0" cy="56.3" r="2.9" fill="url(#gS)"/>
<circle cx="305.1" cy="62.6" r="2.9" fill="url(#gS)"/>
<circle cx="309.9" cy="50.9" r="2.9" fill="url(#gS)"/>
<circle cx="314.0" cy="57.2" r="2.9" fill="url(#gS)"/>
<circle cx="318.1" cy="63.5" r="2.9" fill="url(#gS)"/>
<circle cx="318.8" cy="45.5" r="2.9" fill="url(#gS)"/>
<circle cx="322.9" cy="51.8" r="2.9" fill="url(#gS)"/>
<circle cx="327.0" cy="58.1" r="2.9" fill="url(#gS)"/>
<circle cx="331.1" cy="64.4" r="2.9" fill="url(#gS)"/>
<circle cx="327.7" cy="40.1" r="2.9" fill="url(#gS)"/>
<circle cx="331.8" cy="46.4" r="2.9" fill="url(#gS)"/>
<circle cx="335.9" cy="52.7" r="2.9" fill="url(#gS)"/>
<circle cx="340.0" cy="59.0" r="2.9" fill="url(#gS)"/>
<circle cx="344.1" cy="65.3" r="2.9" fill="url(#gS)"/>
<circle cx="336.6" cy="34.8" r="2.9" fill="url(#gS)"/>
<circle cx="340.7" cy="41.0" r="2.9" fill="url(#gS)"/>
<circle cx="344.8" cy="47.3" r="2.9" fill="url(#gS)"/>
<circle cx="348.9" cy="53.6" r="2.9" fill="url(#gS)"/>
<circle cx="353.0" cy="59.9" r="2.9" fill="url(#gS)"/>
<circle cx="357.1" cy="66.2" r="2.9" fill="url(#gS)"/>
<circle cx="345.5" cy="29.4" r="2.9" fill="url(#gS)"/>
<circle cx="349.6" cy="35.7" r="2.9" fill="url(#gS)"/>
<circle cx="353.7" cy="41.9" r="2.9" fill="url(#gS)"/>
<circle cx="357.8" cy="48.2" r="2.9" fill="url(#gS)"/>
<circle cx="361.9" cy="54.5" r="2.9" fill="url(#gS)"/>
<circle cx="366.0" cy="60.8" r="2.9" fill="url(#gS)"/>
<circle cx="370.1" cy="67.1" r="2.9" fill="url(#gS)"/>
<circle cx="354.4" cy="24.0" r="2.9" fill="url(#gS)"/>
<circle cx="358.5" cy="30.3" r="2.9" fill="url(#gS)"/>
<circle cx="362.6" cy="36.6" r="2.9" fill="url(#gS)"/>
<circle cx="366.7" cy="42.8" r="2.9" fill="url(#gS)"/>
<circle cx="370.8" cy="49.1" r="2.9" fill="url(#gS)"/>
<circle cx="374.9" cy="55.4" r="2.9" fill="url(#gS)"/>
<circle cx="379.0" cy="61.7" r="2.9" fill="url(#gS)"/>
<circle cx="383.1" cy="68.0" r="2.9" fill="url(#gS)"/>
<circle cx="387.2" cy="74.2" r="2.9" fill="url(#gS)"/>
<circle cx="363.3" cy="18.6" r="2.9" fill="url(#gS)"/>
<circle cx="367.4" cy="24.9" r="2.9" fill="url(#gS)"/>
<circle cx="371.5" cy="31.2" r="2.9" fill="url(#gS)"/>
<circle cx="375.6" cy="37.5" r="2.9" fill="url(#gS)"/>
<circle cx="379.7" cy="43.7" r="2.9" fill="url(#gS)"/>
<circle cx="383.8" cy="50.0" r="2.9" fill="url(#gS)"/>
<circle cx="387.9" cy="56.3" r="2.9" fill="url(#gS)"/>
<circle cx="392.0" cy="62.6" r="2.9" fill="url(#gS)"/>
<circle cx="396.1" cy="68.9" r="2.9" fill="url(#gS)"/>
<circle cx="400.2" cy="75.1" r="2.9" fill="url(#gS)"/>
<circle cx="376.3" cy="19.5" r="2.9" fill="url(#gS)"/>
<circle cx="380.4" cy="25.8" r="2.9" fill="url(#gS)"/>
<circle cx="384.5" cy="32.1" r="2.9" fill="url(#gS)"/>
<circle cx="388.6" cy="38.4" r="2.9" fill="url(#gS)"/>
<circle cx="392.7" cy="44.6" r="2.9" fill="url(#gS)"/>
<circle cx="396.8" cy="50.9" r="2.9" fill="url(#gS)"/>
<circle cx="400.9" cy="57.2" r="2.9" fill="url(#gS)"/>
<circle cx="405.0" cy="63.5" r="2.9" fill="url(#gS)"/>
<circle cx="409.1" cy="69.8" r="2.9" fill="url(#gS)"/>
<circle cx="413.2" cy="76.0" r="2.9" fill="url(#gS)"/>
<circle cx="389.3" cy="20.4" r="2.9" fill="url(#gS)"/>
<circle cx="393.4" cy="26.7" r="2.9" fill="url(#gS)"/>
<circle cx="397.5" cy="33.0" r="2.9" fill="url(#gS)"/>
<circle cx="401.6" cy="39.3" r="2.9" fill="url(#gS)"/>
<circle cx="405.7" cy="45.5" r="2.9" fill="url(#gS)"/>
<circle cx="409.8" cy="51.8" r="2.9" fill="url(#gS)"/>
<circle cx="413.9" cy="58.1" r="2.9" fill="url(#gS)"/>
<circle cx="418.0" cy="64.4" r="2.9" fill="url(#gS)"/>
<circle cx="422.1" cy="70.7" r="2.9" fill="url(#gS)"/>
<circle cx="426.2" cy="76.9" r="2.9" fill="url(#gS)"/>
<circle cx="406.4" cy="27.6" r="2.9" fill="url(#gS)"/>
<circle cx="410.5" cy="33.9" r="2.9" fill="url(#gS)"/>
<circle cx="414.6" cy="40.2" r="2.9" fill="url(#gS)"/>
<circle cx="418.7" cy="46.4" r="2.9" fill="url(#gS)"/>
<circle cx="422.8" cy="52.7" r="2.9" fill="url(#gS)"/>
<circle cx="426.9" cy="59.0" r="2.9" fill="url(#gS)"/>
<circle cx="431.0" cy="65.3" r="2.9" fill="url(#gS)"/>
<circle cx="435.1" cy="71.6" r="2.9" fill="url(#gS)"/>
<circle cx="419.4" cy="28.5" r="2.9" fill="url(#gS)"/>
<circle cx="423.5" cy="34.8" r="2.9" fill="url(#gS)"/>
<circle cx="427.6" cy="41.1" r="2.9" fill="url(#gS)"/>
<circle cx="431.7" cy="47.3" r="2.9" fill="url(#gS)"/>
<circle cx="435.8" cy="53.6" r="2.9" fill="url(#gS)"/>
<circle cx="439.9" cy="59.9" r="2.9" fill="url(#gS)"/>
<circle cx="444.0" cy="66.2" r="2.9" fill="url(#gS)"/>
<circle cx="432.4" cy="29.4" r="2.9" fill="url(#gS)"/>
<circle cx="436.5" cy="35.7" r="2.9" fill="url(#gS)"/>
<circle cx="440.6" cy="42.0" r="2.9" fill="url(#gS)"/>
<circle cx="444.7" cy="48.2" r="2.9" fill="url(#gS)"/>
<path d="M338.5 6c2.5 3 -1.5 5 1.5 8s3 3 2 6s2 4 4 6" stroke="#c8805a" stroke-width="1.0" fill="none"/>
<path d="M397.5 2.5c3 3 -1 6 2 9s4 4 2.5 6s3 3 4.5 5" stroke="#c8805a" stroke-width="1.0" fill="none"/>
<path d="M313 26.5c3 3 -1 5 2 8s3 3 1.5 5s2 2 4 3" stroke="#c8805a" stroke-width="1.0" fill="none"/>
<path d="M330.6 83c3 4 -1 7 2 10s4 5 2.5 8s2 4 2.5 7" stroke="#c8805a" stroke-width="1.0" fill="none"/>
<path d="M386 94c-2 4 2 5 3 8s-1 5 0.5 7s1 3 0.5 4" stroke="#c8805a" stroke-width="1.0" fill="none"/>
<path d="M428 79c3 3 1 6 3.5 9s3 4 2 7s2 3 2.5 5" stroke="#c8805a" stroke-width="1.0" fill="none"/>
<text x="334.6" y="128.0" font-size="10.3" fill="#111" textLength="53.6" lengthAdjust="spacingAndGlyphs">RGO/MoS<tspan font-size="7.5">2</tspan></text>
<path d="M39.3 282.4 L39.7 282.2 L40.1 282.2 L40.5 282.7 L40.9 282.8 L41.3 282.5 L41.7 282.6 L42.1 282.0 L42.6 282.2 L43.0 282.2 L43.4 277.8 L43.8 271.1 L44.2 264.9 L44.6 257.9 L45.0 255.9 L45.5 255.2 L45.9 256.0 L46.3 255.3 L46.7 256.0 L47.1 255.4 L47.5 255.8 L47.9 255.7 L48.4 255.3 L48.8 256.1 L49.2 256.0 L49.6 255.2 L50.0 255.6 L50.4 256.0 L50.8 255.1 L51.3 255.2 L51.7 256.0 L52.1 255.7 L52.5 255.9 L52.9 255.8 L53.3 255.5 L53.7 255.9 L54.1 255.4 L54.6 256.0 L55.0 255.9 L55.4 255.3 L55.8 255.7 L56.2 255.7 L56.6 255.5 L57.0 255.6 L57.5 255.7 L57.9 256.0 L58.3 255.4 L58.7 255.1 L59.1 255.1 L59.5 255.4 L59.9 255.7 L60.4 255.7 L60.8 255.4 L61.2 255.4 L61.6 255.9 L62.0 255.8 L62.4 255.7 L62.8 255.5 L63.2 255.3 L63.7 255.6 L64.1 256.0 L64.5 255.2 L64.9 255.6 L65.3 255.5 L65.7 255.8 L66.1 255.6 L66.6 255.7 L67.0 255.3 L67.4 255.9 L67.8 255.5 L68.2 255.9 L68.6 255.4 L69.0 256.0 L69.5 255.8 L69.9 255.7 L70.3 255.4 L70.7 256.0 L71.1 255.6 L71.5 255.8 L71.9 255.7 L72.4 255.6 L72.8 255.1 L73.2 255.5 L73.6 255.1 L74.0 255.8 L74.4 255.1 L74.8 255.7 L75.2 255.8 L75.7 255.3 L76.1 255.1 L76.5 256.0 L76.9 255.7 L77.3 255.3 L77.7 255.7 L78.1 255.8 L78.6 256.0 L79.0 256.0 L79.4 255.4 L79.8 255.0 L80.2 255.0 L80.6 255.5 L81.0 256.0 L81.5 255.7 L81.9 255.2 L82.3 255.2 L82.7 255.4 L83.1 255.8 L83.5 255.5 L83.9 255.5 L84.4 255.4 L84.8 255.7 L85.2 255.1 L85.6 255.1 L86.0 255.8 L86.4 255.7 L86.8 255.1 L87.2 255.7 L87.7 255.1 L88.1 255.5 L88.5 255.3 L88.9 255.3 L89.3 255.8 L89.7 255.7 L90.1 255.7 L90.6 255.3 L91.0 255.3 L91.4 255.8 L91.8 255.1 L92.2 255.5 L92.6 255.7 L93.0 255.5 L93.5 255.0 L93.9 255.4 L94.3 255.3 L94.7 255.1 L95.1 255.0 L95.5 255.2 L95.9 255.5 L96.3 255.4 L96.8 255.1 L97.2 255.2 L97.6 255.4 L98.0 255.6 L98.4 255.6 L98.8 255.2 L99.2 255.4 L99.7 255.9 L100.1 255.2 L100.5 255.0 L100.9 255.2 L101.3 255.1 L101.7 255.0 L102.1 255.4 L102.6 255.2 L103.0 255.6 L103.4 255.8 L103.8 255.6 L104.2 255.6 L104.6 255.0 L105.0 255.2 L105.5 255.4 L105.9 255.3 L106.3 255.8 L106.7 255.4 L107.1 255.2 L107.5 255.5 L107.9 255.7 L108.3 255.5 L108.8 255.6 L109.2 255.2 L109.6 255.8 L110.0 255.8 L110.4 255.6 L110.8 255.2 L111.2 255.2 L111.7 255.3 L112.1 255.0 L112.5 255.5 L112.9 255.9 L113.3 255.4 L113.7 255.5 L114.1 255.7 L114.6 255.2 L115.0 255.6 L115.4 255.6 L115.8 255.6 L116.2 255.0 L116.6 255.9 L117.0 255.5 L117.5 255.6 L117.9 255.7 L118.3 255.5 L118.7 255.7 L119.1 255.0 L119.5 255.4 L119.9 255.2 L120.3 255.7 L120.8 255.4 L121.2 255.3 L121.6 255.0 L122.0 255.6 L122.4 255.4 L122.8 255.0 L123.2 255.0 L123.7 255.6 L124.1 255.3 L124.5 255.1 L124.9 255.5 L125.3 255.2 L125.7 255.2 L126.1 254.9 L126.6 255.3 L127.0 255.2 L127.4 255.5 L127.8 255.1 L128.2 255.5 L128.6 255.4 L129.0 255.5 L129.4 255.5 L129.9 255.7 L130.3 255.6 L130.7 255.3 L131.1 255.6 L131.5 255.8 L131.9 255.0 L132.3 255.5 L132.8 254.9 L133.2 255.2 L133.6 255.4 L134.0 255.0 L134.4 254.9 L134.8 255.5 L135.2 255.7 L135.7 255.2 L136.1 255.0 L136.5 255.2 L136.9 255.1 L137.3 255.4 L137.7 255.2 L138.1 255.6 L138.6 255.4 L139.0 255.4 L139.4 255.4 L139.8 255.4 L140.2 255.0 L140.6 255.6 L141.0 255.6 L141.4 255.6 L141.9 254.9 L142.3 255.3 L142.7 255.7 L143.1 255.0 L143.5 254.9 L143.9 255.0 L144.3 255.4 L144.8 255.1 L145.2 255.5 L145.6 255.7 L146.0 254.9 L146.4 255.0 L146.8 255.6 L147.2 254.9 L147.7 255.8 L148.1 255.5 L148.5 255.8 L148.9 255.6 L149.3 255.6 L149.7 255.1 L150.1 255.5 L150.6 255.6 L151.0 255.6 L151.4 255.5 L151.8 254.9 L152.2 255.2 L152.6 255.7 L153.0 255.1 L153.4 255.2 L153.9 255.3 L154.3 255.2 L154.7 255.1 L155.1 255.0 L155.5 255.3 L155.9 255.1 L156.3 255.3 L156.8 255.1 L157.2 255.4 L157.6 255.3 L158.0 255.2 L158.4 255.0 L158.8 255.5 L159.2 254.8 L159.7 255.3 L160.1 254.9 L160.5 255.1 L160.9 254.8 L161.3 255.1 L161.7 255.3 L162.1 255.3 L162.5 255.1 L163.0 255.0 L163.4 254.9 L163.8 255.6 L164.2 255.7 L164.6 255.6 L165.0 255.6 L165.4 255.7 L165.9 255.7 L166.3 255.5 L166.7 255.6 L167.1 255.1 L167.5 255.1 L167.9 254.8 L168.3 254.8 L168.8 255.0 L169.2 254.8 L169.6 255.7 L170.0 255.5 L170.4 254.8 L170.8 255.2 L171.2 255.5 L171.7 255.0 L172.1 255.3 L172.5 255.2 L172.9 255.4 L173.3 255.5 L173.7 255.6 L174.1 255.1 L174.5 254.8 L175.0 254.7 L175.4 254.9 L175.8 254.8 L176.2 255.3 L176.6 255.4 L177.0 254.8 L177.4 255.1 L177.9 255.0 L178.3 255.7 L178.7 255.5 L179.1 255.2 L179.5 255.0 L179.9 254.9 L180.3 254.9 L180.8 255.3 L181.2 255.3 L181.6 254.8 L182.0 254.7 L182.4 255.2 L182.8 255.5 L183.2 255.1 L183.7 255.1 L184.1 255.3 L184.5 255.4 L184.9 255.3 L185.3 255.1 L185.7 255.5 L186.1 255.1 L186.5 254.7 L187.0 254.9 L187.4 255.4 L187.8 255.2 L188.2 255.6 L188.6 254.9 L189.0 255.0 L189.4 255.5 L189.9 255.1 L190.3 255.1 L190.7 255.1 L191.1 255.3 L191.5 255.3 L191.9 255.3 L192.3 254.7 L192.8 255.3 L193.2 255.1 L193.6 255.2 L194.0 255.5 L194.4 255.2 L194.8 255.4 L195.2 255.3 L195.6 255.3 L196.1 255.3 L196.5 254.7 L196.9 255.3 L197.3 255.3 L197.7 255.0 L198.1 255.2 L198.5 255.1 L199.0 255.0 L199.4 255.5 L199.8 255.0 L200.2 255.5 L200.6 255.4 L201.0 254.8 L201.4 254.6 L201.9 255.0 L202.3 255.4 L202.7 255.2 L203.1 255.3 L203.5 254.8 L203.9 255.4 L204.3 255.4 L204.8 255.0 L205.2 255.0 L205.6 255.0 L206.0 255.1 L206.4 254.7 L206.8 255.1 L207.2 254.7 L207.6 255.2 L208.1 255.1 L208.5 255.2 L208.9 254.9 L209.3 254.9 L209.7 255.4 L210.1 255.1 L210.5 254.9 L211.0 255.1 L211.4 254.9 L211.8 255.0 L212.2 254.9 L212.6 255.2 L213.0 255.3 L213.4 255.5 L213.9 254.7 L214.3 254.8 L214.7 255.2 L215.1 254.6 L215.5 254.7 L215.9 255.4 L216.3 254.7 L216.8 255.2 L217.2 255.3 L217.6 255.3 L218.0 255.2 L218.4 255.5 L218.8 255.5 L219.2 255.4 L219.6 255.3 L220.1 255.4 L220.5 255.4 L220.9 254.7 L221.3 255.2 L221.7 255.1 L222.1 255.0 L222.5 254.6 L223.0 255.4 L223.4 255.3 L223.8 254.7 L224.2 254.7 L224.6 254.6 L225.0 255.0 L225.4 255.2 L225.9 255.3 L226.3 254.6 L226.7 254.8 L227.1 255.0 L227.5 254.8 L227.9 255.3 L228.3 255.0 L228.7 254.6 L229.2 255.4 L229.6 254.9 L230.0 255.3 L230.4 254.7 L230.8 254.7 L231.2 254.9 L231.6 255.1 L232.1 255.5 L232.5 255.0 L232.9 255.2 L233.3 255.1 L233.7 255.4 L234.1 254.6 L234.5 255.0 L235.0 255.0 L235.4 254.7 L235.8 254.6 L236.2 255.0 L236.6 255.0 L237.0 254.7" fill="none" stroke="#2030c0" stroke-width="1.4" stroke-linejoin="round" opacity="1"/>
<path d="M39.3 283.3 L39.6 282.8 L39.9 282.8 L40.2 282.5 L40.5 283.2 L40.8 283.2 L41.1 282.7 L41.4 282.8 L41.7 283.1 L42.0 282.8 L42.3 283.1 L42.6 282.7 L42.9 283.3 L43.2 283.2 L43.5 282.6 L43.8 283.1 L44.1 280.3 L44.4 274.6 L44.7 269.5 L45.0 264.7 L45.3 259.1 L45.6 254.2 L45.9 254.7 L46.2 254.3 L46.5 254.8 L46.8 254.6 L47.1 254.8 L47.4 254.7 L47.7 253.9 L48.1 254.5 L48.4 253.9 L48.7 254.5 L49.0 254.3 L49.3 254.0 L49.6 254.2 L49.9 254.8 L50.2 254.3 L50.5 254.3 L50.8 254.7 L51.1 254.8 L51.4 254.0 L51.7 254.4 L52.0 254.7 L52.3 254.4 L52.6 254.7 L52.9 254.1 L53.2 254.4 L53.5 254.8 L53.8 254.1 L54.1 254.8 L54.4 254.6 L54.7 254.9 L55.0 254.2 L55.3 254.8 L55.6 254.4 L55.9 254.8 L56.2 254.4 L56.5 254.2 L56.8 254.4 L57.2 254.4 L57.5 254.4 L57.8 254.5 L58.1 254.3 L58.4 254.8 L58.7 254.4 L59.0 254.7 L59.3 254.0 L59.6 254.0 L59.9 254.8 L60.2 254.7 L60.5 254.2 L60.8 254.3 L61.1 254.9 L61.4 254.2 L61.7 254.0 L62.0 254.5 L62.3 254.6 L62.6 254.3 L62.9 254.0 L63.2 254.6 L63.5 254.6 L63.8 254.7 L64.1 254.3 L64.4 254.4 L64.7 254.6 L65.0 254.5 L65.3 254.9 L65.6 254.6 L66.0 253.9 L66.3 254.3 L66.6 254.6 L66.9 254.0 L67.2 254.5 L67.5 254.6 L67.8 254.9 L68.1 254.7 L68.4 254.7 L68.7 254.7 L69.0 254.0 L69.3 254.6 L69.6 254.6 L69.9 254.3 L70.2 254.0 L70.5 254.6 L70.8 254.1 L71.1 254.5 L71.4 254.3 L71.7 254.3 L72.0 254.0 L72.3 254.2 L72.6 254.4 L72.9 254.1 L73.2 254.5 L73.5 254.5 L73.8 254.0 L74.1 254.4 L74.4 254.1 L74.8 254.6 L75.1 254.0 L75.4 254.3 L75.7 254.6 L76.0 254.0 L76.3 254.4 L76.6 254.6 L76.9 254.6 L77.2 254.8 L77.5 254.7 L77.8 254.2 L78.1 254.8 L78.4 254.6 L78.7 254.5 L79.0 254.4 L79.3 254.5 L79.6 254.1 L79.9 254.6 L80.2 254.5 L80.5 254.5 L80.8 254.8 L81.1 254.7 L81.4 254.7 L81.7 254.2 L82.0 254.7 L82.3 254.2 L82.6 254.7 L82.9 254.3 L83.2 254.3 L83.6 254.5 L83.9 254.0 L84.2 254.3 L84.5 254.3 L84.8 254.8 L85.1 254.5 L85.4 254.6 L85.7 254.4 L86.0 254.0 L86.3 254.0 L86.6 254.8 L86.9 254.2 L87.2 254.0 L87.5 254.4 L87.8 254.8 L88.1 254.0 L88.4 254.5 L88.7 253.9 L89.0 254.0 L89.3 254.1 L89.6 254.0 L89.9 254.8 L90.2 254.1 L90.5 254.6 L90.8 254.8 L91.1 254.5 L91.4 254.3 L91.7 254.9 L92.0 254.5 L92.3 254.1 L92.7 254.4 L93.0 254.4 L93.3 254.6 L93.6 253.9 L93.9 254.6 L94.2 254.2 L94.5 254.3 L94.8 254.9 L95.1 253.9 L95.4 254.7 L95.7 253.9 L96.0 254.0 L96.3 254.0 L96.6 254.1 L96.9 254.5 L97.2 254.5 L97.5 254.6 L97.8 254.0 L98.1 254.9 L98.4 254.8 L98.7 254.0 L99.0 254.1 L99.3 254.2 L99.6 253.9 L99.9 254.4 L100.2 254.1 L100.5 254.5 L100.8 254.0 L101.1 254.8 L101.5 254.5 L101.8 254.3 L102.1 254.1 L102.4 254.5 L102.7 254.2 L103.0 253.9 L103.3 254.5 L103.6 254.7 L103.9 254.9 L104.2 254.1 L104.5 254.4 L104.8 254.5 L105.1 254.4 L105.4 254.8 L105.7 254.7 L106.0 254.7 L106.3 254.6 L106.6 254.1 L106.9 254.6 L107.2 254.8 L107.5 254.0 L107.8 254.3 L108.1 254.9 L108.4 254.2 L108.7 254.2 L109.0 254.3 L109.3 254.1 L109.6 254.5 L109.9 254.7 L110.3 254.2 L110.6 254.3 L110.9 254.2 L111.2 254.7 L111.5 254.5 L111.8 254.2 L112.1 254.5 L112.4 254.3 L112.7 254.4 L113.0 254.2 L113.3 254.5 L113.6 254.4 L113.9 254.1 L114.2 254.6 L114.5 254.7 L114.8 254.3 L115.1 254.8 L115.4 254.1 L115.7 254.6 L116.0 254.0 L116.3 254.4 L116.6 254.7 L116.9 254.4 L117.2 254.2 L117.5 254.4 L117.8 254.3 L118.1 254.5 L118.4 254.0 L118.7 254.7 L119.1 254.1 L119.4 254.9 L119.7 254.4 L120.0 254.8 L120.3 254.8 L120.6 254.3 L120.9 254.0 L121.2 254.6 L121.5 254.5 L121.8 254.4 L122.1 254.3 L122.4 254.5 L122.7 254.5 L123.0 254.1 L123.3 254.3 L123.6 254.5 L123.9 254.1 L124.2 253.9 L124.5 254.5 L124.8 254.9 L125.1 254.6 L125.4 254.0 L125.7 254.7 L126.0 254.7 L126.3 254.1 L126.6 254.8 L126.9 254.1 L127.2 254.7 L127.5 254.5 L127.8 254.3 L128.2 254.8 L128.5 254.1 L128.8 254.5 L129.1 254.1 L129.4 254.1 L129.7 254.8 L130.0 254.1 L130.3 254.1 L130.6 254.7 L130.9 254.3 L131.2 254.7 L131.5 254.4 L131.8 254.2 L132.1 254.5 L132.4 254.4 L132.7 254.8 L133.0 254.0 L133.3 254.3 L133.6 254.1 L133.9 254.8 L134.2 254.2 L134.5 254.8 L134.8 254.3 L135.1 254.7 L135.4 254.0 L135.7 254.8 L136.0 254.4 L136.3 254.4 L136.6 254.5 L137.0 254.8 L137.3 254.2 L137.6 253.9 L137.9 254.5 L138.2 254.0 L138.5 254.6 L138.8 254.6 L139.1 254.4 L139.4 253.9 L139.7 254.1 L140.0 254.3 L140.3 254.8 L140.6 254.4 L140.9 254.9 L141.2 254.8 L141.5 254.5 L141.8 254.7 L142.1 254.8 L142.4 254.4 L142.7 254.1 L143.0 254.0 L143.3 254.0 L143.6 254.5 L143.9 254.7 L144.2 254.0 L144.5 254.5 L144.8 254.6 L145.1 254.1 L145.4 254.3 L145.8 254.0 L146.1 254.2 L146.4 254.0 L146.7 254.7 L147.0 254.0 L147.3 254.4 L147.6 254.2 L147.9 254.3 L148.2 253.8 L148.5 253.3 L148.8 253.0 L149.1 249.7 L149.4 253.8 L149.7 252.7 L150.0 250.1 L150.3 251.9 L150.6 251.7 L150.9 251.4 L151.2 251.4 L151.5 252.5 L151.8 248.4 L152.1 250.7 L152.4 240.2 L152.7 250.9 L153.0 240.9 L153.3 249.7 L153.6 246.8 L153.9 243.0 L154.2 249.3 L154.5 248.2 L154.9 246.3 L155.2 248.5 L155.5 246.7 L155.8 250.7 L156.1 248.9 L156.4 248.1 L156.7 248.9 L157.0 248.7 L157.3 247.5 L157.6 244.5 L157.9 247.4 L158.2 248.0 L158.5 247.5 L158.8 245.7 L159.1 244.6 L159.4 243.3 L159.7 243.1 L160.0 245.6 L160.3 243.1 L160.6 243.4 L160.9 240.7 L161.2 245.3 L161.5 242.6 L161.8 241.1 L162.1 244.7 L162.4 245.4 L162.7 240.3 L163.0 241.8 L163.3 247.8 L163.7 242.8 L164.0 234.2 L164.3 233.6 L164.6 245.3 L164.9 237.1 L165.2 238.6 L165.5 237.3 L165.8 242.3 L166.1 243.4 L166.4 235.7 L166.7 249.9 L167.0 237.3 L167.3 241.7 L167.6 235.5 L167.9 235.2 L168.2 235.4 L168.5 235.7 L168.8 235.4 L169.1 238.0 L169.4 239.0 L169.7 231.4 L170.0 227.5 L170.3 233.2 L170.6 237.9 L170.9 232.4 L171.2 241.5 L171.5 232.0 L171.8 231.6 L172.1 233.5 L172.5 236.4 L172.8 235.6 L173.1 233.0 L173.4 223.8 L173.7 231.5 L174.0 231.9 L174.3 231.4 L174.6 229.7 L174.9 228.9 L175.2 231.0 L175.5 228.6 L175.8 232.2 L176.1 228.2 L176.4 228.2 L176.7 229.3 L177.0 231.9 L177.3 227.5 L177.6 230.0 L177.9 230.0 L178.2 226.4 L178.5 230.9 L178.8 227.6 L179.1 229.7 L179.4 225.9 L179.7 229.3 L180.0 229.6 L180.3 227.3 L180.6 227.2 L180.9 225.4 L181.3 227.7 L181.6 227.4 L181.9 227.2 L182.2 225.6 L182.5 227.7 L182.8 225.2 L183.1 223.6 L183.4 224.2 L183.7 226.4 L184.0 225.0 L184.3 227.0 L184.6 224.7 L184.9 223.0 L185.2 227.0 L185.5 223.3 L185.8 221.7 L186.1 225.0 L186.4 224.6 L186.7 222.5 L187.0 225.2 L187.3 224.4 L187.6 222.4 L187.9 222.8 L188.2 224.5 L188.5 224.2 L188.8 222.5 L189.1 220.2 L189.4 223.7 L189.7 220.9 L190.0 221.6 L190.4 222.8 L190.7 222.0 L191.0 219.7 L191.3 223.5 L191.6 221.0 L191.9 221.2 L192.2 223.1 L192.5 221.4 L192.8 222.6 L193.1 221.2 L193.4 223.2 L193.7 218.8 L194.0 215.5 L194.3 221.1 L194.6 220.4 L194.9 220.7 L195.2 220.2 L195.5 221.7 L195.8 221.4 L196.1 220.4 L196.4 215.5 L196.7 222.0 L197.0 223.8 L197.3 215.0 L197.6 218.8 L197.9 213.6 L198.2 223.2 L198.5 217.8 L198.8 218.1 L199.2 219.9 L199.5 218.7 L199.8 222.9 L200.1 220.7 L200.4 221.0 L200.7 221.4 L201.0 219.5 L201.3 218.0 L201.6 222.0 L201.9 219.6 L202.2 223.0 L202.5 223.6 L202.8 217.0 L203.1 219.1 L203.4 217.4 L203.7 221.4 L204.0 220.8 L204.3 217.7 L204.6 221.7 L204.9 219.1 L205.2 227.3 L205.5 224.3 L205.8 223.5 L206.1 224.4 L206.4 220.0 L206.7 219.2 L207.0 224.0 L207.3 219.8 L207.6 220.2 L208.0 220.7 L208.3 224.4 L208.6 218.6 L208.9 224.3 L209.2 221.4 L209.5 223.0 L209.8 223.3 L210.1 225.3 L210.4 225.0 L210.7 225.2 L211.0 221.8 L211.3 225.9 L211.6 221.1 L211.9 223.4 L212.2 226.3 L212.5 221.6 L212.8 221.4 L213.1 225.7 L213.4 224.0 L213.7 225.9 L214.0 226.5 L214.3 226.9 L214.6 222.6 L214.9 226.3 L215.2 226.5 L215.5 226.7 L215.8 226.2 L216.1 222.7 L216.4 226.8 L216.8 227.0 L217.1 227.8 L217.4 224.3 L217.7 227.7 L218.0 223.9 L218.3 223.3 L218.6 227.0 L218.9 226.1 L219.2 224.3 L219.5 226.2 L219.8 227.2 L220.1 224.0 L220.4 223.6 L220.7 227.9 L221.0 224.7 L221.3 229.2 L221.6 225.0 L221.9 227.7 L222.2 224.3 L222.5 229.6 L222.8 228.7 L223.1 227.8 L223.4 227.3 L223.7 225.9 L224.0 229.6 L224.3 230.1 L224.6 229.2 L224.9 230.0 L225.2 225.5 L225.5 228.0 L225.9 229.8 L226.2 229.2 L226.5 229.7 L226.8 229.0 L227.1 230.0 L227.4 228.6 L227.7 231.1 L228.0 228.8 L228.3 227.8 L228.6 228.9 L228.9 232.9 L229.2 231.0 L229.5 229.4 L229.8 233.7 L230.1 229.3 L230.4 234.1 L230.7 234.3 L231.0 235.1 L231.3 230.8 L231.6 235.6 L231.9 233.4 L232.2 232.8 L232.5 233.6 L232.8 230.9 L233.1 233.2 L233.4 236.6 L233.7 234.6 L234.0 236.0 L234.3 232.1 L234.7 235.9 L235.0 233.6 L235.3 235.0 L235.6 235.1 L235.9 234.7 L236.2 236.4 L236.5 234.4 L236.8 234.8 L237.1 233.8" fill="none" stroke="#ee1010" stroke-width="1.4" stroke-linejoin="round" opacity="1"/>
<path d="M39.3 283.0 L39.6 282.9 L39.9 282.3 L40.2 283.0 L40.6 282.9 L40.9 282.8 L41.2 283.4 L41.6 282.9 L41.9 282.8 L42.2 282.5 L42.6 283.5 L42.9 283.2 L43.2 283.6 L43.6 282.5 L43.9 282.7 L44.2 283.6 L44.5 276.1 L44.9 269.9 L45.2 264.1 L45.5 258.0 L45.9 252.5 L46.2 252.4 L46.5 251.4 L46.9 251.8 L47.2 252.0 L47.5 252.6 L47.9 253.5 L48.2 253.6 L48.5 254.3 L48.9 253.9 L49.2 254.4 L49.5 254.2 L49.8 254.4 L50.2 254.2 L50.5 254.5 L50.8 254.7 L51.2 253.7 L51.5 253.7 L51.8 253.9 L52.2 254.1 L52.5 254.7 L52.8 254.8 L53.2 254.7 L53.5 255.0 L53.8 254.0 L54.1 254.5 L54.5 253.9 L54.8 254.6 L55.1 253.7 L55.5 253.9 L55.8 255.1 L56.1 254.8 L56.5 253.8 L56.8 254.4 L57.1 253.7 L57.5 254.6 L57.8 255.0 L58.1 254.2 L58.4 254.0 L58.8 254.7 L59.1 255.0 L59.4 254.6 L59.8 253.7 L60.1 254.0 L60.4 255.0 L60.8 254.8 L61.1 255.0 L61.4 255.0 L61.8 254.0 L62.1 254.9 L62.4 254.3 L62.8 254.5 L63.1 254.9 L63.4 254.1 L63.7 254.9 L64.1 254.2 L64.4 255.0 L64.7 254.5 L65.1 254.8 L65.4 254.7 L65.7 253.7 L66.1 254.0 L66.4 254.7 L66.7 253.8 L67.1 254.8 L67.4 254.6 L67.7 253.9 L68.0 254.2 L68.4 255.0 L68.7 253.7 L69.0 254.8 L69.4 254.8 L69.7 254.0 L70.0 254.7 L70.4 254.7 L70.7 255.0 L71.0 255.0 L71.4 254.3 L71.7 254.8 L72.0 254.3 L72.4 254.6 L72.7 254.5 L73.0 253.7 L73.3 254.4 L73.7 254.3 L74.0 253.9 L74.3 254.9 L74.7 254.9 L75.0 253.8 L75.3 253.9 L75.7 254.8 L76.0 254.9 L76.3 254.1 L76.7 253.8 L77.0 254.8 L77.3 253.7 L77.6 253.8 L78.0 254.3 L78.3 254.5 L78.6 255.0 L79.0 255.1 L79.3 253.7 L79.6 254.8 L80.0 254.1 L80.3 254.8 L80.6 253.9 L81.0 254.3 L81.3 254.7 L81.6 254.9 L82.0 254.1 L82.3 255.0 L82.6 254.8 L82.9 254.3 L83.3 253.9 L83.6 254.2 L83.9 254.7 L84.3 253.8 L84.6 254.8 L84.9 255.1 L85.3 254.7 L85.6 254.5 L85.9 255.0 L86.3 254.9 L86.6 254.6 L86.9 254.3 L87.2 254.9 L87.6 254.6 L87.9 253.8 L88.2 253.7 L88.6 254.2 L88.9 254.1 L89.2 254.3 L89.6 254.9 L89.9 255.1 L90.2 255.1 L90.6 253.8 L90.9 254.1 L91.2 253.7 L91.5 255.1 L91.9 254.2 L92.2 254.4 L92.5 254.1 L92.9 254.7 L93.2 253.7 L93.5 255.0 L93.9 254.3 L94.2 254.1 L94.5 253.8 L94.9 254.1 L95.2 254.1 L95.5 254.0 L95.9 253.8 L96.2 254.6 L96.5 254.1 L96.8 253.8 L97.2 253.9 L97.5 254.5 L97.8 254.0 L98.2 253.9 L98.5 254.3 L98.8 254.2 L99.2 254.6 L99.5 254.3 L99.8 254.2 L100.2 255.0 L100.5 254.2 L100.8 253.7 L101.1 253.8 L101.5 254.1 L101.8 254.6 L102.1 254.1 L102.5 254.3 L102.8 254.5 L103.1 253.9 L103.5 255.0 L103.8 254.0 L104.1 255.1 L104.5 254.3 L104.8 254.4 L105.1 254.8 L105.5 254.1 L105.8 254.4 L106.1 254.2 L106.4 253.8 L106.8 254.8 L107.1 255.1 L107.4 254.7 L107.8 254.1 L108.1 254.8 L108.4 254.9 L108.8 253.8 L109.1 254.2 L109.4 254.5 L109.8 253.8 L110.1 254.7 L110.4 254.2 L110.7 254.8 L111.1 254.5 L111.4 254.0 L111.7 253.8 L112.1 253.8 L112.4 254.6 L112.7 254.3 L113.1 254.7 L113.4 254.9 L113.7 254.4 L114.1 253.9 L114.4 253.9 L114.7 254.1 L115.1 253.7 L115.4 254.7 L115.7 254.9 L116.0 254.5 L116.4 254.7 L116.7 254.8 L117.0 254.5 L117.4 254.2 L117.7 254.4 L118.0 254.7 L118.4 253.9 L118.7 253.7 L119.0 254.5 L119.4 255.0 L119.7 255.1 L120.0 253.9 L120.3 255.1 L120.7 254.1 L121.0 254.3 L121.3 254.7 L121.7 254.0 L122.0 255.1 L122.3 254.9 L122.7 254.5 L123.0 255.1 L123.3 253.9 L123.7 254.8 L124.0 254.9 L124.3 255.1 L124.6 254.2 L125.0 254.5 L125.3 254.2 L125.6 254.2 L126.0 254.0 L126.3 253.7 L126.6 254.1 L127.0 254.8 L127.3 254.4 L127.6 254.9 L128.0 255.1 L128.3 254.4 L128.6 254.1 L129.0 254.9 L129.3 254.7 L129.6 254.6 L129.9 254.1 L130.3 254.4 L130.6 254.2 L130.9 254.0 L131.3 254.6 L131.6 254.0 L131.9 253.8 L132.3 255.0 L132.6 253.8 L132.9 254.1 L133.3 254.9 L133.6 254.5 L133.9 254.2 L134.2 253.8 L134.6 254.6 L134.9 254.3 L135.2 253.8 L135.6 254.0 L135.9 253.8 L136.2 254.5 L136.6 254.2 L136.9 254.8 L137.2 254.1 L137.6 253.9 L137.9 254.2 L138.2 254.1 L138.6 254.8 L138.9 253.8 L139.2 253.7 L139.5 253.7 L139.9 254.3 L140.2 254.0 L140.5 254.7 L140.9 253.8 L141.2 253.9 L141.5 254.6 L141.9 255.0 L142.2 254.5 L142.5 254.3 L142.9 254.0 L143.2 254.4 L143.5 255.1 L143.8 254.0 L144.2 255.0 L144.5 254.0 L144.8 254.9 L145.2 254.6 L145.5 254.0 L145.8 254.9 L146.2 254.9 L146.5 254.4 L146.8 254.1 L147.2 253.9 L147.5 254.1 L147.8 253.8 L148.2 254.4 L148.5 253.7" fill="none" stroke="#f39a2a" stroke-width="2.1" stroke-linejoin="round" opacity="1"/>
<path d="M147.7 253.7 L148.1 255.1 L148.5 254.1 L148.9 254.9 L149.3 253.7 L149.7 255.1 L150.1 253.8 L150.6 254.1 L151.0 253.9 L151.4 253.7 L151.8 254.8 L152.2 254.6 L152.6 254.1 L153.0 254.7 L153.4 254.7 L153.9 254.8 L154.3 253.9 L154.7 253.8 L155.1 253.9 L155.5 254.8 L155.9 253.8 L156.3 254.4 L156.8 254.8 L157.2 254.4 L157.6 254.5 L158.0 255.0 L158.4 254.3 L158.8 254.6 L159.2 254.3 L159.7 253.7 L160.1 254.1 L160.5 254.5 L160.9 253.8 L161.3 253.6 L161.7 254.4 L162.1 253.7 L162.5 255.1 L163.0 254.9 L163.4 254.8 L163.8 253.7 L164.2 254.1 L164.6 254.0 L165.0 254.7 L165.4 254.3 L165.9 253.8 L166.3 254.9 L166.7 254.9 L167.1 255.0 L167.5 254.4 L167.9 253.8 L168.3 254.3 L168.8 254.5 L169.2 254.3 L169.6 254.8 L170.0 253.7 L170.4 254.5 L170.8 254.7 L171.2 254.6 L171.7 253.8 L172.1 254.6 L172.5 253.7 L172.9 254.6 L173.3 254.4 L173.7 254.9 L174.1 253.7 L174.5 253.9 L175.0 254.3 L175.4 254.9 L175.8 254.3 L176.2 254.5 L176.6 253.8 L177.0 253.7 L177.4 254.0 L177.9 254.6 L178.3 255.0 L178.7 253.7 L179.1 253.6 L179.5 254.8 L179.9 254.3 L180.3 254.3 L180.8 253.6 L181.2 255.0 L181.6 254.9 L182.0 253.8 L182.4 254.2 L182.8 254.3 L183.2 253.9 L183.7 254.1 L184.1 254.0 L184.5 254.6 L184.9 254.9 L185.3 255.0 L185.7 254.5 L186.1 254.1 L186.5 254.4 L187.0 254.5 L187.4 254.1 L187.8 254.0 L188.2 254.1 L188.6 254.5 L189.0 253.8 L189.4 253.8 L189.9 253.7 L190.3 253.7 L190.7 255.0 L191.1 254.0 L191.5 254.5 L191.9 254.4 L192.3 254.2 L192.8 254.8 L193.2 254.6 L193.6 253.5 L194.0 254.5 L194.4 253.6 L194.8 254.0 L195.2 254.5 L195.6 254.5 L196.1 254.1 L196.5 253.9 L196.9 254.5 L197.3 254.9 L197.7 254.7 L198.1 253.7 L198.5 253.9 L199.0 254.8 L199.4 253.7 L199.8 254.1 L200.2 254.5 L200.6 253.6 L201.0 254.8 L201.4 254.8 L201.9 254.4 L202.3 253.9 L202.7 254.1 L203.1 254.2 L203.5 253.6 L203.9 254.4 L204.3 253.8 L204.8 254.9 L205.2 253.8 L205.6 254.7 L206.0 254.0 L206.4 253.7 L206.8 254.0 L207.2 254.1 L207.6 254.1 L208.1 253.8 L208.5 254.4 L208.9 254.6 L209.3 254.1 L209.7 254.2 L210.1 254.8 L210.5 254.1 L211.0 254.2 L211.4 254.7 L211.8 253.9 L212.2 253.8 L212.6 254.4 L213.0 253.6 L213.4 253.5 L213.9 253.9 L214.3 254.3 L214.7 254.5 L215.1 254.7 L215.5 254.5 L215.9 253.4 L216.3 254.8 L216.8 253.6 L217.2 253.9 L217.6 253.8 L218.0 254.7 L218.4 253.9 L218.8 254.6 L219.2 253.9 L219.6 253.7 L220.1 253.8 L220.5 254.1 L220.9 253.6 L221.3 254.5 L221.7 254.7 L222.1 253.6 L222.5 254.8 L223.0 254.3 L223.4 254.3 L223.8 253.6 L224.2 254.3 L224.6 254.0 L225.0 254.1 L225.4 254.2 L225.9 254.2 L226.3 254.2 L226.7 254.0 L227.1 254.2 L227.5 254.2 L227.9 253.5 L228.3 253.4 L228.7 254.5 L229.2 253.5 L229.6 254.8 L230.0 254.4 L230.4 253.5 L230.8 254.6 L231.2 253.9 L231.6 253.4 L232.1 254.0 L232.5 254.2 L232.9 254.8 L233.3 254.2 L233.7 254.2 L234.1 253.7 L234.5 254.3 L235.0 253.7 L235.4 254.2 L235.8 253.9 L236.2 253.7 L236.6 254.6 L237.0 253.4" fill="none" stroke="#f39a2a" stroke-width="1.8" stroke-linejoin="round" opacity="1"/>
<path d="M39.3 283.3 L39.7 282.7 L40.1 282.7 L40.5 282.5 L40.9 283.4 L41.3 283.3 L41.7 283.4 L42.1 283.3 L42.6 282.6 L43.0 283.4 L43.4 282.9 L43.8 281.4 L44.2 275.5 L44.6 269.5 L45.0 263.1 L45.5 257.6 L45.9 252.6 L46.3 252.3 L46.7 252.4 L47.1 251.5 L47.5 251.6 L47.9 251.6 L48.4 251.5 L48.8 251.6 L49.2 251.4 L49.6 251.6 L50.0 252.3 L50.4 251.5 L50.8 252.0 L51.3 251.6 L51.7 251.9 L52.1 252.1 L52.5 252.1 L52.9 252.1 L53.3 252.2 L53.7 252.5 L54.1 251.5 L54.6 251.6 L55.0 251.3 L55.4 251.7 L55.8 251.9 L56.2 251.6 L56.6 252.4 L57.0 251.7 L57.5 252.0 L57.9 252.4 L58.3 252.3 L58.7 251.9 L59.1 252.3 L59.5 252.0 L59.9 251.8 L60.4 252.1 L60.8 252.4 L61.2 252.0 L61.6 252.3 L62.0 252.3 L62.4 252.4 L62.8 252.1 L63.2 252.5 L63.7 251.7 L64.1 251.3 L64.5 252.1 L64.9 251.6 L65.3 251.4 L65.7 252.5 L66.1 252.4 L66.6 251.5 L67.0 251.5 L67.4 251.7 L67.8 252.4 L68.2 252.0 L68.6 251.4 L69.0 251.4 L69.5 251.5 L69.9 252.3 L70.3 251.5 L70.7 252.1 L71.1 251.6 L71.5 252.4 L71.9 251.3 L72.4 251.8 L72.8 251.6 L73.2 252.3 L73.6 251.8 L74.0 251.8 L74.4 251.8 L74.8 252.1 L75.2 251.6 L75.7 252.1 L76.1 252.2 L76.5 252.4 L76.9 251.7 L77.3 252.4 L77.7 252.3 L78.1 252.5 L78.6 251.7 L79.0 251.8 L79.4 251.9 L79.8 252.5 L80.2 252.0 L80.6 252.1 L81.0 252.5 L81.5 252.6 L81.9 251.2 L82.3 252.4 L82.7 252.2 L83.1 252.2 L83.5 251.8 L83.9 252.5 L84.4 251.9 L84.8 252.1 L85.2 251.5 L85.6 252.6 L86.0 252.1 L86.4 251.9 L86.8 251.3 L87.2 251.9 L87.7 251.9 L88.1 251.7 L88.5 252.2 L88.9 252.5 L89.3 251.9 L89.7 251.3 L90.1 251.6 L90.6 252.2 L91.0 251.6 L91.4 251.4 L91.8 252.2 L92.2 251.8 L92.6 252.1 L93.0 252.2 L93.5 252.2 L93.9 252.3 L94.3 252.1 L94.7 252.5 L95.1 252.0 L95.5 252.4 L95.9 251.5 L96.3 251.8 L96.8 252.5 L97.2 251.5 L97.6 252.3 L98.0 251.9 L98.4 251.8 L98.8 252.1 L99.2 252.2 L99.7 252.0 L100.1 252.4 L100.5 251.4 L100.9 252.4 L101.3 251.4 L101.7 252.3 L102.1 252.1 L102.6 252.0 L103.0 252.5 L103.4 252.4 L103.8 252.1 L104.2 251.9 L104.6 251.4 L105.0 251.2 L105.5 252.5 L105.9 251.8 L106.3 252.4 L106.7 251.5 L107.1 252.1 L107.5 251.3 L107.9 251.8 L108.3 252.4 L108.8 252.5 L109.2 252.2 L109.6 251.4 L110.0 252.3 L110.4 251.9 L110.8 252.0 L111.2 252.1 L111.7 251.5 L112.1 252.2 L112.5 251.6 L112.9 251.6 L113.3 251.3 L113.7 251.8 L114.1 251.3 L114.6 251.9 L115.0 251.8 L115.4 251.7 L115.8 251.4 L116.2 251.3 L116.6 252.4 L117.0 252.3 L117.5 251.8 L117.9 251.4 L118.3 251.8 L118.7 252.1 L119.1 251.2 L119.5 252.1 L119.9 252.4 L120.3 252.4 L120.8 252.5 L121.2 251.5 L121.6 252.4 L122.0 251.6 L122.4 251.3 L122.8 251.2 L123.2 251.4 L123.7 251.9 L124.1 251.7 L124.5 251.4 L124.9 251.5 L125.3 252.1 L125.7 251.5 L126.1 252.4 L126.6 252.1 L127.0 251.2 L127.4 251.9 L127.8 252.1 L128.2 251.4 L128.6 251.9 L129.0 252.5 L129.4 252.5 L129.9 252.1 L130.3 252.1 L130.7 251.2 L131.1 252.2 L131.5 251.4 L131.9 251.4 L132.3 251.9 L132.8 251.2 L133.2 251.5 L133.6 251.8 L134.0 252.1 L134.4 251.9 L134.8 251.3 L135.2 251.8 L135.7 252.2 L136.1 252.0 L136.5 251.8 L136.9 252.2 L137.3 251.7 L137.7 252.4 L138.1 251.4 L138.6 252.2 L139.0 252.3 L139.4 251.7 L139.8 252.1 L140.2 251.3 L140.6 251.8 L141.0 251.8 L141.4 251.4 L141.9 252.2 L142.3 251.5 L142.7 251.6 L143.1 251.9 L143.5 251.2 L143.9 252.4 L144.3 251.3 L144.8 252.3 L145.2 251.3 L145.6 252.3 L146.0 252.4 L146.4 251.8 L146.8 251.2 L147.2 252.1 L147.7 251.8 L148.1 251.7 L148.5 252.1 L148.9 251.8 L149.3 252.4 L149.7 251.9 L150.1 251.4 L150.6 252.0 L151.0 252.2 L151.4 252.4 L151.8 251.5 L152.2 251.9 L152.6 251.2 L153.0 251.5 L153.4 252.3 L153.9 251.2 L154.3 251.2 L154.7 251.4 L155.1 251.3 L155.5 251.5 L155.9 251.5 L156.3 251.6 L156.8 251.7 L157.2 252.1 L157.6 252.3 L158.0 251.5 L158.4 251.6 L158.8 252.4 L159.2 251.6 L159.7 251.6 L160.1 251.8 L160.5 251.4 L160.9 251.3 L161.3 251.9 L161.7 251.4 L162.1 251.8 L162.5 251.7 L163.0 251.9 L163.4 251.2 L163.8 251.8 L164.2 251.2 L164.6 252.0 L165.0 251.5 L165.4 251.2 L165.9 251.5 L166.3 251.9 L166.7 252.3 L167.1 251.8 L167.5 251.9 L167.9 251.3 L168.3 251.4 L168.8 251.1 L169.2 251.8 L169.6 251.9 L170.0 251.7 L170.4 251.4 L170.8 252.3 L171.2 252.1 L171.7 252.2 L172.1 252.0 L172.5 252.0 L172.9 251.1 L173.3 252.1 L173.7 251.2 L174.1 252.0 L174.5 252.1 L175.0 251.1 L175.4 252.3 L175.8 252.3 L176.2 252.2 L176.6 252.3 L177.0 251.9 L177.4 252.1 L177.9 252.2 L178.3 252.4 L178.7 251.5 L179.1 252.3 L179.5 252.1 L179.9 251.7 L180.3 251.2 L180.8 251.5 L181.2 251.5 L181.6 251.5 L182.0 251.3 L182.4 251.3 L182.8 252.2 L183.2 252.3 L183.7 251.6 L184.1 251.7 L184.5 251.7 L184.9 251.4 L185.3 252.2 L185.7 251.5 L186.1 251.8 L186.5 251.8 L187.0 252.1 L187.4 252.0 L187.8 251.6 L188.2 251.7 L188.6 251.2 L189.0 252.0 L189.4 251.4 L189.9 252.3 L190.3 251.5 L190.7 252.2 L191.1 251.2 L191.5 251.1 L191.9 252.0 L192.3 251.3 L192.8 252.1 L193.2 252.0 L193.6 252.2 L194.0 251.8 L194.4 252.2 L194.8 251.4 L195.2 251.6 L195.6 251.8 L196.1 251.4 L196.5 252.1 L196.9 251.9 L197.3 251.9 L197.7 252.4 L198.1 251.2 L198.5 252.3 L199.0 252.2 L199.4 251.3 L199.8 251.3 L200.2 251.8 L200.6 251.8 L201.0 252.2 L201.4 252.4 L201.9 251.7 L202.3 252.0 L202.7 252.2 L203.1 251.2 L203.5 252.3 L203.9 251.9 L204.3 251.4 L204.8 251.4 L205.2 252.2 L205.6 251.4 L206.0 251.6 L206.4 251.5 L206.8 251.1 L207.2 251.3 L207.6 251.6 L208.1 251.3 L208.5 251.7 L208.9 251.6 L209.3 251.3 L209.7 251.5 L210.1 251.9 L210.5 252.3 L211.0 251.3 L211.4 251.9 L211.8 251.8 L212.2 252.0 L212.6 251.6 L213.0 251.8 L213.4 251.2 L213.9 251.6 L214.3 251.6 L214.7 251.3 L215.1 251.8 L215.5 251.6 L215.9 251.3 L216.3 251.4 L216.8 251.4 L217.2 251.2 L217.6 251.6 L218.0 251.6 L218.4 252.1 L218.8 252.0 L219.2 251.8 L219.6 251.7 L220.1 251.1 L220.5 252.3 L220.9 251.8 L221.3 251.2 L221.7 251.5 L222.1 250.8 L222.5 251.6 L223.0 250.7 L223.4 251.0 L223.8 250.7 L224.2 251.3 L224.6 250.7 L225.0 250.1 L225.4 250.1 L225.9 250.2 L226.3 250.3 L226.7 250.5 L227.1 249.4 L227.5 249.5 L227.9 248.9 L228.3 248.8 L228.7 248.8 L229.2 247.9 L229.6 248.7 L230.0 247.3 L230.4 248.3 L230.8 246.4 L231.2 246.1 L231.6 245.6 L232.1 244.2 L232.5 244.1 L232.9 243.3 L233.3 243.1 L233.7 240.9 L234.1 240.0 L234.5 239.4 L235.0 238.4 L235.4 236.9 L235.8 234.5 L236.2 232.9 L236.6 231.8 L237.0 230.6" fill="none" stroke="#1c6e1c" stroke-width="1.3" stroke-linejoin="round" opacity="1"/>
<path d="M39.4 311.2 L39.7 293.4 L40.1 276.1 L40.4 265.2 L40.7 255.1 L41.0 244.4 L41.4 240.9 L41.7 240.1 L42.0 241.3 L42.4 240.7 L42.7 240.6 L43.0 240.9 L43.4 239.8 L43.7 240.6 L44.0 239.7 L44.4 239.4 L44.7 240.6 L45.0 239.4 L45.3 239.5 L45.7 239.8 L46.0 240.9 L46.3 240.1 L46.7 239.8 L47.0 240.4 L47.3 240.5 L47.7 240.3 L48.0 240.3 L48.3 239.4 L48.7 240.1 L49.0 240.0 L49.3 239.5 L49.7 239.0 L50.0 240.1 L50.3 240.6 L50.6 238.8 L51.0 239.1 L51.3 239.1 L51.6 239.6 L52.0 240.1 L52.3 240.2 L52.6 239.9 L53.0 239.6 L53.3 240.3 L53.6 239.1 L54.0 239.0 L54.3 240.3 L54.6 238.8 L54.9 239.4 L55.3 238.6 L55.6 239.4 L55.9 238.7 L56.3 239.3 L56.6 239.0 L56.9 239.2 L57.3 240.1 L57.6 239.8 L57.9 239.6 L58.3 239.3 L58.6 239.3 L58.9 239.0 L59.2 238.7 L59.6 239.2 L59.9 239.3 L60.2 238.9 L60.6 238.1 L60.9 238.4 L61.2 238.6 L61.6 238.3 L61.9 239.3 L62.2 239.5 L62.6 239.5 L62.9 239.4 L63.2 239.6 L63.6 238.5 L63.9 237.9 L64.2 239.3 L64.5 238.3 L64.9 237.8 L65.2 238.1 L65.5 239.1 L65.9 238.2 L66.2 238.9 L66.5 239.0 L66.9 239.3 L67.2 238.3 L67.5 237.6 L67.9 239.0 L68.2 238.9 L68.5 238.5 L68.8 239.1 L69.2 238.3 L69.5 237.8 L69.8 238.2 L70.2 239.0 L70.5 239.0 L70.8 238.6 L71.2 237.7 L71.5 237.3 L71.8 238.0 L72.2 238.7 L72.5 238.5 L72.8 238.1 L73.2 238.6 L73.5 238.6 L73.8 238.0 L74.1 237.2 L74.5 238.3 L74.8 237.1 L75.1 237.0 L75.5 237.8 L75.8 238.2 L76.1 238.2 L76.5 237.3 L76.8 237.0 L77.1 236.9 L77.5 238.1 L77.8 237.6 L78.1 238.3 L78.4 237.8 L78.8 237.8 L79.1 238.1 L79.4 238.1 L79.8 236.4 L80.1 237.7 L80.4 237.3 L80.8 237.2 L81.1 237.3 L81.4 237.0 L81.8 237.2 L82.1 237.2 L82.4 237.9 L82.8 236.9 L83.1 236.8 L83.4 236.6 L83.7 237.3 L84.1 237.0 L84.4 236.4 L84.7 236.5 L85.1 237.7 L85.4 237.1 L85.7 237.4 L86.1 236.3 L86.4 236.9 L86.7 236.9 L87.1 237.1 L87.4 236.7 L87.7 236.2 L88.0 236.3 L88.4 237.0 L88.7 236.6 L89.0 236.2 L89.4 237.2 L89.7 235.6 L90.0 237.2 L90.4 236.0 L90.7 236.9 L91.0 235.4 L91.4 235.8 L91.7 236.6 L92.0 236.1 L92.3 235.4 L92.7 235.4 L93.0 235.7 L93.3 235.7 L93.7 235.5 L94.0 235.1 L94.3 235.7 L94.7 235.4 L95.0 234.9 L95.3 235.3 L95.7 235.8 L96.0 235.0 L96.3 235.3 L96.7 234.5 L97.0 234.3 L97.3 233.9 L97.6 235.3 L98.0 235.5 L98.3 233.9 L98.6 234.4 L99.0 233.9 L99.3 234.4 L99.6 233.7 L100.0 234.6 L100.3 233.9 L100.6 232.6 L101.0 231.3 L101.3 231.2 L101.6 228.3 L101.9 228.3 L102.3 226.8 L102.6 224.5 L102.9 223.1 L103.3 221.3 L103.6 219.4 L103.9 217.3 L104.3 214.9 L104.6 211.7 L104.9 209.4 L105.3 207.2 L105.6 205.6 L105.9 202.9 L106.3 201.8 L106.6 198.3 L106.9 196.9 L107.2 195.3 L107.6 192.6 L107.9 190.5 L108.2 186.9 L108.6 185.0 L108.9 183.1 L109.2 180.1 L109.6 177.6" fill="none" stroke="#000" stroke-width="1.3" stroke-linejoin="round" opacity="1"/>
<line x1="35.7" y1="310.9" x2="38.7" y2="310.9" stroke="#111" stroke-width="1.1"/>
<text x="33.4" y="312.8" font-size="7.3" text-anchor="end" fill="#111" >0.00</text>
<line x1="35.7" y1="298.8" x2="38.7" y2="298.8" stroke="#111" stroke-width="1.1"/>
<text x="33.4" y="300.6" font-size="7.3" text-anchor="end" fill="#111" >0.02</text>
<line x1="35.7" y1="286.6" x2="38.7" y2="286.6" stroke="#111" stroke-width="1.1"/>
<text x="33.4" y="288.5" font-size="7.3" text-anchor="end" fill="#111" >0.04</text>
<line x1="35.7" y1="274.4" x2="38.7" y2="274.4" stroke="#111" stroke-width="1.1"/>
<text x="33.4" y="276.3" font-size="7.3" text-anchor="end" fill="#111" >0.06</text>
<line x1="35.7" y1="262.3" x2="38.7" y2="262.3" stroke="#111" stroke-width="1.1"/>
<text x="33.4" y="264.2" font-size="7.3" text-anchor="end" fill="#111" >0.08</text>
<line x1="35.7" y1="250.1" x2="38.7" y2="250.1" stroke="#111" stroke-width="1.1"/>
<text x="33.4" y="252" font-size="7.3" text-anchor="end" fill="#111" >0.10</text>
<line x1="35.7" y1="238.0" x2="38.7" y2="238.0" stroke="#111" stroke-width="1.1"/>
<text x="33.4" y="239.9" font-size="7.3" text-anchor="end" fill="#111" >0.12</text>
<line x1="35.7" y1="225.8" x2="38.7" y2="225.8" stroke="#111" stroke-width="1.1"/>
<text x="33.4" y="227.7" font-size="7.3" text-anchor="end" fill="#111" >0.14</text>
<line x1="35.7" y1="213.7" x2="38.7" y2="213.7" stroke="#111" stroke-width="1.1"/>
<text x="33.4" y="215.6" font-size="7.3" text-anchor="end" fill="#111" >0.16</text>
<line x1="35.7" y1="201.5" x2="38.7" y2="201.5" stroke="#111" stroke-width="1.1"/>
<text x="33.4" y="203.4" font-size="7.3" text-anchor="end" fill="#111" >0.18</text>
<line x1="35.7" y1="189.4" x2="38.7" y2="189.4" stroke="#111" stroke-width="1.1"/>
<text x="33.4" y="191.3" font-size="7.3" text-anchor="end" fill="#111" >0.20</text>
<line x1="35.7" y1="177.2" x2="38.7" y2="177.2" stroke="#111" stroke-width="1.1"/>
<text x="33.4" y="179.1" font-size="7.3" text-anchor="end" fill="#111" >0.22</text>
<line x1="35.7" y1="165.1" x2="38.7" y2="165.1" stroke="#111" stroke-width="1.1"/>
<text x="33.4" y="167" font-size="7.3" text-anchor="end" fill="#111" >0.24</text>
<line x1="38.7" y1="310.9" x2="38.7" y2="314.1" stroke="#111" stroke-width="1.1"/>
<text x="38.7" y="322.3" font-size="7.5" text-anchor="middle" fill="#111" >0</text>
<line x1="55.2" y1="310.9" x2="55.2" y2="312.7" stroke="#111" stroke-width="1.1"/>
<line x1="71.8" y1="310.9" x2="71.8" y2="314.1" stroke="#111" stroke-width="1.1"/>
<text x="71.8" y="322.3" font-size="7.5" text-anchor="middle" fill="#111" >12</text>
<line x1="88.4" y1="310.9" x2="88.4" y2="312.7" stroke="#111" stroke-width="1.1"/>
<line x1="104.9" y1="310.9" x2="104.9" y2="314.1" stroke="#111" stroke-width="1.1"/>
<text x="104.9" y="322.3" font-size="7.5" text-anchor="middle" fill="#111" >24</text>
<line x1="121.5" y1="310.9" x2="121.5" y2="312.7" stroke="#111" stroke-width="1.1"/>
<line x1="138.0" y1="310.9" x2="138.0" y2="314.1" stroke="#111" stroke-width="1.1"/>
<text x="138" y="322.3" font-size="7.5" text-anchor="middle" fill="#111" >36</text>
<line x1="154.6" y1="310.9" x2="154.6" y2="312.7" stroke="#111" stroke-width="1.1"/>
<line x1="171.1" y1="310.9" x2="171.1" y2="314.1" stroke="#111" stroke-width="1.1"/>
<text x="171.1" y="322.3" font-size="7.5" text-anchor="middle" fill="#111" >48</text>
<line x1="187.7" y1="310.9" x2="187.7" y2="312.7" stroke="#111" stroke-width="1.1"/>
<line x1="204.2" y1="310.9" x2="204.2" y2="314.1" stroke="#111" stroke-width="1.1"/>
<text x="204.2" y="322.3" font-size="7.5" text-anchor="middle" fill="#111" >60</text>
<line x1="220.8" y1="310.9" x2="220.8" y2="312.7" stroke="#111" stroke-width="1.1"/>
<line x1="237.3" y1="310.9" x2="237.3" y2="314.1" stroke="#111" stroke-width="1.1"/>
<text x="237.3" y="322.3" font-size="7.5" text-anchor="middle" fill="#111" >72</text>
<rect x="38.7" y="159.0" width="198.6" height="151.9" fill="none" stroke="#111" stroke-width="1.3"/>
<line x1="44.2" y1="167.1" x2="56.9" y2="167.1" stroke="#111" stroke-width="1.1"/>
<text x="59.3" y="169.6" font-size="7.0" text-anchor="start" fill="#111"  textLength="38.5" lengthAdjust="spacingAndGlyphs">0.00 mg/mL</text>
<line x1="44.2" y1="176.4" x2="56.9" y2="176.4" stroke="#8a1a1a" stroke-width="1.1"/>
<text x="59.3" y="178.9" font-size="7.0" text-anchor="start" fill="#111"  textLength="38.5" lengthAdjust="spacingAndGlyphs">0.02 mg/mL</text>
<line x1="44.2" y1="185.5" x2="56.9" y2="185.5" stroke="#1e5a1e" stroke-width="1.1"/>
<text x="59.3" y="188" font-size="7.0" text-anchor="start" fill="#111"  textLength="38.5" lengthAdjust="spacingAndGlyphs">0.04 mg/mL</text>
<line x1="44.2" y1="194.2" x2="56.9" y2="194.2" stroke="#2a2a90" stroke-width="1.1"/>
<text x="59.3" y="196.7" font-size="7.0" text-anchor="start" fill="#111"  textLength="38.5" lengthAdjust="spacingAndGlyphs">0.06 mg/mL</text>
<line x1="44.2" y1="203.3" x2="56.9" y2="203.3" stroke="#d08a30" stroke-width="1.1"/>
<text x="59.3" y="205.8" font-size="7.0" text-anchor="start" fill="#111"  textLength="38.5" lengthAdjust="spacingAndGlyphs">0.08 mg/mL</text>
<text x="212" y="180.3" font-size="12.3" text-anchor="start" fill="#111"  textLength="17" lengthAdjust="spacingAndGlyphs">(b)</text>
<text x="155.8" y="297.5" font-size="12" fill="#111" textLength="71.5" lengthAdjust="spacingAndGlyphs">RGO/MoS<tspan font-size="8.5">2</tspan>-1</text>
<text x="95.2" y="331.4" font-size="7.9" text-anchor="start" fill="#111"  textLength="74.5" lengthAdjust="spacingAndGlyphs">Sliding Distance (m)</text>
<text transform="translate(9.4,234.3) rotate(-90)" x="0" y="0" font-size="7.6" text-anchor="middle" fill="#111" textLength="121.4" lengthAdjust="spacingAndGlyphs">Coefficient of friction (COF)</text>
<path d="M279.9 284.2 L280.2 283.2 L280.5 283.3 L280.8 283.6 L281.2 284.1 L281.5 283.0 L281.8 283.0 L282.2 283.5 L282.5 283.6 L282.8 284.0 L283.2 284.5 L283.5 283.8 L283.8 283.4 L284.1 284.3 L284.5 283.0 L284.8 284.1 L285.1 284.0 L285.5 284.4 L285.8 282.7 L286.1 283.1 L286.5 282.9 L286.8 283.4 L287.1 281.8 L287.5 273.6 L287.8 265.5 L288.1 258.5 L288.4 250.6 L288.8 251.8 L289.1 252.4 L289.4 251.4 L289.8 252.9 L290.1 251.7 L290.4 252.7 L290.8 252.5 L291.1 252.9 L291.4 252.6 L291.8 253.1 L292.1 253.4 L292.4 251.9 L292.7 253.0 L293.1 252.1 L293.4 253.1 L293.7 251.7 L294.1 251.8 L294.4 252.1 L294.7 252.1 L295.1 252.4 L295.4 252.1 L295.7 253.2 L296.1 252.6 L296.4 252.0 L296.7 253.1 L297.0 251.8 L297.4 251.8 L297.7 252.7 L298.0 252.8 L298.4 252.6 L298.7 252.7 L299.0 251.6 L299.4 252.7 L299.7 253.4 L300.0 253.3 L300.4 252.1 L300.7 251.6 L301.0 252.5 L301.3 252.5 L301.7 252.4 L302.0 252.1 L302.3 253.0 L302.7 252.3 L303.0 252.4 L303.3 252.3 L303.7 253.1 L304.0 253.1 L304.3 252.8 L304.7 251.7 L305.0 252.8 L305.3 252.3 L305.6 252.8 L306.0 253.2 L306.3 253.3 L306.6 251.9 L307.0 252.0 L307.3 252.7 L307.6 252.2 L308.0 252.2 L308.3 251.8 L308.6 251.6 L308.9 252.6 L309.3 251.6 L309.6 251.6 L309.9 252.3 L310.3 251.8 L310.6 252.5 L310.9 252.7 L311.3 252.9 L311.6 251.8 L311.9 253.1 L312.3 253.2 L312.6 251.9 L312.9 252.0 L313.2 252.5 L313.6 251.8 L313.9 253.3 L314.2 252.9 L314.6 252.8 L314.9 252.6 L315.2 253.0 L315.6 253.2 L315.9 252.7 L316.2 251.7 L316.6 251.6 L316.9 252.0 L317.2 252.5 L317.5 252.9 L317.9 251.6 L318.2 252.4 L318.5 252.0 L318.9 253.3 L319.2 252.9 L319.5 251.8 L319.9 251.9 L320.2 251.7 L320.5 252.2 L320.9 252.5 L321.2 252.3 L321.5 251.8 L321.8 252.8 L322.2 252.3 L322.5 252.8 L322.8 251.9 L323.2 253.3 L323.5 252.1 L323.8 251.6 L324.2 253.3 L324.5 252.2 L324.8 252.1 L325.2 251.7 L325.5 252.2 L325.8 252.8 L326.1 252.6 L326.5 251.5 L326.8 251.6 L327.1 253.0 L327.5 253.1 L327.8 253.1 L328.1 253.2 L328.5 252.5 L328.8 253.0 L329.1 251.7 L329.5 252.1 L329.8 253.0 L330.1 252.3 L330.4 252.7 L330.8 252.4 L331.1 252.9 L331.4 253.0 L331.8 252.9 L332.1 252.6 L332.4 252.0 L332.8 252.3 L333.1 253.2 L333.4 252.0 L333.7 251.7 L334.1 251.8 L334.4 251.8 L334.7 253.2 L335.1 252.4 L335.4 253.1 L335.7 251.8 L336.1 252.9 L336.4 251.9 L336.7 252.8 L337.1 252.0 L337.4 252.7 L337.7 253.2 L338.0 252.5 L338.4 252.7 L338.7 251.6 L339.0 252.7 L339.4 252.3 L339.7 252.2 L340.0 251.5 L340.4 253.0 L340.7 252.1 L341.0 252.3 L341.4 251.9 L341.7 251.4 L342.0 252.6 L342.3 251.9 L342.7 252.2 L343.0 252.2 L343.3 253.1 L343.7 251.7 L344.0 251.4 L344.3 252.5 L344.7 252.6 L345.0 251.4 L345.3 253.0 L345.7 253.0 L346.0 253.1 L346.3 251.7 L346.6 251.8 L347.0 252.4 L347.3 252.0 L347.6 253.1 L348.0 252.0 L348.3 252.4 L348.6 252.2 L349.0 252.5 L349.3 252.4 L349.6 252.8 L350.0 253.1 L350.3 252.4 L350.6 252.7 L350.9 251.9 L351.3 251.7 L351.6 251.8 L351.9 252.3 L352.3 252.7 L352.6 252.4 L352.9 252.3 L353.3 252.0 L353.6 251.4 L353.9 253.0 L354.3 252.3 L354.6 252.2 L354.9 251.8 L355.2 251.5 L355.6 251.7 L355.9 252.0 L356.2 251.7 L356.6 251.9 L356.9 251.6 L357.2 251.8 L357.6 251.9 L357.9 252.7 L358.2 251.4 L358.5 252.4 L358.9 252.0 L359.2 251.6 L359.5 251.4 L359.9 251.3 L360.2 253.1 L360.5 252.5 L360.9 252.5 L361.2 252.4 L361.5 252.8 L361.9 252.1 L362.2 253.0 L362.5 252.5 L362.8 251.4 L363.2 251.7 L363.5 252.2 L363.8 252.9 L364.2 251.3 L364.5 251.8 L364.8 252.7 L365.2 252.5 L365.5 251.9 L365.8 251.8 L366.2 252.6 L366.5 251.3 L366.8 252.5 L367.1 252.6 L367.5 251.5 L367.8 252.8 L368.1 251.8 L368.5 252.7 L368.8 252.0 L369.1 252.6 L369.5 252.4 L369.8 251.3 L370.1 252.2 L370.5 252.3 L370.8 251.9 L371.1 252.5 L371.4 252.7 L371.8 252.3 L372.1 252.5 L372.4 252.7 L372.8 251.3 L373.1 253.0 L373.4 251.6 L373.8 251.3 L374.1 251.7 L374.4 253.0 L374.8 252.1 L375.1 253.0 L375.4 251.9 L375.7 251.7 L376.1 252.6 L376.4 253.0 L376.7 252.0 L377.1 252.8 L377.4 252.4 L377.7 252.2 L378.1 251.4 L378.4 252.3 L378.7 252.8 L379.1 251.6 L379.4 251.5 L379.7 252.0 L380.0 252.9 L380.4 252.7 L380.7 252.3 L381.0 252.0 L381.4 252.6 L381.7 251.5 L382.0 251.4 L382.4 251.3 L382.7 251.4 L383.0 252.9 L383.3 251.9 L383.7 252.8 L384.0 251.3 L384.3 251.6 L384.7 251.6 L385.0 252.6 L385.3 252.9 L385.7 251.5 L386.0 251.9 L386.3 251.8 L386.7 252.1 L387.0 251.5 L387.3 252.3 L387.6 252.5 L388.0 252.3 L388.3 252.4 L388.6 251.8 L389.0 251.3 L389.3 252.8 L389.6 252.8 L390.0 252.0 L390.3 251.7 L390.6 252.6 L391.0 252.4 L391.3 252.8 L391.6 252.9 L391.9 252.0 L392.3 251.7 L392.6 251.7 L392.9 252.6 L393.3 252.7 L393.6 251.2 L393.9 251.9 L394.3 252.2 L394.6 251.7 L394.9 251.6 L395.3 252.0 L395.6 252.8 L395.9 251.4 L396.2 252.5 L396.6 252.8 L396.9 252.3 L397.2 251.9 L397.6 251.8 L397.9 252.6 L398.2 251.6 L398.6 252.0 L398.9 252.6 L399.2 251.3 L399.6 251.4 L399.9 251.2 L400.2 251.6 L400.5 252.5 L400.9 251.5 L401.2 251.2 L401.5 251.9 L401.9 251.2 L402.2 251.1 L402.5 252.2 L402.9 251.2 L403.2 251.2 L403.5 251.4 L403.9 252.8 L404.2 252.2 L404.5 251.7 L404.8 251.8 L405.2 251.5 L405.5 251.7 L405.8 252.6 L406.2 251.2 L406.5 251.9 L406.8 251.2 L407.2 252.5 L407.5 251.0 L407.8 251.8 L408.1 251.4 L408.5 251.5 L408.8 251.2 L409.1 252.2 L409.5 252.7 L409.8 252.1 L410.1 252.5 L410.5 251.8 L410.8 251.3 L411.1 252.2 L411.5 252.6 L411.8 252.8 L412.1 252.0 L412.4 251.8 L412.8 252.8 L413.1 251.6 L413.4 252.4 L413.8 252.6 L414.1 251.1 L414.4 251.9 L414.8 251.2 L415.1 251.9 L415.4 252.6 L415.8 252.4 L416.1 252.0 L416.4 251.6 L416.7 251.4 L417.1 251.4 L417.4 251.6 L417.7 252.3 L418.1 252.0 L418.4 252.1 L418.7 251.9 L419.1 252.3 L419.4 251.8 L419.7 251.9 L420.1 252.7 L420.4 251.3 L420.7 251.7 L421.0 251.3 L421.4 251.4 L421.7 251.4 L422.0 251.0 L422.4 252.1 L422.7 252.0 L423.0 252.8 L423.4 251.5 L423.7 251.7 L424.0 251.7 L424.4 250.9 L424.7 252.4 L425.0 252.3 L425.3 251.4 L425.7 251.3 L426.0 251.9 L426.3 252.6 L426.7 252.1 L427.0 251.2 L427.3 251.8 L427.7 251.9 L428.0 252.0 L428.3 251.6 L428.7 251.6 L429.0 251.5 L429.3 251.1 L429.6 251.4 L430.0 252.0 L430.3 252.3 L430.6 251.3 L431.0 251.3 L431.3 251.0 L431.6 252.4 L432.0 251.2 L432.3 251.1 L432.6 252.6 L432.9 252.1 L433.3 251.5 L433.6 252.4 L433.9 251.2 L434.3 252.2 L434.6 251.5 L434.9 252.2 L435.3 252.3 L435.6 252.3 L435.9 251.8 L436.3 251.4 L436.6 252.3 L436.9 251.4 L437.2 252.1 L437.6 251.5 L437.9 252.0 L438.2 252.3 L438.6 252.4 L438.9 252.6 L439.2 251.4 L439.6 251.9 L439.9 252.4 L440.2 251.1 L440.6 251.5 L440.9 252.6 L441.2 251.3 L441.5 251.6 L441.9 251.8 L442.2 251.7 L442.5 250.9 L442.9 252.0 L443.2 251.5 L443.5 251.5 L443.9 252.0 L444.2 252.0 L444.5 251.3 L444.9 251.5 L445.2 251.8 L445.5 251.7 L445.8 252.2 L446.2 251.2 L446.5 252.6 L446.8 251.5 L447.2 251.8 L447.5 252.2 L447.8 251.6 L448.2 251.6 L448.5 252.5 L448.8 251.7 L449.2 252.3 L449.5 251.2 L449.8 252.0 L450.1 252.0 L450.5 252.2 L450.8 252.5 L451.1 252.3 L451.5 252.3 L451.8 251.5 L452.1 251.1 L452.5 252.2 L452.8 252.4 L453.1 251.6 L453.5 252.4 L453.8 251.9 L454.1 251.2 L454.4 252.2 L454.8 251.3 L455.1 251.6 L455.4 252.4 L455.8 252.1 L456.1 251.4 L456.4 252.2 L456.8 252.0 L457.1 251.2 L457.4 250.7 L457.7 251.2 L458.1 250.8 L458.4 252.0 L458.7 251.3 L459.1 251.2 L459.4 250.1 L459.7 251.0 L460.1 250.2 L460.4 251.5 L460.7 250.6 L461.1 249.8 L461.4 249.8 L461.7 250.0 L462.0 250.6 L462.4 249.1 L462.7 250.5 L463.0 248.7 L463.4 248.9 L463.7 248.8 L464.0 249.0 L464.4 249.5 L464.7 249.0 L465.0 248.2 L465.4 248.1 L465.7 248.4 L466.0 247.5 L466.3 248.7 L466.7 248.1 L467.0 248.2 L467.3 247.6 L467.7 246.5 L468.0 246.4 L468.3 247.3 L468.7 246.8 L469.0 246.9 L469.3 245.7 L469.7 245.9 L470.0 246.0 L470.3 245.5 L470.6 244.4 L471.0 245.0 L471.3 244.3 L471.6 244.2 L472.0 244.3 L472.3 243.9 L472.6 243.8 L473.0 243.8 L473.3 242.9 L473.6 242.9 L474.0 242.4 L474.3 242.3 L474.6 240.6 L474.9 241.2 L475.3 241.2 L475.6 241.2 L475.9 240.5 L476.3 238.9 L476.6 239.5 L476.9 238.5 L477.3 239.0 L477.6 237.8" fill="none" stroke="#f0a040" stroke-width="2.0" stroke-linejoin="round" opacity="1"/>
<path d="M279.9 282.6 L280.3 283.2 L280.7 283.3 L281.1 282.6 L281.5 283.2 L281.9 283.2 L282.3 282.8 L282.7 283.1 L283.2 282.7 L283.6 276.0 L284.0 268.3 L284.4 261.7 L284.8 254.3 L285.2 254.1 L285.6 254.3 L286.1 254.1 L286.5 254.2 L286.9 254.7 L287.3 254.1 L287.7 254.3 L288.1 254.5 L288.5 254.6 L288.9 254.1 L289.4 254.3 L289.8 254.0 L290.2 254.2 L290.6 254.0 L291.0 254.3 L291.4 254.2 L291.8 254.3 L292.3 254.5 L292.7 254.0 L293.1 254.5 L293.5 254.1 L293.9 254.0 L294.3 254.2 L294.7 254.6 L295.1 254.1 L295.6 254.2 L296.0 254.5 L296.4 254.6 L296.8 254.3 L297.2 254.6 L297.6 254.0 L298.0 254.3 L298.5 254.3 L298.9 254.4 L299.3 254.2 L299.7 254.0 L300.1 254.4 L300.5 254.4 L300.9 254.2 L301.3 254.4 L301.8 254.2 L302.2 254.2 L302.6 254.3 L303.0 254.1 L303.4 254.2 L303.8 254.6 L304.2 253.9 L304.7 254.4 L305.1 254.3 L305.5 254.3 L305.9 253.9 L306.3 253.9 L306.7 254.2 L307.1 254.3 L307.5 254.5 L308.0 253.9 L308.4 254.5 L308.8 254.2 L309.2 254.3 L309.6 254.3 L310.0 254.3 L310.4 254.4 L310.9 254.5 L311.3 254.2 L311.7 254.0 L312.1 254.1 L312.5 254.4 L312.9 254.0 L313.3 254.5 L313.7 254.2 L314.2 253.9 L314.6 253.9 L315.0 254.2 L315.4 253.9 L315.8 254.2 L316.2 254.1 L316.6 254.1 L317.1 253.8 L317.5 254.0 L317.9 254.2 L318.3 254.0 L318.7 254.0 L319.1 254.2 L319.5 253.9 L319.9 253.9 L320.4 254.0 L320.8 253.8 L321.2 254.5 L321.6 254.1 L322.0 254.0 L322.4 254.2 L322.8 254.3 L323.3 254.0 L323.7 254.1 L324.1 254.3 L324.5 254.4 L324.9 253.7 L325.3 254.2 L325.7 254.4 L326.1 254.3 L326.6 254.3 L327.0 253.8 L327.4 254.3 L327.8 254.2 L328.2 254.4 L328.6 254.1 L329.0 254.3 L329.5 254.2 L329.9 253.9 L330.3 253.7 L330.7 253.8 L331.1 254.4 L331.5 254.1 L331.9 253.8 L332.3 254.4 L332.8 254.2 L333.2 254.0 L333.6 254.1 L334.0 253.8 L334.4 253.9 L334.8 254.0 L335.2 254.2 L335.7 254.2 L336.1 254.2 L336.5 254.3 L336.9 253.9 L337.3 254.2 L337.7 253.7 L338.1 253.9 L338.5 254.3 L339.0 254.0 L339.4 253.9 L339.8 254.3 L340.2 254.0 L340.6 254.3 L341.0 253.8 L341.4 254.3 L341.9 253.9 L342.3 253.6 L342.7 253.7 L343.1 254.1 L343.5 253.9 L343.9 254.2 L344.3 254.0 L344.7 253.7 L345.2 253.7 L345.6 254.3 L346.0 254.0 L346.4 253.8 L346.8 254.2 L347.2 253.7 L347.6 253.6 L348.1 253.9 L348.5 254.0 L348.9 253.6 L349.3 253.9 L349.7 254.1 L350.1 254.1 L350.5 254.1 L350.9 253.6 L351.4 253.9 L351.8 253.7 L352.2 253.6 L352.6 253.5 L353.0 254.1 L353.4 253.9 L353.8 253.6 L354.3 253.7 L354.7 253.9 L355.1 253.7 L355.5 254.1 L355.9 254.1 L356.3 254.2 L356.7 253.9 L357.1 254.0 L357.6 253.8 L358.0 253.5 L358.4 254.1 L358.8 253.8 L359.2 253.6 L359.6 253.7 L360.0 253.8 L360.5 253.6 L360.9 254.2 L361.3 253.5 L361.7 253.7 L362.1 253.6 L362.5 253.6 L362.9 254.1 L363.3 254.1 L363.8 254.0 L364.2 253.8 L364.6 253.5 L365.0 253.5 L365.4 253.8 L365.8 253.7 L366.2 253.6 L366.7 253.9 L367.1 253.4 L367.5 253.4 L367.9 253.6 L368.3 253.5 L368.7 253.5 L369.1 253.6 L369.5 253.9 L370.0 253.9 L370.4 253.9 L370.8 254.0 L371.2 253.4 L371.6 253.9 L372.0 254.1 L372.4 253.8 L372.9 254.0 L373.3 253.7 L373.7 253.8 L374.1 253.9 L374.5 253.7 L374.9 253.8 L375.3 253.8 L375.7 253.5 L376.2 253.8 L376.6 253.6 L377.0 253.4 L377.4 253.3 L377.8 253.8 L378.2 254.0 L378.6 253.3 L379.1 253.7 L379.5 253.9 L379.9 253.9 L380.3 253.8 L380.7 253.8 L381.1 253.9 L381.5 254.0 L381.9 253.3 L382.4 253.4 L382.8 253.9 L383.2 253.6 L383.6 253.4 L384.0 253.6 L384.4 253.9 L384.8 253.7 L385.3 253.7 L385.7 253.3 L386.1 253.5 L386.5 253.6 L386.9 253.5 L387.3 253.9 L387.7 253.5 L388.1 253.4 L388.6 253.5 L389.0 253.7 L389.4 253.7 L389.8 253.9 L390.2 253.9 L390.6 253.8 L391.0 253.6 L391.5 253.4 L391.9 253.8 L392.3 253.6 L392.7 253.5 L393.1 253.5 L393.5 253.9 L393.9 253.2 L394.3 253.5 L394.8 253.7 L395.2 253.7 L395.6 253.4 L396.0 253.2 L396.4 253.6 L396.8 253.6 L397.2 253.5 L397.7 253.8 L398.1 253.6 L398.5 253.2 L398.9 253.5 L399.3 253.3 L399.7 253.7 L400.1 253.2 L400.5 253.3 L401.0 253.7 L401.4 253.5 L401.8 253.3 L402.2 253.4 L402.6 253.4 L403.0 253.7 L403.4 253.4 L403.9 253.6 L404.3 253.2 L404.7 253.6 L405.1 253.1 L405.5 253.4 L405.9 253.6 L406.3 253.5 L406.7 253.7 L407.2 253.3 L407.6 253.8 L408.0 253.4 L408.4 253.6 L408.8 253.2 L409.2 253.7 L409.6 253.3 L410.1 253.3 L410.5 253.6 L410.9 253.7 L411.3 253.5 L411.7 253.3 L412.1 253.6 L412.5 253.8 L412.9 253.4 L413.4 253.2 L413.8 253.6 L414.2 253.1 L414.6 253.4 L415.0 253.6 L415.4 253.7 L415.8 253.5 L416.3 253.4 L416.7 253.6 L417.1 253.7 L417.5 253.4 L417.9 253.5 L418.3 253.4 L418.7 253.4 L419.1 253.2 L419.6 253.3 L420.0 253.5 L420.4 253.6 L420.8 253.1 L421.2 253.7 L421.6 253.6 L422.0 253.6 L422.5 253.1 L422.9 253.3 L423.3 253.0 L423.7 253.2 L424.1 253.4 L424.5 253.4 L424.9 253.1 L425.3 253.5 L425.8 253.1 L426.2 253.4 L426.6 253.6 L427.0 253.4 L427.4 253.2 L427.8 253.5 L428.2 253.0 L428.7 253.0 L429.1 253.3 L429.5 253.0 L429.9 253.1 L430.3 253.2 L430.7 253.5 L431.1 252.9 L431.5 252.9 L432.0 253.3 L432.4 253.3 L432.8 253.5 L433.2 253.1 L433.6 253.0 L434.0 253.3 L434.4 253.4 L434.9 253.1 L435.3 253.0 L435.7 253.5 L436.1 253.4 L436.5 253.1 L436.9 253.5 L437.3 253.0 L437.7 253.3 L438.2 253.0 L438.6 253.2 L439.0 253.4 L439.4 253.5 L439.8 253.5 L440.2 253.4 L440.6 253.0 L441.1 253.0 L441.5 253.1 L441.9 253.3 L442.3 253.0 L442.7 253.0 L443.1 253.3 L443.5 253.5 L443.9 253.2 L444.4 253.3 L444.8 253.4 L445.2 253.2 L445.6 253.4 L446.0 252.8 L446.4 253.3 L446.8 252.8 L447.3 253.0 L447.7 253.5 L448.1 252.8 L448.5 252.9 L448.9 253.1 L449.3 252.8 L449.7 253.1 L450.1 253.4 L450.6 253.4 L451.0 253.2 L451.4 252.8 L451.8 252.8 L452.2 253.4 L452.6 253.2 L453.0 253.4 L453.5 253.3 L453.9 253.2 L454.3 253.1 L454.7 253.3 L455.1 252.9 L455.5 253.2 L455.9 252.8 L456.3 253.1 L456.8 253.1 L457.2 252.9 L457.6 253.2 L458.0 253.2 L458.4 253.3 L458.8 253.2 L459.2 253.2 L459.7 252.9 L460.1 253.1 L460.5 252.9 L460.9 253.2 L461.3 253.3 L461.7 253.2 L462.1 253.1 L462.5 252.7 L463.0 253.2 L463.4 253.2 L463.8 253.2 L464.2 253.2 L464.6 252.7 L465.0 252.7 L465.4 253.2 L465.9 253.3 L466.3 253.0 L466.7 252.9 L467.1 253.3 L467.5 253.0 L467.9 252.8 L468.3 253.3 L468.7 252.8 L469.2 252.8 L469.6 252.7 L470.0 253.0 L470.4 253.0 L470.8 252.9 L471.2 253.2 L471.6 252.9 L472.1 253.1 L472.5 253.1 L472.9 253.3 L473.3 253.2 L473.7 253.2 L474.1 252.9 L474.5 253.1 L474.9 252.9 L475.4 252.9 L475.8 253.1 L476.2 253.2 L476.6 252.8 L477.0 252.8 L477.4 252.7" fill="none" stroke="#1a2ad0" stroke-width="1.4" stroke-linejoin="round" opacity="1"/>
<path d="M279.9 282.2 L280.2 282.2 L280.5 282.3 L280.8 283.7 L281.2 282.8 L281.5 283.1 L281.8 282.9 L282.2 283.6 L282.5 283.5 L282.8 283.0 L283.2 283.4 L283.5 283.0 L283.8 282.5 L284.1 278.5 L284.5 273.5 L284.8 270.1 L285.1 266.1 L285.5 261.8 L285.8 258.6 L286.1 255.2 L286.5 253.3 L286.8 253.6 L287.1 253.5 L287.5 253.6 L287.8 253.0 L288.1 254.0 L288.4 253.3 L288.8 254.0 L289.1 253.6 L289.4 253.5 L289.8 254.1 L290.1 254.5 L290.4 253.8 L290.8 253.4 L291.1 253.6 L291.4 253.8 L291.8 253.5 L292.1 254.3 L292.4 254.3 L292.7 254.0 L293.1 253.2 L293.4 254.2 L293.7 254.4 L294.1 254.4 L294.4 254.5 L294.7 254.1 L295.1 253.6 L295.4 253.2 L295.7 254.0 L296.1 253.9 L296.4 254.1 L296.7 254.0 L297.0 253.2 L297.4 253.6 L297.7 254.1 L298.0 254.4 L298.4 253.2 L298.7 253.3 L299.0 253.1 L299.4 254.1 L299.7 253.6 L300.0 253.0 L300.4 253.5 L300.7 252.9 L301.0 254.2 L301.3 252.9 L301.7 254.4 L302.0 253.8 L302.3 254.5 L302.7 253.1 L303.0 253.3 L303.3 252.8 L303.7 253.1 L304.0 252.9 L304.3 253.6 L304.7 252.8 L305.0 253.2 L305.3 253.9 L305.6 252.8 L306.0 253.8 L306.3 254.1 L306.6 254.3 L307.0 253.7 L307.3 254.1 L307.6 252.9 L308.0 252.8 L308.3 254.1 L308.6 254.3 L308.9 253.5 L309.3 254.2 L309.6 253.5 L309.9 253.1 L310.3 254.0 L310.6 253.7 L310.9 252.9 L311.3 253.7 L311.6 253.8 L311.9 252.9 L312.3 253.0 L312.6 252.9 L312.9 253.2 L313.2 253.7 L313.6 253.2 L313.9 253.0 L314.2 253.3 L314.6 254.0 L314.9 253.9 L315.2 253.7 L315.6 253.1 L315.9 253.4 L316.2 253.4 L316.6 253.0 L316.9 254.2 L317.2 253.3 L317.5 253.8 L317.9 253.4 L318.2 252.9 L318.5 253.9 L318.9 252.7 L319.2 254.2 L319.5 253.4 L319.9 253.4 L320.2 253.9 L320.5 253.4 L320.9 253.5 L321.2 253.6 L321.5 253.1 L321.8 254.3 L322.2 253.7 L322.5 253.0 L322.8 254.1 L323.2 252.8 L323.5 254.0 L323.8 253.2 L324.2 254.0 L324.5 253.5 L324.8 253.6 L325.2 254.2 L325.5 253.1 L325.8 253.5 L326.1 253.1 L326.5 253.4 L326.8 253.3 L327.1 253.4 L327.5 253.8 L327.8 252.7 L328.1 254.1 L328.5 252.8 L328.8 252.8 L329.1 253.4 L329.5 252.9 L329.8 253.1 L330.1 253.2 L330.4 253.8 L330.8 253.7 L331.1 253.7 L331.4 253.7 L331.8 252.6 L332.1 253.7 L332.4 253.6 L332.8 253.5 L333.1 252.8 L333.4 253.4 L333.7 253.3 L334.1 253.8 L334.4 253.7 L334.7 254.1 L335.1 253.8 L335.4 253.8 L335.7 252.8 L336.1 253.3 L336.4 254.0 L336.7 253.4 L337.1 254.0 L337.4 253.2 L337.7 253.4 L338.0 252.7 L338.4 253.7 L338.7 252.7 L339.0 253.8 L339.4 252.5 L339.7 253.1 L340.0 254.1 L340.4 252.8 L340.7 253.7 L341.0 253.5 L341.4 253.9 L341.7 252.7 L342.0 254.0 L342.3 252.9 L342.7 253.5 L343.0 253.0 L343.3 253.6 L343.7 254.0 L344.0 252.6 L344.3 253.0 L344.7 253.8 L345.0 252.5 L345.3 252.6 L345.7 253.8 L346.0 254.1 L346.3 253.1 L346.6 253.9 L347.0 252.9 L347.3 253.3 L347.6 252.9 L348.0 253.1 L348.3 252.8 L348.6 252.7 L349.0 253.1 L349.3 253.1 L349.6 253.5 L350.0 253.9 L350.3 253.9 L350.6 252.6 L350.9 253.7 L351.3 253.3 L351.6 253.5 L351.9 253.0 L352.3 253.2 L352.6 252.6 L352.9 253.3 L353.3 253.4 L353.6 252.9 L353.9 252.8 L354.3 252.5 L354.6 253.5 L354.9 252.5 L355.2 252.4 L355.6 252.4 L355.9 253.8 L356.2 253.4 L356.6 252.7 L356.9 252.6 L357.2 253.9 L357.6 253.3 L357.9 252.8 L358.2 252.7 L358.5 253.1 L358.9 253.6 L359.2 253.3 L359.5 253.9 L359.9 253.5 L360.2 253.3 L360.5 252.6 L360.9 253.0 L361.2 253.3 L361.5 253.6 L361.9 253.4 L362.2 252.8 L362.5 253.2 L362.8 253.7 L363.2 252.6 L363.5 253.0 L363.8 252.3 L364.2 253.0 L364.5 252.9 L364.8 253.2 L365.2 252.9 L365.5 252.4 L365.8 252.3 L366.2 252.8 L366.5 253.2 L366.8 253.8 L367.1 252.5 L367.5 253.3 L367.8 253.3 L368.1 253.8 L368.5 253.9 L368.8 253.2 L369.1 252.3 L369.5 252.6 L369.8 252.7 L370.1 252.8 L370.5 253.4 L370.8 253.6 L371.1 252.9 L371.4 253.8 L371.8 252.9 L372.1 253.0 L372.4 253.0 L372.8 253.7 L373.1 253.8 L373.4 253.1 L373.8 253.6 L374.1 252.8 L374.4 253.3 L374.8 252.8 L375.1 252.6 L375.4 252.8 L375.7 252.9 L376.1 253.5 L376.4 253.3 L376.7 252.2 L377.1 253.4 L377.4 253.4 L377.7 253.0 L378.1 252.9 L378.4 252.5 L378.7 253.3 L379.1 252.2 L379.4 253.8 L379.7 252.5 L380.0 252.8 L380.4 252.3 L380.7 253.5 L381.0 252.6 L381.4 252.2 L381.7 252.7 L382.0 253.6 L382.4 252.2 L382.7 252.1 L383.0 253.6 L383.3 252.4 L383.7 253.6 L384.0 253.6 L384.3 252.4 L384.7 252.5 L385.0 252.1 L385.3 252.7 L385.7 252.9 L386.0 253.3 L386.3 252.8 L386.7 252.1 L387.0 252.7 L387.3 252.3 L387.6 253.4 L388.0 252.5 L388.3 252.5 L388.6 253.6 L389.0 252.3 L389.3 253.4 L389.6 253.4 L390.0 253.6 L390.3 252.6 L390.6 253.5 L391.0 252.1 L391.3 253.7 L391.6 252.3 L391.9 252.4 L392.3 252.7 L392.6 252.7 L392.9 252.3 L393.3 252.6 L393.6 253.5 L393.9 252.3 L394.3 253.1 L394.6 252.7 L394.9 252.8 L395.3 252.1 L395.6 253.0 L395.9 252.2 L396.2 253.5 L396.6 253.1 L396.9 252.5 L397.2 252.6 L397.6 252.2 L397.9 253.3 L398.2 252.3 L398.6 252.3 L398.9 253.4 L399.2 253.4 L399.6 252.6 L399.9 252.0 L400.2 252.6 L400.5 252.9 L400.9 252.8 L401.2 252.3 L401.5 252.7 L401.9 252.7 L402.2 252.6 L402.5 252.0 L402.9 252.3 L403.2 252.2 L403.5 253.2 L403.9 252.6 L404.2 252.2 L404.5 252.4 L404.8 252.0 L405.2 252.0 L405.5 253.4 L405.8 252.7 L406.2 253.0 L406.5 253.2 L406.8 252.7 L407.2 251.9 L407.5 252.3 L407.8 253.4 L408.1 253.1 L408.5 252.9 L408.8 252.1 L409.1 252.8 L409.5 253.3 L409.8 252.6 L410.1 253.1 L410.5 253.5 L410.8 252.5 L411.1 251.9 L411.5 252.2 L411.8 252.3 L412.1 253.3 L412.4 252.6 L412.8 252.4 L413.1 252.2 L413.4 252.8 L413.8 253.4 L414.1 251.9 L414.4 253.1 L414.8 252.3 L415.1 252.7 L415.4 252.2 L415.8 252.9 L416.1 253.3 L416.4 252.8 L416.7 252.7 L417.1 252.1 L417.4 252.8 L417.7 252.3 L418.1 252.8 L418.4 252.2 L418.7 253.2 L419.1 252.0 L419.4 251.9 L419.7 253.4 L420.1 252.0 L420.4 252.1 L420.7 252.3 L421.0 253.3 L421.4 252.2 L421.7 252.1 L422.0 252.4 L422.4 251.8 L422.7 251.8 L423.0 252.4 L423.4 251.9 L423.7 248.3 L424.0 243.2 L424.4 242.7 L424.7 242.6 L425.0 241.8 L425.3 242.2 L425.7 242.2 L426.0 242.1 L426.3 241.4 L426.7 242.2 L427.0 241.6 L427.3 241.7 L427.7 241.9 L428.0 242.0 L428.3 241.4 L428.7 240.4 L429.0 238.5 L429.3 237.3 L429.6 236.4 L430.0 234.4 L430.3 233.4 L430.6 229.8 L431.0 227.4 L431.3 225.0 L431.6 222.1" fill="none" stroke="#1c6e1c" stroke-width="1.1" stroke-linejoin="round" opacity="1"/>
<path d="M279.9 282.6 L280.1 282.5 L280.4 283.4 L280.7 282.2 L281.0 283.4 L281.2 282.7 L281.5 283.6 L281.8 282.6 L282.1 283.5 L282.3 282.7 L282.6 282.6 L282.9 282.6 L283.2 283.0 L283.4 282.4 L283.7 282.2 L284.0 283.5 L284.3 279.7 L284.5 275.8 L284.8 272.9 L285.1 270.1 L285.4 267.0 L285.6 262.9 L285.9 260.9 L286.2 256.7 L286.5 253.3 L286.7 254.3 L287.0 254.0 L287.3 254.1 L287.6 253.7 L287.8 254.0 L288.1 253.2 L288.4 253.2 L288.7 254.1 L288.9 253.2 L289.2 254.4 L289.5 254.4 L289.8 253.5 L290.0 253.3 L290.3 253.3 L290.6 253.1 L290.9 253.2 L291.1 254.1 L291.4 253.4 L291.7 253.1 L292.0 254.4 L292.3 253.8 L292.5 254.3 L292.8 254.3 L293.1 253.8 L293.4 253.5 L293.6 253.1 L293.9 254.3 L294.2 253.7 L294.5 253.0 L294.7 253.4 L295.0 253.7 L295.3 254.1 L295.6 253.6 L295.8 254.1 L296.1 253.5 L296.4 253.5 L296.7 253.9 L296.9 253.3 L297.2 253.9 L297.5 253.8 L297.8 253.2 L298.0 254.1 L298.3 254.2 L298.6 253.6 L298.9 253.8 L299.1 253.2 L299.4 254.1 L299.7 253.9 L300.0 254.4 L300.2 253.8 L300.5 254.0 L300.8 253.8 L301.1 253.3 L301.3 254.4 L301.6 253.0 L301.9 253.4 L302.2 253.3 L302.4 253.6 L302.7 253.6 L303.0 253.8 L303.3 253.8 L303.5 254.1 L303.8 254.0 L304.1 254.0 L304.4 253.9 L304.7 253.1 L304.9 253.3 L305.2 253.5 L305.5 254.4 L305.8 254.0 L306.0 253.6 L306.3 253.4 L306.6 253.8 L306.9 253.5 L307.1 253.1 L307.4 254.0 L307.7 253.8 L308.0 253.3 L308.2 253.9 L308.5 253.3 L308.8 253.8 L309.1 254.4 L309.3 253.7 L309.6 254.3 L309.9 253.2 L310.2 253.2 L310.4 253.6 L310.7 253.1 L311.0 254.1 L311.3 253.7 L311.5 254.1 L311.8 254.3 L312.1 253.2 L312.4 254.3 L312.6 253.0 L312.9 253.6 L313.2 253.3 L313.5 254.3 L313.7 253.0 L314.0 253.2 L314.3 254.2 L314.6 254.1 L314.8 254.2 L315.1 253.6 L315.4 254.2 L315.7 253.2 L315.9 253.6 L316.2 253.3 L316.5 254.0 L316.8 253.4 L317.1 253.7 L317.3 253.4 L317.6 253.7 L317.9 252.9 L318.2 253.1 L318.4 253.1 L318.7 253.8 L319.0 254.1 L319.3 254.1 L319.5 254.1 L319.8 252.9 L320.1 253.9 L320.4 253.1 L320.6 254.0 L320.9 253.4 L321.2 254.0 L321.5 253.9 L321.7 253.2 L322.0 253.4 L322.3 252.9 L322.6 254.0 L322.8 253.9 L323.1 254.2 L323.4 254.0 L323.7 252.9 L323.9 253.5 L324.2 253.6 L324.5 253.8 L324.8 253.2 L325.0 253.3 L325.3 254.1 L325.6 254.2 L325.9 254.0 L326.1 253.1 L326.4 253.2 L326.7 254.0 L327.0 253.9 L327.2 253.8 L327.5 253.3 L327.8 253.2 L328.1 253.9 L328.3 253.8 L328.6 253.9 L328.9 252.9 L329.2 253.5 L329.5 252.9 L329.7 253.9 L330.0 253.4 L330.3 253.4 L330.6 252.9 L330.8 253.7 L331.1 253.9 L331.4 253.1 L331.7 252.9 L331.9 253.5 L332.2 253.8 L332.5 254.1 L332.8 253.6 L333.0 252.9 L333.3 253.7 L333.6 253.6 L333.9 253.4 L334.1 253.9 L334.4 254.1 L334.7 253.5 L335.0 252.8 L335.2 253.0 L335.5 253.8 L335.8 253.1 L336.1 253.0 L336.3 253.4 L336.6 253.7 L336.9 253.9 L337.2 253.2 L337.4 253.2 L337.7 253.9 L338.0 254.0 L338.3 254.1 L338.5 253.0 L338.8 252.9 L339.1 253.5 L339.4 253.3 L339.6 253.2 L339.9 254.0 L340.2 253.5 L340.5 253.6 L340.7 252.9 L341.0 254.0 L341.3 253.0 L341.6 254.0 L341.9 253.3 L342.1 252.9 L342.4 254.1 L342.7 253.5 L343.0 254.2 L343.2 253.5 L343.5 253.5 L343.8 252.8 L344.1 253.5 L344.3 252.9 L344.6 253.1 L344.9 253.0 L345.2 253.7 L345.4 254.0 L345.7 253.3 L346.0 254.0 L346.3 253.3 L346.5 253.9 L346.8 253.3 L347.1 253.1 L347.4 252.8 L347.6 253.9 L347.9 253.9 L348.2 253.6 L348.5 252.7 L348.7 253.8 L349.0 253.5 L349.3 253.6 L349.6 254.1 L349.8 253.4 L350.1 253.7 L350.4 253.5 L350.7 253.1 L350.9 253.2 L351.2 253.8 L351.5 253.2 L351.8 253.4 L352.0 253.0 L352.3 254.1 L352.6 253.7 L352.9 253.2 L353.1 253.3 L353.4 253.4 L353.7 253.4 L354.0 253.2 L354.3 253.1 L354.5 252.9 L354.8 253.0 L355.1 252.8 L355.4 253.3 L355.6 253.9 L355.9 253.6 L356.2 252.9 L356.5 253.0 L356.7 253.2 L357.0 253.9 L357.3 253.9 L357.6 253.2 L357.8 253.5 L358.1 253.8 L358.4 252.7 L358.7 253.8 L358.9 252.8 L359.2 253.2 L359.5 252.7 L359.8 253.0 L360.0 253.8 L360.3 253.8 L360.6 252.8 L360.9 253.5 L361.1 253.4 L361.4 253.0 L361.7 253.2 L362.0 253.0 L362.2 253.3 L362.5 253.7 L362.8 253.0 L363.1 253.9 L363.3 253.0 L363.6 252.9 L363.9 253.9 L364.2 254.1 L364.4 252.7 L364.7 253.8 L365.0 253.3 L365.3 253.6 L365.5 253.9 L365.8 253.7 L366.1 254.0 L366.4 252.8 L366.7 252.9 L366.9 252.9 L367.2 253.8 L367.5 253.6 L367.8 253.9 L368.0 252.8 L368.3 252.6 L368.6 252.7 L368.9 252.8 L369.1 253.2 L369.4 253.3 L369.7 253.9 L370.0 254.0 L370.2 253.1 L370.5 252.6 L370.8 252.6 L371.1 253.4 L371.3 253.3 L371.6 252.8 L371.9 253.6 L372.2 253.0 L372.4 253.2 L372.7 253.4 L373.0 253.5 L373.3 253.8 L373.5 253.8 L373.8 253.6 L374.1 252.6 L374.4 252.8 L374.6 254.0 L374.9 252.9 L375.2 253.8 L375.5 253.2 L375.7 252.7 L376.0 252.7 L376.3 252.7 L376.6 252.6 L376.8 253.1 L377.1 254.0 L377.4 253.6 L377.7 253.0 L377.9 253.1 L378.2 252.7 L378.5 253.7 L378.8 252.7 L379.1 253.2 L379.3 253.1 L379.6 253.8 L379.9 253.5 L380.2 253.2 L380.4 252.9 L380.7 253.0 L381.0 253.0 L381.3 252.9 L381.5 253.5 L381.8 253.5 L382.1 252.5 L382.4 253.0 L382.6 253.2 L382.9 252.6 L383.2 252.7 L383.5 252.9 L383.7 252.5 L384.0 253.4 L384.3 252.6 L384.6 253.1 L384.8 253.3 L385.1 253.4 L385.4 253.9 L385.7 252.7 L385.9 252.5 L386.2 253.4 L386.5 252.6 L386.8 253.8 L387.0 253.3 L387.3 252.5 L387.6 253.0 L387.9 253.7 L388.1 253.0 L388.4 253.9 L388.7 252.9 L389.0 253.1 L389.2 253.0 L389.5 252.9 L389.8 253.8 L390.1 252.6 L390.3 252.8 L390.6 252.6 L390.9 253.6 L391.2 253.6 L391.5 252.9 L391.7 252.6 L392.0 253.1 L392.3 254.6 L392.6 248.0 L392.8 243.7 L393.1 236.9 L393.4 228.8 L393.7 224.9 L393.9 222.0 L394.2 223.7 L394.5 229.6 L394.8 237.8 L395.0 245.6 L395.3 241.8 L395.6 243.5 L395.9 244.4 L396.1 240.0 L396.4 242.6 L396.7 243.8 L397.0 243.0 L397.2 238.9 L397.5 238.8 L397.8 234.5 L398.1 232.1 L398.3 236.3 L398.6 239.4 L398.9 243.1 L399.2 244.3 L399.4 244.0 L399.7 242.2 L400.0 241.0 L400.3 240.4 L400.5 244.0 L400.8 241.3 L401.1 243.2 L401.4 241.9 L401.6 241.0 L401.9 240.6 L402.2 237.7 L402.5 239.6 L402.7 240.7 L403.0 237.9 L403.3 239.3 L403.6 235.2 L403.9 239.0 L404.1 238.2 L404.4 238.2 L404.7 236.4 L405.0 233.2 L405.2 236.5 L405.5 233.0 L405.8 230.9 L406.1 234.0 L406.3 230.6 L406.6 230.2 L406.9 228.4 L407.2 228.4 L407.4 229.1 L407.7 229.7 L408.0 229.4 L408.3 230.2 L408.5 230.1 L408.8 226.3 L409.1 227.8 L409.4 228.1 L409.6 225.9 L409.9 227.3 L410.2 224.2 L410.5 222.0 L410.7 224.8 L411.0 226.2 L411.3 225.1 L411.6 223.8 L411.8 220.3 L412.1 219.5 L412.4 221.0 L412.7 221.7 L412.9 222.9 L413.2 218.4 L413.5 222.4 L413.8 220.7 L414.0 217.7 L414.3 217.5 L414.6 220.1 L414.9 215.5 L415.1 217.1 L415.4 216.7 L415.7 219.0 L416.0 215.7 L416.3 219.7 L416.5 216.3 L416.8 219.3 L417.1 214.9 L417.4 215.7 L417.6 215.6 L417.9 216.5 L418.2 214.0 L418.5 217.9 L418.7 217.1 L419.0 217.6 L419.3 214.0 L419.6 216.9 L419.8 217.0 L420.1 212.5 L420.4 215.6 L420.7 215.5 L420.9 213.1 L421.2 215.8 L421.5 213.4 L421.8 212.8 L422.0 217.8 L422.3 217.2 L422.6 218.6 L422.9 217.4 L423.1 215.7 L423.4 213.8 L423.7 215.0 L424.0 215.5 L424.2 219.2 L424.5 215.4 L424.8 218.6 L425.1 217.2 L425.3 220.8 L425.6 217.1 L425.9 220.8 L426.2 221.8 L426.4 219.1 L426.7 220.7 L427.0 222.6 L427.3 222.8 L427.5 221.8 L427.8 224.2 L428.1 223.9 L428.4 224.1 L428.7 224.8 L428.9 225.1 L429.2 225.7 L429.5 222.9 L429.8 223.7 L430.0 226.5 L430.3 226.6 L430.6 225.4 L430.9 224.4 L431.1 225.0 L431.4 224.3 L431.7 224.1 L432.0 226.4 L432.2 227.8 L432.5 224.6 L432.8 225.4 L433.1 226.6 L433.3 223.6 L433.6 227.8 L433.9 228.0 L434.2 225.3 L434.4 226.8 L434.7 225.4 L435.0 228.6 L435.3 226.5 L435.5 225.9 L435.8 227.0 L436.1 228.7 L436.4 229.2 L436.6 228.0 L436.9 228.2 L437.2 225.1 L437.5 229.6 L437.7 226.0 L438.0 225.0 L438.3 227.5 L438.6 229.5 L438.8 227.2 L439.1 225.5 L439.4 228.5 L439.7 226.8 L439.9 229.8 L440.2 229.6 L440.5 229.2 L440.8 227.9 L441.1 226.2 L441.3 230.5 L441.6 231.3 L441.9 230.2 L442.2 228.2 L442.4 228.1 L442.7 229.0 L443.0 228.1 L443.3 229.5 L443.5 231.4 L443.8 227.1 L444.1 230.6 L444.4 232.5 L444.6 231.7 L444.9 231.3 L445.2 228.9 L445.5 231.3 L445.7 232.1 L446.0 229.4 L446.3 229.6 L446.6 229.7 L446.8 232.0 L447.1 228.6 L447.4 230.1 L447.7 231.2 L447.9 228.8 L448.2 232.6 L448.5 232.4 L448.8 231.0 L449.0 231.1 L449.3 231.3 L449.6 233.9 L449.9 230.4 L450.1 229.3 L450.4 232.7 L450.7 230.2 L451.0 234.0 L451.2 234.1 L451.5 231.5 L451.8 229.6 L452.1 231.7 L452.3 233.5 L452.6 234.0 L452.9 229.8 L453.2 231.0 L453.5 229.4 L453.7 233.4 L454.0 230.7 L454.3 234.0 L454.6 234.2 L454.8 232.7 L455.1 233.0 L455.4 230.8 L455.7 232.6 L455.9 233.2 L456.2 230.2 L456.5 230.3 L456.8 232.6 L457.0 230.8 L457.3 234.6 L457.6 233.4 L457.9 230.3 L458.1 232.4 L458.4 234.5 L458.7 233.9 L459.0 230.3 L459.2 233.0 L459.5 229.7 L459.8 229.8 L460.1 232.0 L460.3 230.5 L460.6 233.3 L460.9 230.9 L461.2 235.0 L461.4 232.6 L461.7 235.2 L462.0 233.8 L462.3 230.1 L462.5 231.8 L462.8 235.0 L463.1 230.7 L463.4 230.5 L463.6 230.0 L463.9 232.9 L464.2 234.5 L464.5 231.1 L464.7 232.0 L465.0 235.0 L465.3 232.6 L465.6 231.9 L465.9 231.0 L466.1 231.9 L466.4 233.6 L466.7 234.8 L467.0 235.0 L467.2 234.6 L467.5 233.0 L467.8 233.1 L468.1 230.3 L468.3 232.5 L468.6 230.7 L468.9 231.6 L469.2 231.4 L469.4 230.7 L469.7 230.6 L470.0 231.5 L470.3 232.6 L470.5 230.6 L470.8 233.9 L471.1 233.8 L471.4 234.6 L471.6 234.2 L471.9 234.6 L472.2 234.3 L472.5 233.6 L472.7 231.6 L473.0 230.1 L473.3 232.1 L473.6 231.8 L473.8 232.8 L474.1 235.0 L474.4 231.9 L474.7 232.8 L474.9 233.6 L475.2 231.5 L475.5 231.0 L475.8 235.4 L476.0 236.3 L476.3 234.4 L476.6 233.9 L476.9 235.0 L477.1 236.7 L477.4 237.5 L477.7 237.1" fill="none" stroke="#ee1010" stroke-width="1.4" stroke-linejoin="round" opacity="1"/>
<path d="M287.6 254.1 L288.3 252.7 L288.9 252.9 L289.6 254.6 L290.3 252.8 L291.0 253.4 L291.7 255.0 L292.4 252.6 L293.1 254.4 L293.8 254.3 L294.5 254.0 L295.1 253.5 L295.8 254.8 L296.5 253.3 L297.2 252.9 L297.9 253.7 L298.6 253.0 L299.3 253.4 L300.0 252.9 L300.7 254.6 L301.3 254.1 L302.0 253.8 L302.7 254.8 L303.4 252.5 L304.1 253.4 L304.8 254.8 L305.5 253.5 L306.2 254.0 L306.9 254.6 L307.5 254.6 L308.2 253.8 L308.9 254.9 L309.6 253.6 L310.3 253.7 L311.0 254.7 L311.7 252.7 L312.4 254.9 L313.1 254.6 L313.7 252.9 L314.4 254.5 L315.1 253.9 L315.8 253.5 L316.5 253.9 L317.2 253.7 L317.9 253.7 L318.6 253.7 L319.3 254.9 L319.9 252.8 L320.6 254.3 L321.3 254.9 L322.0 253.9 L322.7 252.8 L323.4 253.3 L324.1 253.8 L324.8 253.7 L325.5 254.4 L326.1 253.4 L326.8 254.1 L327.5 254.8 L328.2 254.7 L328.9 254.8 L329.6 253.2 L330.3 252.6 L331.0 253.0 L331.7 254.4 L332.3 254.6 L333.0 252.4 L333.7 254.0 L334.4 254.5 L335.1 253.5 L335.8 253.3 L336.5 253.5 L337.2 253.8 L337.9 254.2 L338.5 253.6 L339.2 253.7 L339.9 253.1 L340.6 253.8 L341.3 254.0 L342.0 252.3 L342.7 254.7 L343.4 252.9 L344.1 253.8 L344.7 252.8 L345.4 253.1 L346.1 253.4 L346.8 253.3 L347.5 254.3 L348.2 254.9 L348.9 252.9 L349.6 254.2 L350.3 254.6 L350.9 252.8 L351.6 253.3 L352.3 254.8 L353.0 253.5 L353.7 254.5 L354.4 252.6 L355.1 254.2 L355.8 252.4 L356.5 253.3 L357.1 254.7 L357.8 253.8 L358.5 252.3 L359.2 253.0 L359.9 254.5 L360.6 253.9 L361.3 254.2 L362.0 254.6 L362.7 253.3 L363.3 253.0 L364.0 254.3 L364.7 253.4 L365.4 252.6 L366.1 252.5 L366.8 254.4 L367.5 254.7 L368.2 252.4 L368.9 254.0 L369.5 254.4 L370.2 252.7 L370.9 254.2 L371.6 252.9 L372.3 253.0 L373.0 254.1 L373.7 253.6 L374.4 254.1 L375.1 252.7 L375.7 254.1 L376.4 254.1 L377.1 252.6 L377.8 254.1 L378.5 253.7 L379.2 253.5 L379.9 254.8 L380.6 254.1 L381.3 252.8 L381.9 252.2 L382.6 253.9 L383.3 253.6 L384.0 254.7 L384.7 253.5 L385.4 253.9 L386.1 253.5 L386.8 254.0 L387.5 254.0 L388.1 252.4 L388.8 252.7 L389.5 253.8 L390.2 254.6 L390.9 254.7 L391.6 254.5 L392.3 254.4 L393.0 253.2 L393.7 253.4 L394.3 254.4 L395.0 252.4 L395.7 253.0 L396.4 252.9 L397.1 252.4 L397.8 253.9 L398.5 252.4 L399.2 252.2 L399.9 252.3 L400.5 254.6 L401.2 252.5 L401.9 252.1 L402.6 254.5 L403.3 252.4 L404.0 252.6 L404.7 254.7 L405.4 252.9 L406.1 252.7 L406.7 252.7 L407.4 254.6 L408.1 252.2 L408.8 254.5 L409.5 254.5 L410.2 252.2 L410.9 253.5 L411.6 254.3 L412.3 253.7 L412.9 253.1 L413.6 254.0 L414.3 252.3 L415.0 252.9 L415.7 253.7 L416.4 253.7 L417.1 254.4 L417.8 252.1 L418.5 253.9 L419.1 252.2 L419.8 253.3 L420.5 253.3 L421.2 254.2 L421.9 253.4 L422.6 254.4 L423.3 253.5 L424.0 253.1 L424.7 252.2 L425.3 254.1 L426.0 254.2 L426.7 252.6 L427.4 254.3 L428.1 254.2 L428.8 253.4 L429.5 253.5 L430.2 252.0 L430.9 254.5 L431.5 252.3 L432.2 253.4 L432.9 254.3 L433.6 254.0 L434.3 252.2 L435.0 254.2 L435.7 253.5 L436.4 254.6 L437.1 253.4 L437.7 252.8 L438.4 252.7 L439.1 253.7 L439.8 253.5 L440.5 252.4 L441.2 252.3 L441.9 253.4 L442.6 254.5 L443.3 252.1 L443.9 253.7 L444.6 253.4 L445.3 254.5 L446.0 254.6 L446.7 254.3 L447.4 253.2 L448.1 253.9 L448.8 252.5 L449.5 254.2 L450.1 252.9 L450.8 254.6 L451.5 253.6 L452.2 252.1 L452.9 253.9 L453.6 253.8 L454.3 254.5 L455.0 252.3 L455.7 253.3 L456.3 253.9 L457.0 253.1 L457.7 253.9 L458.4 252.2 L459.1 253.4 L459.8 254.4 L460.5 254.0 L461.2 254.4 L461.9 252.5 L462.5 254.3 L463.2 253.3 L463.9 253.0 L464.6 254.3 L465.3 252.8 L466.0 252.9 L466.7 252.1 L467.4 252.1 L468.1 251.9 L468.7 253.1 L469.4 253.3 L470.1 253.4 L470.8 254.2 L471.5 253.0 L472.2 251.9 L472.9 253.2 L473.6 252.3 L474.3 253.8 L474.9 253.5 L475.6 253.4 L476.3 251.9 L477.0 253.5 L477.7 252.5" fill="none" stroke="#3a2a10" stroke-width="0.8" stroke-linejoin="round" opacity="0.8"/>
<path d="M287.6 252.7 L288.1 253.7 L288.7 253.7 L289.2 253.0 L289.8 254.0 L290.3 252.7 L290.9 252.7 L291.4 254.0 L292.0 252.8 L292.5 253.1 L293.1 252.9 L293.6 252.3 L294.2 252.2 L294.7 253.3 L295.3 252.5 L295.8 252.6 L296.4 252.2 L296.9 254.0 L297.5 252.3 L298.0 253.6 L298.6 253.8 L299.1 252.9 L299.7 252.5 L300.2 252.2 L300.8 253.3 L301.3 252.5 L301.9 253.9 L302.4 252.2 L303.0 253.4 L303.5 253.0 L304.1 253.7 L304.7 253.9 L305.2 253.9 L305.8 252.8 L306.3 252.9 L306.9 252.4 L307.4 252.4 L308.0 253.1 L308.5 252.4 L309.1 253.5 L309.6 252.3 L310.2 253.4 L310.7 252.2 L311.3 253.2 L311.8 253.1 L312.4 252.9 L312.9 253.8 L313.5 253.7 L314.0 252.9 L314.6 252.6 L315.1 253.8 L315.7 253.1 L316.2 253.2 L316.8 252.4 L317.3 252.0 L317.9 253.7 L318.4 252.8 L319.0 253.6 L319.5 252.4 L320.1 252.1 L320.6 252.5 L321.2 252.7 L321.7 253.7 L322.3 253.6 L322.8 253.3 L323.4 253.6 L323.9 253.5 L324.5 252.0 L325.0 253.1 L325.6 252.1 L326.1 252.4 L326.7 252.3 L327.2 252.1 L327.8 252.5 L328.3 253.1 L328.9 252.9 L329.5 253.0 L330.0 253.7 L330.6 253.6 L331.1 252.7 L331.7 252.7 L332.2 251.9 L332.8 252.6 L333.3 252.2 L333.9 252.8 L334.4 252.6 L335.0 252.2 L335.5 253.6 L336.1 253.6 L336.6 252.9 L337.2 253.1 L337.7 252.9 L338.3 253.5 L338.8 253.3 L339.4 253.5 L339.9 252.5 L340.5 253.6 L341.0 253.6 L341.6 252.4 L342.1 252.8 L342.7 253.6 L343.2 251.9 L343.8 252.7 L344.3 251.9 L344.9 252.4 L345.4 252.6 L346.0 252.9 L346.5 253.4 L347.1 251.8 L347.6 252.8 L348.2 253.0 L348.7 253.3 L349.3 252.5 L349.8 251.7 L350.4 252.8 L350.9 252.1 L351.5 252.2 L352.0 252.6 L352.6 252.3 L353.1 252.2 L353.7 251.8 L354.3 253.4 L354.8 253.2 L355.4 253.0 L355.9 253.4 L356.5 253.0 L357.0 252.7 L357.6 253.1 L358.1 252.6 L358.7 253.4 L359.2 251.8 L359.8 252.1 L360.3 253.3 L360.9 253.0 L361.4 252.1 L362.0 253.2 L362.5 252.1 L363.1 253.3 L363.6 252.3 L364.2 252.2 L364.7 252.4 L365.3 251.9 L365.8 251.7 L366.4 251.6 L366.9 253.3 L367.5 252.5 L368.0 253.2 L368.6 252.0 L369.1 253.0 L369.7 253.1 L370.2 253.2 L370.8 253.3 L371.3 252.9 L371.9 253.0 L372.4 252.4 L373.0 251.8 L373.5 252.0 L374.1 252.7 L374.6 252.8 L375.2 251.9 L375.7 252.8 L376.3 252.1 L376.8 251.5 L377.4 252.2 L377.9 252.4 L378.5 253.2 L379.1 252.8 L379.6 251.5 L380.2 253.2 L380.7 253.2 L381.3 252.2 L381.8 252.7 L382.4 252.2 L382.9 252.8 L383.5 252.8 L384.0 252.8 L384.6 251.9 L385.1 252.0 L385.7 253.2 L386.2 251.9 L386.8 251.8 L387.3 252.3 L387.9 253.0 L388.4 253.2 L389.0 251.4 L389.5 253.0 L390.1 253.2 L390.6 253.1 L391.2 251.5 L391.7 251.3 L392.3 251.8 L392.8 251.4 L393.4 251.7 L393.9 253.0 L394.5 252.4 L395.0 252.0 L395.6 251.9 L396.1 251.7 L396.7 251.9 L397.2 252.9 L397.8 252.4 L398.3 251.4 L398.9 251.9 L399.4 252.7 L400.0 252.3 L400.5 251.3 L401.1 252.6 L401.6 252.9 L402.2 251.6 L402.7 251.9 L403.3 252.4 L403.9 252.2 L404.4 252.6 L405.0 251.8 L405.5 252.5 L406.1 252.0 L406.6 251.3 L407.2 251.8 L407.7 252.4 L408.3 252.8 L408.8 252.1 L409.4 252.9 L409.9 251.6 L410.5 252.1 L411.0 252.2 L411.6 252.4 L412.1 251.7 L412.7 252.2 L413.2 252.2 L413.8 252.6 L414.3 252.8 L414.9 252.8 L415.4 252.5 L416.0 251.6 L416.5 251.7 L417.1 252.6 L417.6 252.9 L418.2 252.4 L418.7 251.7 L419.3 252.5 L419.8 252.1 L420.4 252.7 L420.9 251.5 L421.5 251.8 L422.0 252.1 L422.6 251.1 L423.1 251.9 L423.7 252.4 L424.2 251.6 L424.8 251.1 L425.3 251.7 L425.9 251.2 L426.4 251.8 L427.0 252.3 L427.5 251.7 L428.1 252.7 L428.7 251.0 L429.2 251.9 L429.8 252.8 L430.3 252.3 L430.9 251.7 L431.4 251.2 L432.0 251.1 L432.5 252.1 L433.1 251.2 L433.6 251.9 L434.2 251.7 L434.7 251.2 L435.3 251.5 L435.8 251.7 L436.4 252.7 L436.9 252.1 L437.5 251.4 L438.0 252.0 L438.6 252.7 L439.1 251.2 L439.7 252.1 L440.2 251.4 L440.8 252.1 L441.3 252.0 L441.9 251.6 L442.4 251.8 L443.0 251.0 L443.5 251.6 L444.1 252.0 L444.6 251.7 L445.2 251.3 L445.7 251.3 L446.3 252.6 L446.8 251.7 L447.4 251.0 L447.9 251.8 L448.5 252.4 L449.0 252.4 L449.6 251.7 L450.1 251.2 L450.7 251.2 L451.2 251.9 L451.8 252.5 L452.3 252.0 L452.9 251.5 L453.5 251.7 L454.0 251.9 L454.6 252.2 L455.1 251.8 L455.7 252.3" fill="none" stroke="#f0a040" stroke-width="1.3" stroke-linejoin="round" opacity="1"/>
<path d="M280.0 310.6 L280.3 293.0 L280.7 275.1 L281.0 265.8 L281.3 256.0 L281.6 244.6 L282.0 241.3 L282.3 241.2 L282.6 240.4 L283.0 241.5 L283.3 240.1 L283.6 240.9 L284.0 241.6 L284.3 240.0 L284.6 240.6 L284.9 241.5 L285.3 240.1 L285.6 240.2 L285.9 240.2 L286.3 240.3 L286.6 239.7 L286.9 241.4 L287.3 239.7 L287.6 240.2 L287.9 240.9 L288.3 240.2 L288.6 240.7 L288.9 240.1 L289.2 240.0 L289.6 240.3 L289.9 241.0 L290.2 240.4 L290.6 240.6 L290.9 239.7 L291.2 239.4 L291.6 239.6 L291.9 240.0 L292.2 240.7 L292.6 239.7 L292.9 240.4 L293.2 239.1 L293.5 240.5 L293.9 239.1 L294.2 240.8 L294.5 239.3 L294.9 240.1 L295.2 239.7 L295.5 239.9 L295.9 240.1 L296.2 239.8 L296.5 239.1 L296.9 239.9 L297.2 239.9 L297.5 239.1 L297.8 240.1 L298.2 239.8 L298.5 239.4 L298.8 239.4 L299.2 240.0 L299.5 238.9 L299.8 239.4 L300.2 240.1 L300.5 239.6 L300.8 240.1 L301.2 239.5 L301.5 239.9 L301.8 239.6 L302.1 239.0 L302.5 238.7 L302.8 239.4 L303.1 239.1 L303.5 239.0 L303.8 238.8 L304.1 238.2 L304.5 239.4 L304.8 238.3 L305.1 238.7 L305.5 238.0 L305.8 238.4 L306.1 239.6 L306.4 239.5 L306.8 238.1 L307.1 239.0 L307.4 238.3 L307.8 239.2 L308.1 238.4 L308.4 238.6 L308.8 238.5 L309.1 239.3 L309.4 237.6 L309.7 237.7 L310.1 237.8 L310.4 238.0 L310.7 238.7 L311.1 238.7 L311.4 237.5 L311.7 238.4 L312.1 238.2 L312.4 237.3 L312.7 238.2 L313.1 237.0 L313.4 238.5 L313.7 237.2 L314.0 238.2 L314.4 238.4 L314.7 237.8 L315.0 237.1 L315.4 238.4 L315.7 237.5 L316.0 236.9 L316.4 238.4 L316.7 237.5 L317.0 237.8 L317.4 237.5 L317.7 236.8 L318.0 237.5 L318.3 237.7 L318.7 237.8 L319.0 236.7 L319.3 237.9 L319.7 236.8 L320.0 236.3 L320.3 236.8 L320.7 236.4 L321.0 237.7 L321.3 236.8 L321.7 236.8 L322.0 237.7 L322.3 237.0 L322.6 237.2 L323.0 237.5 L323.3 237.0 L323.6 237.5 L324.0 235.9 L324.3 237.3 L324.6 236.5 L325.0 236.2 L325.3 237.4 L325.6 235.7 L326.0 235.7 L326.3 236.2 L326.6 236.3 L326.9 235.7 L327.3 236.1 L327.6 236.7 L327.9 235.4 L328.3 236.7 L328.6 236.0 L328.9 235.9 L329.3 235.5 L329.6 236.2 L329.9 235.6 L330.3 236.4 L330.6 235.4 L330.9 236.4 L331.2 236.0 L331.6 235.6 L331.9 235.2 L332.2 234.8 L332.6 234.7 L332.9 235.5 L333.2 236.2 L333.6 235.2 L333.9 235.2 L334.2 234.9 L334.5 236.1 L334.9 234.6 L335.2 235.7 L335.5 234.3 L335.9 234.0 L336.2 234.7 L336.5 234.7 L336.9 234.3 L337.2 235.1 L337.5 234.1 L337.9 233.6 L338.2 233.4 L338.5 233.7 L338.8 233.6 L339.2 233.0 L339.5 234.0 L339.8 234.0 L340.2 232.6 L340.5 234.2 L340.8 233.5 L341.2 232.2 L341.5 230.6 L341.8 229.7 L342.2 229.6 L342.5 227.2 L342.8 226.9 L343.1 224.6 L343.5 222.7 L343.8 220.4 L344.1 220.1 L344.5 218.0 L344.8 216.2 L345.1 214.2 L345.5 212.5 L345.8 210.2 L346.1 208.4 L346.5 206.3 L346.8 203.2 L347.1 202.5 L347.4 199.8 L347.8 198.4 L348.1 196.2 L348.4 192.6 L348.8 190.5 L349.1 188.0 L349.4 187.1 L349.8 183.6 L350.1 182.1 L350.4 178.3" fill="none" stroke="#000" stroke-width="1.3" stroke-linejoin="round" opacity="1"/>
<line x1="276.3" y1="310.9" x2="279.3" y2="310.9" stroke="#111" stroke-width="1.1"/>
<text x="274" y="312.8" font-size="7.3" text-anchor="end" fill="#111" >0.00</text>
<line x1="276.3" y1="298.8" x2="279.3" y2="298.8" stroke="#111" stroke-width="1.1"/>
<text x="274" y="300.6" font-size="7.3" text-anchor="end" fill="#111" >0.02</text>
<line x1="276.3" y1="286.6" x2="279.3" y2="286.6" stroke="#111" stroke-width="1.1"/>
<text x="274" y="288.5" font-size="7.3" text-anchor="end" fill="#111" >0.04</text>
<line x1="276.3" y1="274.4" x2="279.3" y2="274.4" stroke="#111" stroke-width="1.1"/>
<text x="274" y="276.3" font-size="7.3" text-anchor="end" fill="#111" >0.06</text>
<line x1="276.3" y1="262.3" x2="279.3" y2="262.3" stroke="#111" stroke-width="1.1"/>
<text x="274" y="264.2" font-size="7.3" text-anchor="end" fill="#111" >0.08</text>
<line x1="276.3" y1="250.1" x2="279.3" y2="250.1" stroke="#111" stroke-width="1.1"/>
<text x="274" y="252" font-size="7.3" text-anchor="end" fill="#111" >0.10</text>
<line x1="276.3" y1="238.0" x2="279.3" y2="238.0" stroke="#111" stroke-width="1.1"/>
<text x="274" y="239.9" font-size="7.3" text-anchor="end" fill="#111" >0.12</text>
<line x1="276.3" y1="225.8" x2="279.3" y2="225.8" stroke="#111" stroke-width="1.1"/>
<text x="274" y="227.7" font-size="7.3" text-anchor="end" fill="#111" >0.14</text>
<line x1="276.3" y1="213.7" x2="279.3" y2="213.7" stroke="#111" stroke-width="1.1"/>
<text x="274" y="215.6" font-size="7.3" text-anchor="end" fill="#111" >0.16</text>
<line x1="276.3" y1="201.5" x2="279.3" y2="201.5" stroke="#111" stroke-width="1.1"/>
<text x="274" y="203.4" font-size="7.3" text-anchor="end" fill="#111" >0.18</text>
<line x1="276.3" y1="189.4" x2="279.3" y2="189.4" stroke="#111" stroke-width="1.1"/>
<text x="274" y="191.3" font-size="7.3" text-anchor="end" fill="#111" >0.20</text>
<line x1="276.3" y1="177.2" x2="279.3" y2="177.2" stroke="#111" stroke-width="1.1"/>
<text x="274" y="179.1" font-size="7.3" text-anchor="end" fill="#111" >0.22</text>
<line x1="276.3" y1="165.1" x2="279.3" y2="165.1" stroke="#111" stroke-width="1.1"/>
<text x="274" y="167" font-size="7.3" text-anchor="end" fill="#111" >0.24</text>
<line x1="279.3" y1="310.9" x2="279.3" y2="314.1" stroke="#111" stroke-width="1.1"/>
<text x="279.3" y="322.3" font-size="7.5" text-anchor="middle" fill="#111" >0</text>
<line x1="295.8" y1="310.9" x2="295.8" y2="312.7" stroke="#111" stroke-width="1.1"/>
<line x1="312.4" y1="310.9" x2="312.4" y2="314.1" stroke="#111" stroke-width="1.1"/>
<text x="312.4" y="322.3" font-size="7.5" text-anchor="middle" fill="#111" >12</text>
<line x1="328.9" y1="310.9" x2="328.9" y2="312.7" stroke="#111" stroke-width="1.1"/>
<line x1="345.4" y1="310.9" x2="345.4" y2="314.1" stroke="#111" stroke-width="1.1"/>
<text x="345.4" y="322.3" font-size="7.5" text-anchor="middle" fill="#111" >24</text>
<line x1="362.0" y1="310.9" x2="362.0" y2="312.7" stroke="#111" stroke-width="1.1"/>
<line x1="378.5" y1="310.9" x2="378.5" y2="314.1" stroke="#111" stroke-width="1.1"/>
<text x="378.5" y="322.3" font-size="7.5" text-anchor="middle" fill="#111" >36</text>
<line x1="395.0" y1="310.9" x2="395.0" y2="312.7" stroke="#111" stroke-width="1.1"/>
<line x1="411.6" y1="310.9" x2="411.6" y2="314.1" stroke="#111" stroke-width="1.1"/>
<text x="411.6" y="322.3" font-size="7.5" text-anchor="middle" fill="#111" >48</text>
<line x1="428.1" y1="310.9" x2="428.1" y2="312.7" stroke="#111" stroke-width="1.1"/>
<line x1="444.6" y1="310.9" x2="444.6" y2="314.1" stroke="#111" stroke-width="1.1"/>
<text x="444.6" y="322.3" font-size="7.5" text-anchor="middle" fill="#111" >60</text>
<line x1="461.2" y1="310.9" x2="461.2" y2="312.7" stroke="#111" stroke-width="1.1"/>
<line x1="477.7" y1="310.9" x2="477.7" y2="314.1" stroke="#111" stroke-width="1.1"/>
<text x="477.7" y="322.3" font-size="7.5" text-anchor="middle" fill="#111" >72</text>
<rect x="279.3" y="159.0" width="198.4" height="151.9" fill="none" stroke="#111" stroke-width="1.3"/>
<line x1="284.3" y1="166.7" x2="298.8" y2="166.7" stroke="#111" stroke-width="1.1"/>
<text x="301.5" y="169.2" font-size="7.0" text-anchor="start" fill="#111"  textLength="38.5" lengthAdjust="spacingAndGlyphs">0.00 mg/mL</text>
<line x1="284.3" y1="175.5" x2="298.8" y2="175.5" stroke="#8a1a1a" stroke-width="1.1"/>
<text x="301.5" y="178" font-size="7.0" text-anchor="start" fill="#111"  textLength="38.5" lengthAdjust="spacingAndGlyphs">0.02 mg/mL</text>
<line x1="284.3" y1="184.2" x2="298.8" y2="184.2" stroke="#1e5a1e" stroke-width="1.1"/>
<text x="301.5" y="186.7" font-size="7.0" text-anchor="start" fill="#111"  textLength="38.5" lengthAdjust="spacingAndGlyphs">0.04 mg/mL</text>
<line x1="284.3" y1="193.6" x2="298.8" y2="193.6" stroke="#2a2a90" stroke-width="1.1"/>
<text x="301.5" y="196.1" font-size="7.0" text-anchor="start" fill="#111"  textLength="38.5" lengthAdjust="spacingAndGlyphs">0.06 mg/mL</text>
<line x1="284.3" y1="202.7" x2="298.8" y2="202.7" stroke="#d08a30" stroke-width="1.1"/>
<text x="301.5" y="205.2" font-size="7.0" text-anchor="start" fill="#111"  textLength="38.5" lengthAdjust="spacingAndGlyphs">0.08 mg/mL</text>
<text x="453.5" y="178.9" font-size="12.0" text-anchor="start" fill="#111"  textLength="15.5" lengthAdjust="spacingAndGlyphs">(c)</text>
<text x="395.5" y="296.2" font-size="12" fill="#111" textLength="73" lengthAdjust="spacingAndGlyphs">RGO/MoS<tspan font-size="8.5">2</tspan>-2</text>
<text x="335.7" y="331.4" font-size="7.9" text-anchor="start" fill="#111"  textLength="74.5" lengthAdjust="spacingAndGlyphs">Sliding Distance (m)</text>
<text transform="translate(253.2,236) rotate(-90)" x="0" y="0" font-size="7.6" text-anchor="middle" fill="#111" textLength="115" lengthAdjust="spacingAndGlyphs">Friction Coefficient (COF)</text>
<polyline points="46.3,376.0 74.8,394.6 103.3,414.5 131.8,418.2 160.3,434.0 188.8,491.5 217.3,472.0" fill="none" stroke="#111" stroke-width="1.4"/>
<rect x="43.7" y="373.4" width="5.2" height="5.2" fill="#000"/>
<rect x="72.2" y="391.9" width="5.2" height="5.2" fill="#000"/>
<rect x="100.7" y="411.9" width="5.2" height="5.2" fill="#000"/>
<rect x="129.2" y="415.6" width="5.2" height="5.2" fill="#000"/>
<rect x="157.7" y="431.4" width="5.2" height="5.2" fill="#000"/>
<rect x="186.2" y="488.9" width="5.2" height="5.2" fill="#000"/>
<rect x="214.7" y="469.4" width="5.2" height="5.2" fill="#000"/>
<rect x="32.3" y="352.8" width="198.5" height="162.2" fill="none" stroke="#222" stroke-width="1.3"/>
<line x1="29.3" y1="376.0" x2="32.3" y2="376.0" stroke="#111" stroke-width="1.1"/>
<text x="26.6" y="378.8" font-size="7.8" text-anchor="end" fill="#111" >100</text>
<line x1="29.3" y1="422.4" x2="32.3" y2="422.4" stroke="#111" stroke-width="1.1"/>
<line x1="29.3" y1="468.8" x2="32.3" y2="468.8" stroke="#111" stroke-width="1.1"/>
<text x="26.6" y="471.6" font-size="7.8" text-anchor="end" fill="#111" >80</text>
<line x1="46.3" y1="515.0" x2="46.3" y2="518.2" stroke="#111" stroke-width="1.1"/>
<line x1="74.8" y1="515.0" x2="74.8" y2="518.2" stroke="#111" stroke-width="1.1"/>
<line x1="103.3" y1="515.0" x2="103.3" y2="518.2" stroke="#111" stroke-width="1.1"/>
<line x1="131.8" y1="515.0" x2="131.8" y2="518.2" stroke="#111" stroke-width="1.1"/>
<line x1="160.3" y1="515.0" x2="160.3" y2="518.2" stroke="#111" stroke-width="1.1"/>
<line x1="188.8" y1="515.0" x2="188.8" y2="518.2" stroke="#111" stroke-width="1.1"/>
<line x1="217.3" y1="515.0" x2="217.3" y2="518.2" stroke="#111" stroke-width="1.1"/>
<text x="205" y="374.8" font-size="13.6" text-anchor="start" fill="#111"  textLength="17.6" lengthAdjust="spacingAndGlyphs">(d)</text>
<text x="32.2" y="527.8" font-size="8" text-anchor="start" fill="#111"  textLength="28.7" lengthAdjust="spacingAndGlyphs">Base oil</text>
<text x="67" y="527.8" font-size="8" fill="#111" textLength="19.5" lengthAdjust="spacingAndGlyphs">MoS<tspan font-size="6">2</tspan></text>
<text x="92.6" y="527.8" font-size="8" text-anchor="start" fill="#111"  textLength="17.4" lengthAdjust="spacingAndGlyphs">RGO</text>
<text x="107.4" y="509.6" font-size="5.6" fill="#111" textLength="33.9" lengthAdjust="spacingAndGlyphs">MoS<tspan font-size="4.3">2</tspan>+RGO</text>
<text x="147.8" y="509.6" font-size="5.6" fill="#111" textLength="34.2" lengthAdjust="spacingAndGlyphs">RGO+MoS<tspan font-size="4.3">2</tspan></text>
<text x="164.3" y="527.5" font-size="5.6" fill="#111" textLength="37.5" lengthAdjust="spacingAndGlyphs">RGO/MoS<tspan font-size="4.3">2</tspan>-1</text>
<text x="206.2" y="527.5" font-size="5.6" fill="#111" textLength="37.8" lengthAdjust="spacingAndGlyphs">RGO/MoS<tspan font-size="4.3">2</tspan>-2</text>
<text x="110.3" y="542.2" font-size="8.2" text-anchor="start" fill="#111"  textLength="51.1" lengthAdjust="spacingAndGlyphs">Additive in oil</text>
<text transform="translate(8.6,436.5) rotate(-90)" x="0" y="0" font-size="7.2" text-anchor="middle" fill="#111" textLength="117.5" lengthAdjust="spacingAndGlyphs">Equivalent percentage of COF</text>
<rect x="280.2" y="361.5" width="9.6" height="158.5" fill="#d5862a" stroke="#111" stroke-width="0.9"/>
<line x1="282" y1="361.2" x2="288" y2="361.2" stroke="#111" stroke-width="0.8"/>
<rect x="297.90" y="442.3" width="9.45" height="77.7" fill="#ff2020" stroke="#111" stroke-width="0.9"/>
<path d="M302.6 442.3V440.8M300.6 440.8H304.6" stroke="#111" stroke-width="0.8" fill="none"/>
<rect x="307.35" y="436.9" width="9.45" height="83.1" fill="#228a22" stroke="#111" stroke-width="0.9"/>
<path d="M312.1 436.9V435.1M310.1 435.1H314.1" stroke="#111" stroke-width="0.8" fill="none"/>
<rect x="316.80" y="424.3" width="9.45" height="95.7" fill="#1f55ff" stroke="#111" stroke-width="0.9"/>
<path d="M321.5 424.3V423.4M319.5 423.4H323.5" stroke="#111" stroke-width="0.8" fill="none"/>
<rect x="326.25" y="460.2" width="9.45" height="59.8" fill="#5e5e5e" stroke="#111" stroke-width="0.9"/>
<path d="M331.0 460.2V456.9M329.0 456.9H333.0" stroke="#111" stroke-width="0.8" fill="none"/>
<rect x="342.80" y="443.5" width="9.45" height="76.5" fill="#ff2020" stroke="#111" stroke-width="0.9"/>
<path d="M347.5 443.5V442.0M345.5 442.0H349.5" stroke="#111" stroke-width="0.8" fill="none"/>
<rect x="352.25" y="476.3" width="9.45" height="43.7" fill="#228a22" stroke="#111" stroke-width="0.9"/>
<path d="M357.0 476.3V474.6M355.0 474.6H359.0" stroke="#111" stroke-width="0.8" fill="none"/>
<rect x="361.70" y="469.8" width="9.45" height="50.2" fill="#1f55ff" stroke="#111" stroke-width="0.9"/>
<path d="M366.4 469.8V468.6M364.4 468.6H368.4" stroke="#111" stroke-width="0.8" fill="none"/>
<rect x="371.15" y="433.9" width="9.45" height="86.1" fill="#5e5e5e" stroke="#111" stroke-width="0.9"/>
<path d="M375.9 433.9V433.0M373.9 433.0H377.9" stroke="#111" stroke-width="0.8" fill="none"/>
<rect x="387.30" y="481.1" width="9.45" height="38.9" fill="#ff2020" stroke="#111" stroke-width="0.9"/>
<path d="M392.0 481.1V479.0M390.0 479.0H394.0" stroke="#111" stroke-width="0.8" fill="none"/>
<rect x="396.75" y="493.7" width="9.45" height="26.3" fill="#228a22" stroke="#111" stroke-width="0.9"/>
<path d="M401.5 493.7V491.0M399.5 491.0H403.5" stroke="#111" stroke-width="0.8" fill="none"/>
<rect x="406.20" y="505.6" width="9.45" height="14.4" fill="#1f55ff" stroke="#111" stroke-width="0.9"/>
<path d="M410.9 505.6V502.7M408.9 502.7H412.9" stroke="#111" stroke-width="0.8" fill="none"/>
<rect x="415.65" y="500.6" width="9.45" height="19.4" fill="#5e5e5e" stroke="#111" stroke-width="0.9"/>
<path d="M420.4 500.6V497.0M418.4 497.0H422.4" stroke="#111" stroke-width="0.8" fill="none"/>
<rect x="432.20" y="461.4" width="9.45" height="58.6" fill="#ff2020" stroke="#111" stroke-width="0.9"/>
<path d="M436.9 461.4V460.5M434.9 460.5H438.9" stroke="#111" stroke-width="0.8" fill="none"/>
<rect x="441.65" y="476.3" width="9.45" height="43.7" fill="#228a22" stroke="#111" stroke-width="0.9"/>
<path d="M446.4 476.3V473.7M444.4 473.7H448.4" stroke="#111" stroke-width="0.8" fill="none"/>
<rect x="451.10" y="487.7" width="9.45" height="32.3" fill="#1f55ff" stroke="#111" stroke-width="0.9"/>
<path d="M455.8 487.7V485.6M453.8 485.6H457.8" stroke="#111" stroke-width="0.8" fill="none"/>
<rect x="460.55" y="483.8" width="9.45" height="36.2" fill="#5e5e5e" stroke="#111" stroke-width="0.9"/>
<path d="M465.3 483.8V480.5M463.3 480.5H467.3" stroke="#111" stroke-width="0.8" fill="none"/>
<rect x="272.7" y="353.0" width="205.8" height="167.0" fill="none" stroke="#222" stroke-width="1.3"/>
<line x1="269.7" y1="520.0" x2="272.7" y2="520.0" stroke="#111" stroke-width="1.1"/>
<text x="266.3" y="522.8" font-size="7.8" text-anchor="end" fill="#111" >0</text>
<line x1="269.7" y1="490.1" x2="272.7" y2="490.1" stroke="#111" stroke-width="1.1"/>
<text x="266.3" y="492.9" font-size="7.8" text-anchor="end" fill="#111" >5</text>
<line x1="269.7" y1="460.2" x2="272.7" y2="460.2" stroke="#111" stroke-width="1.1"/>
<text x="266.3" y="463" font-size="7.8" text-anchor="end" fill="#111" >10</text>
<line x1="269.7" y1="430.3" x2="272.7" y2="430.3" stroke="#111" stroke-width="1.1"/>
<text x="266.3" y="433.1" font-size="7.8" text-anchor="end" fill="#111" >15</text>
<line x1="269.7" y1="400.4" x2="272.7" y2="400.4" stroke="#111" stroke-width="1.1"/>
<text x="266.3" y="403.2" font-size="7.8" text-anchor="end" fill="#111" >20</text>
<line x1="269.7" y1="370.5" x2="272.7" y2="370.5" stroke="#111" stroke-width="1.1"/>
<text x="266.3" y="373.3" font-size="7.8" text-anchor="end" fill="#111" >25</text>
<line x1="277.1" y1="520.0" x2="277.1" y2="523.2" stroke="#111" stroke-width="1.1"/>
<line x1="321.6" y1="520.0" x2="321.6" y2="523.2" stroke="#111" stroke-width="1.1"/>
<line x1="366.2" y1="520.0" x2="366.2" y2="523.2" stroke="#111" stroke-width="1.1"/>
<line x1="410.9" y1="520.0" x2="410.9" y2="523.2" stroke="#111" stroke-width="1.1"/>
<line x1="455.8" y1="520.0" x2="455.8" y2="523.2" stroke="#111" stroke-width="1.1"/>
<text x="451.8" y="374.8" font-size="13.6" text-anchor="start" fill="#111"  textLength="16.7" lengthAdjust="spacingAndGlyphs">(e)</text>
<text x="270.5" y="533.2" font-size="8" text-anchor="start" fill="#111"  textLength="30.4" lengthAdjust="spacingAndGlyphs">Base oil</text>
<text x="311.9" y="533.2" font-size="8" fill="#111" textLength="20.5" lengthAdjust="spacingAndGlyphs">MoS<tspan font-size="6">2</tspan></text>
<text x="349.5" y="533.2" font-size="8" text-anchor="start" fill="#111"  textLength="18" lengthAdjust="spacingAndGlyphs">RGO</text>
<text x="379.8" y="533.2" font-size="8" fill="#111" textLength="47.5" lengthAdjust="spacingAndGlyphs">RGO/MoS<tspan font-size="6">2</tspan>-1</text>
<text x="437.6" y="533.2" font-size="8" fill="#111" textLength="48.1" lengthAdjust="spacingAndGlyphs">RGO/MoS<tspan font-size="6">2</tspan>-2</text>
<text x="350" y="546" font-size="8.4" text-anchor="start" fill="#111"  textLength="52.5" lengthAdjust="spacingAndGlyphs">Additive in oil</text>
<text transform="translate(252.4,443) rotate(-90)" x="0" y="0" font-size="7.4" text-anchor="middle" fill="#111" textLength="80" lengthAdjust="spacingAndGlyphs">Wear volume (10<tspan font-size="4.5" dy="-3">4</tspan><tspan dy="3">μm</tspan><tspan font-size="4.5" dy="-3">3</tspan><tspan dy="3">)</tspan></text>
<line x1="256.1" y1="353.3" x2="260.8" y2="359" stroke="#bbb" stroke-width="0.8"/>
</svg>
</body></html>
